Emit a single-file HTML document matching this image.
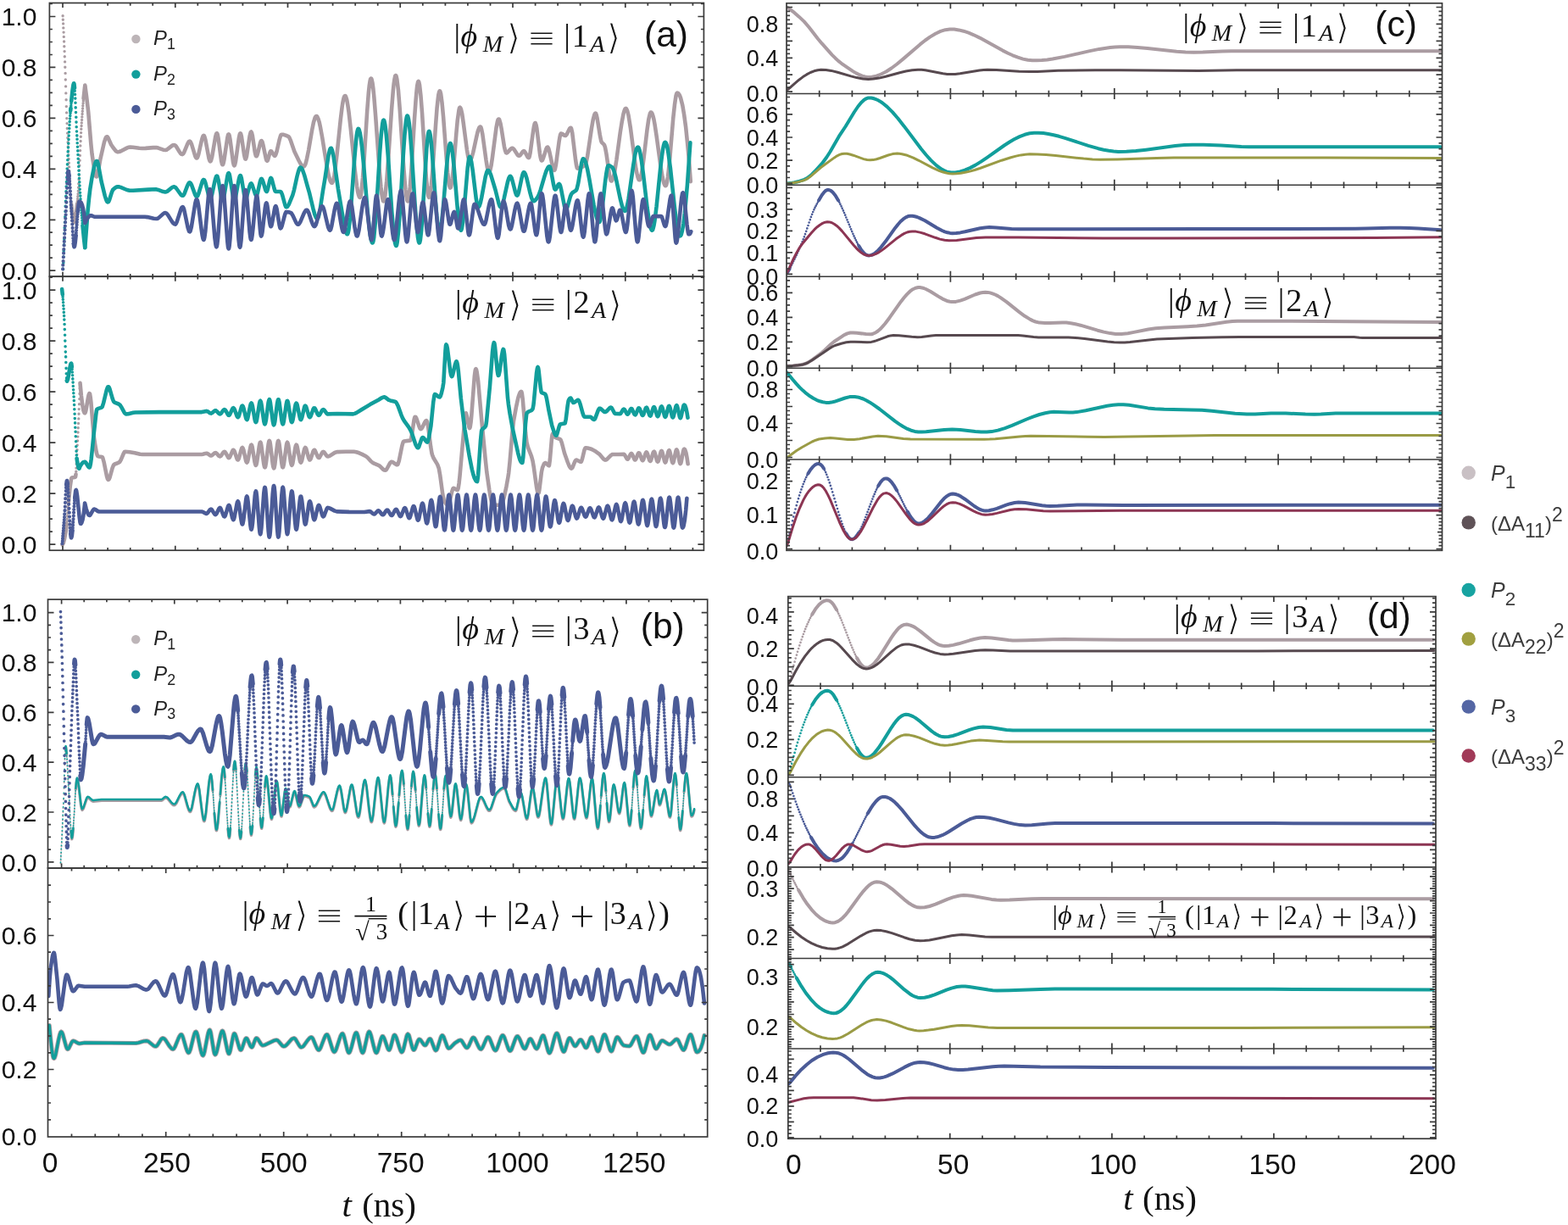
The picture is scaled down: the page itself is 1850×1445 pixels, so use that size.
<!DOCTYPE html>
<html><head><meta charset="utf-8"><title>Figure</title>
<style>html,body{margin:0;padding:0;background:#fff;}svg{display:block;}</style>
</head><body>
<svg width="1850" height="1445" viewBox="0 0 1850 1445"><defs><clipPath id="ca"><rect x="58.4" y="3.5" width="772.0" height="645.7"/></clipPath><clipPath id="cb"><rect x="56.5" y="707.1" width="778.2" height="633.9"/></clipPath><clipPath id="cc"><rect x="928" y="3.8" width="773.5" height="645.5"/></clipPath><clipPath id="cd"><rect x="929.8" y="703.6" width="764.2" height="639.6"/></clipPath></defs><rect width="1850" height="1445" fill="#fff"/><g clip-path="url(#ca)">
<path d="M84.1,241.1L85.1,249.5 86.3,257.4 87.3,261.2 87.8,262 88.1,262 88.6,260.9 89.3,257 91.1,240.3M98.6,116.1L100.1,102" fill="none" stroke="#aa9ca2" stroke-width="4.6" stroke-linejoin="round" stroke-linecap="round"/>
<path d="M74.1,18.7h0M74.3,23.2h0M74.6,27.9h0M74.8,32.9h0M75.1,38.1h0M75.3,43.4h0M75.6,49h0M75.8,54.7h0M76.1,60.6h0M76.3,66.7h0M76.6,72.9h0M76.8,79.3h0M77.1,86.4h0M77.3,94h0M77.6,101.9h0M77.8,109.9h0M78.1,117.8h0M78.3,125.6h0M78.6,132.9h0M78.8,139.6h0M79.1,145.6h0M79.3,151.5h0M79.6,157.1h0M79.8,162.6h0M80.1,167.8h0M80.3,172.9h0M80.6,177.9h0M80.8,182.7h0M81.1,187.5h0M81.3,192.2h0M81.6,196.9h0M81.8,201.7h0M82.1,206.6h0M82.3,211.6h0M82.6,216.5h0M82.8,221.3h0M83.1,225.9h0M83.3,230.3h0M83.6,234.3h0M83.8,238h0M84.1,241.1h0M91.1,240.3h0M91.3,237.5h0M91.6,234.6h0M91.8,231.7h0M92.1,228.8h0M92.3,225.3h0M92.6,221.3h0M92.8,216.8h0M93.1,211.8h0M93.3,206.5h0M93.6,200.9h0M93.8,195.1h0M94.1,189.3h0M94.3,183.4h0M94.6,177.6h0M94.8,171.9h0M95.1,166.5h0M95.3,161.3h0M95.6,156.6h0M95.8,152.3h0M96.1,148.5h0M96.3,144.9h0M96.6,141.4h0M96.8,137.9h0M97.1,134.5h0M97.3,131.2h0M97.6,128h0M97.8,124.8h0M98.1,121.8h0M98.3,118.9h0M98.6,116.1h0" fill="none" stroke="#aa9ca2" stroke-width="3.4" stroke-linecap="round"/>
<path d="M100.3,100.5L102.2,114.9 104.2,131.9 107.4,170.5 108.6,182.2 111.7,202.6 112.8,206.8 113.3,208 113.7,208.4 114.1,208.3 114.5,207.6 115.4,204.5 118.5,187.2 122.9,168 124.5,163.1 125.3,161.7 125.9,161.2 126.7,161.5 127.6,162.7 131.2,170.8 134.2,175.1 136.8,178.2 137.9,178.9 138.9,179.2 140.5,179 142.2,178.5 150.1,174.4 151.9,173.8 153.6,173.5 156.8,173.7 164.3,174.7 167.6,175 171.7,174.9 180.8,174.1 184.3,174 186.7,174.6 192.6,176.7 195.3,177 196.5,176.7 197.8,175.9 203.3,171.7 204.4,171.2 205.6,171 206.8,171.5 207.9,172.8 211.7,179 213,180.8 214,181.8 215.1,182.1 216.1,181.4 217.2,179.7 220.8,170.8 222,168.3 223,166.9 223.9,166.6 224.8,167.5 225.9,169.7 230.3,184.1 231.2,185.9 231.7,186.4 232.1,186.5 232.6,186.2 233.2,185.3 234.2,182.3 237.6,167 238.6,163 239.5,160.7 240,160 240.4,159.9 240.8,160.2 241.3,161.1 242.4,164.8 246.5,186.9 247.5,189.6 247.8,190.2 248.2,190.4 248.6,190.1 249.1,189 250.2,184.9 254.2,161.3 255.1,158.1 255.5,157.4 255.9,157.2 256.3,157.6 256.7,158.6 257.6,163.2 261.2,190.3 262,193.5 262.4,194.2 262.7,194.3 263.1,193.9 263.6,192.5 264.5,188.2 268.3,162.5 269,159.4 269.4,158.6 269.8,158.3 270.2,158.7 270.6,159.8 271.5,164.5 275,191.2 275.8,194.5 276.2,195.3 276.4,195.4 276.8,195 277.2,194 278,190.5 281.8,163.3 282.7,158.9 283.1,157.8 283.5,157.2 283.7,157.2 284.1,157.8 284.9,160.8 288,182 288.8,185.8 289.4,187.5 289.8,187.6 290.2,187 291,184.3 294.6,160.5 295.6,156.6 295.9,155.8 296.3,155.5 297,156.5 297.8,159.7 300.6,178.4 301.3,181.7 301.9,183.8 302.2,184.2 302.6,184.3 303,183.9 303.5,182.8 304.4,179.7 307.1,168.4 307.9,166.5 308.3,166.1 308.7,166.1 309.5,167.4 310.2,170 313.8,187 314.5,189.2 315.2,189.8 315.7,189.4 316.2,188.2 318.4,180.1 319.3,178.2 319.9,178.2 320.6,178.9 323.5,183.5 324.3,183.8 324.9,183.2 325.7,181.4 326.5,178.8 329.5,165.4 330.8,160.8 331.4,159.3 332,158.8 334,158.8 336.2,159.4 338.6,160.2 340.4,161.1 341.2,162 343,165.9 347.4,178.7 352.6,189.5 354.3,192.6 355.9,194.8 357.3,196 358.6,196.3 359.4,195.5 360.3,193.7 361.2,190.8 362.2,186.5 364.1,177.1 368.1,153.6 370,144.2 371.7,138.8 372.5,137.5 373.3,137 373.8,137.2 374.3,137.7 375.5,140.2 376.7,144.1 377.8,149.2 380.2,162.1 385.3,194 387.7,206.7 388.8,210.7 389.8,213.7 390.8,215.4 391.4,215.8 391.8,215.8 392.1,215.4 392.7,214.4 393.6,211.2 394.5,206.4 395.5,199.3 397.5,182.6 401.8,141.1 403.7,125.5 404.6,120 405.5,115.9 406.3,113.8 406.7,113.2 407.1,113 407.6,113.3 408.1,114.2 409.2,117.6 410.3,123.8 411.5,131.9 413.7,151.2 418.7,200.3 421,219.3 422,225.6 423,229.6 423.9,232.1 424.4,232.8 424.8,232.9 425.2,232.4 425.6,231.1 426.3,226.8 428,210 429.6,188.2 433.2,130.9 434.9,109 435.7,101.4 436.5,96 437.1,93.3 437.5,92.6 437.8,92.5 438.2,92.9 438.6,93.9 439.5,98.1 440.4,104.9 441.4,115.1 443.2,137.7 447.5,198.5 449.5,221 450.4,228.8 451.2,233.7 451.9,236.6 452.3,237.3 452.7,237.4 453.1,236.8 453.5,235.7 454.4,230.8 456.2,213.4 457.9,190.9 462,129.9 463.8,107.1 464.7,98.5 465.5,93.2 466.2,89.9 466.6,89.1 466.9,89 467.2,89.1 467.5,89.9 468.3,93.2 469.9,106 471.7,128.5 475.7,189.9 477.6,214.3 478.5,224 479.4,231.4 480.3,236 480.7,237 481.1,237.4 481.3,237.3 481.7,236.4 482.4,233.4 483.8,220.7 485.5,197.8 489,140.3 490.6,117.9 491.5,107.6 492.2,101.1 493,97.1 493.4,96.1 493.7,95.9 493.9,96 494.3,96.9 495,99.9 496.4,112.4 498,132.9 501.5,189.1 503,211.1 504.7,227.7 505.5,231.7 506.2,232.9 506.4,232.8 506.8,232 507.5,229.4 508.9,218.2 510.6,197.9 514.1,146.8 515.6,126.9 516.6,117.8 517.3,112 518.1,108.4 518.8,107.3 519,107.4 519.4,108.1 520.1,110.6 521.5,121 523.1,138.1 526.6,184.8 528.1,203.2 529.8,217.1 530.6,220.5 531.2,221.5 531.8,221 532.4,218.9 533.7,210.5 535.3,194.9 538.4,157 539.8,141.7 541.4,130.2 542,127.6 542.4,126.9 542.7,126.7 543.3,127.3 544,128.9 545.3,134.8 546.8,145.3 550.9,176.8 552.2,184.4 553.3,188.5 554,189.4 554.4,189.5 554.8,189.2 555.6,188.2 556.5,186 558.3,179.5 562.2,161.4 563.7,155.1 564.7,152.3 565.4,150.6 566.2,149.7 566.9,149.5 567.4,150.2 568,152 569.3,158.3 573.5,188.8 574.8,196.9 576,201.7 576.5,202.8 577,203.2 577.5,202.8 578.2,201.3 579.5,195.6 580.9,186.1 585.5,150.8 586.9,143.4 587.5,141.4 588.2,140.5 588.7,140.5 589.2,141.3 590.4,145.3 591.6,151.6 594.9,172.7 596,177.5 597,180.1 597.7,180.4 598.7,179.9 602.9,175.4 603.8,174.8 604.7,174.7 605.6,175.3 606.5,176.3 610.5,182.6 611.3,183.4 612.1,183.8 612.9,183.7 613.7,183.1 617,178.6 617.8,178.1 618.5,178.2 619.6,179.6 622.5,185.1 623.2,185.8 623.7,186.1 624.1,186 624.6,184.9 625.6,180.2 628.9,156 629.9,149.5 630.8,145.9 631.3,145 631.7,145.1 632.5,147.2 633.3,151.3 636.9,180.8 637.7,185.6 638.5,188.7 638.9,189.4 639.1,189.5 639.7,189.2 640.2,188.4 641.2,185.9 644.5,175.5 645.4,173.9 645.9,173.5 646.3,173.6 647.2,175.2 648.1,178.3 652.3,197.6 653.2,200.1 653.6,200.7 654,200.9 654.4,200.6 654.9,199.4 655.9,194.6 659.7,166.3 660.5,161.7 661.2,158.6 661.8,157.6 662.4,157.5 663.5,158 666.1,159.8 667,160 667.5,159.8 668.8,158.2 671.9,152 672.6,151.1 673.2,150.7 673.7,150.9 674.1,151.8 675.2,156.6 679.1,188.7 680,194.6 680.7,197.7 681.1,198.5 681.4,198.6 682.8,198.5 684.4,198.1 687.5,196.7 690.4,194.6 691,193.2 691.7,191.1 693.2,183.7 698,151.1 699.7,141.3 701.3,135.4 702.1,133.9 702.7,133.6 703.1,134 703.6,135.3 704.5,139 707.8,159.2 709.1,165.6 709.6,167.2 710.1,168.1 712.3,170.2 713,171 714,174 715.5,181.9 719.1,206.8 720.3,211.9 720.8,213.1 721.3,213.5 721.7,213.4 722.2,212.8 723.1,210.8 724.2,207.1 725.2,202.1 727.4,188.5 731.8,156 733.7,144 735.6,134 736.5,130.8 737.3,128.9 737.8,128.2 738.3,127.9 738.7,128 739.2,128.6 740.3,131.2 741.5,136 743.8,150.3 748.5,186.2 750.4,199.3 751.5,204.8 752.5,209 753.4,211.4 753.9,212.1 754.3,212.3 754.7,212.2 755.1,211.7 756,209.2 756.9,205.1 757.8,199.7 759.5,187.1 763.4,153.9 765.2,141.3 766.2,136.8 766.9,134 767.7,132.6 768.4,132.5 769.3,133.6 770.3,136.4 771.4,140.6 772.5,146.7 774.6,160.3 779.3,194.8 781.6,209 782.7,213.7 783.6,216.8 784.5,218.6 785,219.1 785.4,219.2 785.8,218.8 786.2,217.9 787,214.8 787.9,209.1 788.8,201.6 790.5,184.2 794.2,140.1 796.1,122.6 797.6,112.7 798.4,110.2 798.8,109.7 799,109.6 800.1,110 801.1,111.2 802.2,113.2 803.2,116.1 805.3,124.4 807.2,135.6 809.2,150.4 811.1,168.9 813,189.7 814.8,214.1" fill="none" stroke="#aa9ca2" stroke-width="4.6" stroke-linejoin="round" stroke-linecap="round"/>
<path d="M83.2,130.5L83.5,127.7M84.2,119.2L85.5,106.5 86.5,99.9 87,98.4 87.2,98.3 87.5,99.1 88,103.7M97.5,266.1L99,281.6 100.2,291.9" fill="none" stroke="#129e9b" stroke-width="4.6" stroke-linejoin="round" stroke-linecap="round"/>
<path d="M74.5,317.4h0M74.8,310.1h0M75,303h0M75.2,295.9h0M75.5,288.9h0M75.8,282.1h0M76,275.3h0M76.2,268.7h0M76.5,262.2h0M76.8,255.8h0M77,249.5h0M77.2,243.3h0M77.5,237.3h0M77.8,231.4h0M78,225.7h0M78.2,220.1h0M78.5,214.6h0M78.8,209.3h0M79,204.1h0M79.2,199h0M79.5,193.9h0M79.8,188.8h0M80,183.8h0M80.2,178.9h0M80.5,174h0M80.8,169.2h0M81,164.6h0M81.2,160.1h0M81.5,155.7h0M81.8,151.5h0M82,147.5h0M82.2,143.6h0M82.5,140h0M82.8,136.6h0M83,133.4h0M83.2,130.5h0M83.5,127.7h0M83.8,124.9h0M84,122h0M84.2,119.2h0M88,103.7h0M88.2,107.2h0M88.5,111.4h0M88.8,116.1h0M89,121.3h0M89.2,126.9h0M89.5,132.6h0M89.8,138.3h0M90,144.1h0M90.2,149.7h0M90.5,155h0M90.8,159.9h0M91,164.3h0M91.2,168.8h0M91.5,173.3h0M91.8,177.9h0M92,182.5h0M92.2,187.2h0M92.5,191.9h0M92.8,196.5h0M93,201.2h0M93.2,205.7h0M93.5,210.2h0M93.8,214.7h0M94,219h0M94.2,223.2h0M94.5,227.2h0M94.8,231.1h0M95,234.8h0M95.2,238.2h0M95.5,241.5h0M95.8,244.8h0M96,248h0M96.2,251.2h0M96.5,254.3h0M96.8,257.3h0M97,260.3h0M97.2,263.3h0M97.5,266.1h0" fill="none" stroke="#129e9b" stroke-width="3.6" stroke-linecap="round"/>
<path d="M100.3,292.3L103.5,249.5 105,234.3 106.3,223.2 108.6,209 110.8,197.9 112.5,192.1 113.3,190.6 113.9,190 114.5,190 114.9,190.6 115.9,193.8 119.7,214.4 123.8,231.1 124.9,234.6 125.8,236.9 126.6,238.1 127.3,238.5 128.1,237.9 128.9,236.3 131.9,226.7 133.1,224 134.5,222.6 136.2,221.3 137.5,220.6 138.8,220.3 140.5,220.4 142.3,220.9 149.7,224 152.9,224.8 157,224.8 175.2,223.6 183.9,223.3 186.6,223.9 192.5,226.1 194.9,226.5 196.1,226.3 197.5,225.6 203.1,221 204.3,220.5 205.5,220.3 206.6,220.8 207.9,222 213.3,229.5 214.4,230.5 215.5,230.8 216,230.6 216.5,230.2 217.6,228.4 220.9,219.6 222.1,217 223,215.7 223.9,215.3 224.8,216 225.9,217.9 230.3,229.9 231.3,231.5 231.9,231.9 232.2,231.9 233.2,231 234.2,228.7 238.6,214.4 239.5,212.6 240,212.1 240.4,212 240.8,212.2 241.3,212.9 242.3,215.3 246.4,231.5 247.3,233.5 247.7,233.9 248.1,234 248.5,233.7 249,232.8 250.1,229.6 253.2,214.8 254.2,210.7 255.1,208.3 255.5,207.8 255.9,207.6 256.3,207.9 256.7,208.7 257.6,212.2 261.2,233 262,235.4 262.4,235.9 262.7,236 263.1,235.6 263.6,234.4 264.5,230.6 268.3,207.9 269,205.2 269.4,204.4 269.8,204.2 270.5,205.1 271.2,208.1 274.8,231.1 275.5,234.5 275.9,235.5 276.3,236 276.7,235.8 277.1,235.2 277.9,232.8 281.8,211.6 282.7,208.3 283.5,207 283.7,207 284.1,207.6 284.9,210.2 288.1,229.7 288.9,232.8 289.3,233.7 289.7,234 290.4,233.5 291.1,231.9 294.5,219.5 295.3,217.5 295.9,216.5 296.3,216.4 296.7,216.6 297.5,217.9 300.9,228.4 301.7,230 302.1,230.5 302.4,230.6 303.1,229.9 303.9,227.7 306.7,214.9 307.4,212.6 308,211.2 308.4,210.9 308.8,211 309.6,212.2 310.5,214.7 313.1,223.7 313.9,225.4 314.3,225.9 314.7,226 315.2,225.4 315.8,223.5 318.6,211.8 319.1,210.5 319.6,210 320.3,210.6 321,212.5 323.5,222.3 324.5,225.2 325.2,226 331,226 331.7,226.5 333,229.7 336.4,242 337.3,243.9 337.7,244.2 338.1,244.3 338.7,244 339.4,243.4 340.8,241.1 345.3,230.1 347,224.1 350.5,208 352,202.4 352.8,200 353.5,198.4 354.2,197.6 354.8,197.5 355.7,198.2 356.8,200 359,206.2 362.8,219.9 365.2,228.2 369.5,246.3 371.3,252.9 372.3,255.3 373,256.9 373.8,257.8 374.5,258 375.1,257.3 375.9,255.3 377.5,248 381,225 383.2,212.1 387.6,182.9 389,176.9 389.7,175.3 390.3,174.7 390.7,174.8 391.1,175.3 391.9,177.2 393.6,185 398.9,222.6 406.1,265.5 407.1,270.3 408.1,273.9 409,275.8 409.6,276.3 410,276.2 410.6,274.9 411.4,271.2 413.1,256.5 414.6,237.4 418.3,186.5 420,166.9 420.7,160.1 421.5,155.1 422.2,152.6 422.6,151.9 422.8,151.8 423.2,152.1 423.7,153 424.8,157 425.8,163.4 427,173 429.1,194.5 433.7,249.6 436,270.9 437,278.3 437.9,283.1 438.8,285.8 439.2,286.4 439.6,286.5 440,285.9 440.4,284.6 441.2,280.1 442.8,262.9 444.4,240.7 448,181.9 449.7,159.3 451.3,145.6 451.9,142.6 452.3,141.8 452.6,141.6 453,141.9 453.4,142.8 454.3,147 455.2,153.7 456.2,164.1 458.1,187.3 462.3,250 464.3,273.2 465.2,281.2 466,286.2 466.8,289.2 467.2,289.9 467.4,290 467.7,289.8 468.1,288.9 468.7,285.7 470.1,272.8 472,247.5 475.6,185.7 477.3,160.5 479,142.8 479.8,138.2 480.2,137 480.5,136.5 480.8,136.6 481.2,137.3 482,140.5 482.8,145.9 483.7,154.5 485.5,177.6 489.5,239.7 491.2,262.6 493,280.1 493.9,284.9 494.3,286 494.7,286.5 495,286.4 495.2,285.9 495.9,283.1 497.2,271.6 498.7,250 503.3,176 504.9,159.8 505.5,156.2 505.9,155.1 506.2,154.8 506.4,154.9 506.8,155.7 507.5,158.4 508.8,168.3 510.4,188.1 513.8,236.4 515.3,254.4 516.8,268.5 517.6,272.5 518.2,273.9 518.5,274 518.9,273.5 519.5,271.6 520.3,267.7 521.1,262 522.8,245.7 526.4,202.5 528,186.1 529.7,173.5 530.5,170.2 530.9,169.4 531.2,169 531.5,169.1 531.9,169.7 532.5,171.8 534,181 535.7,197.5 539.2,239.3 540.7,255.6 542.3,267.2 543.1,270.5 543.7,271.6 544,271.7 544.2,271.4 544.9,269.4 546.1,261.8 547.4,248.8 551.7,198.1 553,188.4 553.6,185.7 554.1,184.9 554.6,185.2 555.2,186.4 556.3,191.6 557.8,201.6 561.8,234.7 563.1,241.7 563.7,243.6 564.3,244.3 564.9,244 565.6,243 566.9,239.1 568.3,232.5 572.8,208.1 574.3,203 574.9,201.6 575.4,201 576.2,201 577.1,201.9 578,203.6 579.1,206.2 584.5,224 588.6,240.5 589.7,243.4 590.3,244.1 590.8,244.3 591.3,244 592,243.1 593.3,239.6 594.7,234 599,214.5 600.4,210 601.6,208 602.1,207.8 602.6,208.1 603.7,210.1 604.8,214 608.1,227 609.1,229.7 609.6,230.4 610.2,230.6 610.5,230.3 611.1,229.5 612.1,226.3 615.4,210.6 616.5,206 617.2,204.2 617.7,203.4 618.2,203.2 618.7,203.5 619.9,205.5 621.2,209.4 625.5,227.7 627.1,233.4 628.5,236.6 629.1,237.3 629.9,237.3 631,236.7 632.3,235.4 634.3,232.6 635.5,230.4 637.8,223.9 642.4,208.1 644.3,202.2 645.4,199.7 646.4,197.8 647.3,196.7 648.2,196.3 648.6,196.5 649,197.2 649.9,200.3 653.1,217.8 654.2,222.5 654.9,223.6 655.5,223.5 656.4,222.3 658.9,217.4 659.7,216.9 660.3,217.4 661.1,219.4 662,223 665.9,242.9 666.8,245.6 667.4,246.4 667.7,246.6 668.1,246.4 668.7,245.7 669.6,243.7 672.8,232.2 674.1,228.9 675.5,227.3 679.2,224.9 680.1,223.9 680.6,222.7 682.2,216.1 686.2,192.2 687.4,188.1 687.9,187.3 688.5,187.3 689.6,188.4 690.8,191 691.9,194.9 693.1,199.8 695.3,211.2 700.5,241.4 703,253.2 704,257 705.1,259.8 706.1,261.5 707,262 707.5,261.5 708.2,259.8 709.3,254 710.8,243.5 713.9,215.6 715.2,205.5 716.6,197.7 717.3,195.8 717.8,195.2 719.6,195.6 722.1,197.1 723,198.2 723.9,200.2 725.1,203.8 726.4,208.8 731.7,234.1 733.9,242.8 735.1,246.1 736.3,248.3 736.9,248.8 737.4,248.9 737.8,248.6 738.3,247.9 739.1,246 739.9,243.1 741.6,234.4 747.2,195.2 749.1,183.4 750,179.1 750.9,175.9 751.9,174 752.6,173.5 753,173.7 753.5,174.4 754.6,177.4 755.6,182 756.8,189 758.9,204.7 763.6,244.9 765.8,260.4 766.7,265.2 767.6,268.8 768.5,271 769.3,271.7 769.7,271.5 770.1,271 770.8,268.8 771.6,265.4 772.5,260 774.6,243.5 779,200.3 781,183.6 782,176.6 782.9,172 783.8,168.9 784.4,168 784.7,167.8 785.1,167.9 785.7,168.6 786.6,170.9 787.5,174.7 788.5,180.5 790.9,198.1 795.8,243.5 798,261.3 799.2,268.7 800.3,274.3 801.4,277.4 801.9,278.2 802.4,278.5 803.1,278 803.7,276.8 805,271.9 806.5,263.3 807.9,251.5 810.9,218.4 814.4,168.4" fill="none" stroke="#129e9b" stroke-width="4.6" stroke-linejoin="round" stroke-linecap="round"/>
<path d="M80.1,204.5L80.3,202.5 80.6,201.8 80.8,202.2 81.6,207.5M86.8,287.2L87.3,290.7 87.6,291.2 88.1,290.2 88.8,285.4 89.6,277.7M91.8,249.6L92.6,242.4 93.3,238.3 93.6,237.8 94.3,237.9 95.1,238.3 95.6,238.8 96.8,241.4 98.1,246.3 99.1,252.4 100.1,260.9" fill="none" stroke="#4b5b97" stroke-width="4.6" stroke-linejoin="round" stroke-linecap="round"/>
<path d="M74.1,317.4h0M74.3,312.7h0M74.6,308h0M74.8,303.3h0M75.1,298.7h0M75.3,294h0M75.6,289.4h0M75.8,284.9h0M76.1,280.3h0M76.3,275.7h0M76.6,271.2h0M76.8,266.7h0M77.1,262.2h0M77.3,257.8h0M77.6,253.3h0M77.8,248.9h0M78.1,244h0M78.3,238.7h0M78.6,233.1h0M78.8,227.4h0M79.1,221.8h0M79.3,216.5h0M79.6,211.7h0M79.8,207.7h0M80.1,204.5h0M81.6,207.5h0M81.8,210.4h0M82.1,213.8h0M82.3,217.4h0M82.6,221.3h0M82.8,225.4h0M83.1,229.6h0M83.3,233.8h0M83.6,237.9h0M83.8,241.9h0M84.1,245.7h0M84.3,249.2h0M84.6,252.5h0M84.8,256.3h0M85.1,260.3h0M85.3,264.6h0M85.6,268.9h0M85.8,273.1h0M86.1,277.2h0M86.3,281h0M86.6,284.3h0M86.8,287.2h0M89.6,277.7h0M89.8,274.8h0M90.1,271.6h0M90.3,268.4h0M90.6,265.2h0M90.8,261.9h0M91.1,258.6h0M91.3,255.5h0M91.6,252.4h0M91.8,249.6h0" fill="none" stroke="#4b5b97" stroke-width="4.2" stroke-linecap="round"/>
<path d="M100.3,262.9L102.1,259.2 103.8,256.6 105.4,254.9 106.9,254.2 108.1,254.3 110.8,255.5 112,255.7 170.8,255.7 174,256.1 181.4,257.7 184.8,258 186,257.7 187.3,256.9 192.9,251.9 194,251.3 195.1,251.1 196.4,251.6 197.9,253.2 202.6,260.9 204.2,263.1 205.6,264.3 206.8,264.6 207.3,264.2 207.8,263.6 208.8,261.3 213.5,246.7 214.6,244.7 215.5,244.1 215.9,244.3 216.4,245 217.3,247.6 221.7,268.8 222.8,272.1 223.3,273.1 223.8,273.4 224.3,273 224.8,271.8 225.9,267.4 230.3,239.8 231.2,236.4 231.7,235.4 232.1,235.2 232.6,235.8 233.2,237.3 234.2,242.8 237.6,270.1 238.6,277.3 239.5,281.4 240,282.7 240.4,282.9 240.8,282.3 241.3,280.1 242.3,273 246,230.4 246.8,225.1 247.2,223.6 247.6,223.1 248,223.6 248.4,225 249.3,231.2 253.4,280.5 254.5,288.6 255,290.7 255.4,291.2 255.8,290.6 256.3,288.1 257.2,279.8 261.1,227.2 261.9,221.2 262.3,219.6 262.7,219.2 263.1,220.1 263.6,222.9 264.5,231.9 268.3,284.7 269,291.1 269.4,292.8 269.8,293.4 270.2,292.6 270.6,290.4 271.5,281 275,227.6 275.8,220.9 276.2,219.4 276.4,219.2 276.8,220.1 277.2,222.3 278.1,231.3 281.6,283 282.4,289.7 282.8,291.3 283.1,291.7 283.3,291.4 283.7,290 284.5,283.8 288,235.1 288.9,226.7 289.3,224.8 289.7,224.2 290,224.5 290.4,225.8 291.1,231.4 294.6,273.7 295.4,280.1 295.8,282 296.2,282.9 296.5,282.8 296.9,281.9 297.6,277.5 298.5,269.2 301.3,239.3 302.2,232.9 302.6,231.4 303,230.8 303.2,231.1 303.5,232 304.1,236.7 306.9,270.7 307.5,276.3 307.9,278.1 308.2,278.5 308.4,278.3 308.8,277.4 309.5,274.1 312.7,245.9 313.5,241.2 313.9,239.9 314.3,239.4 314.8,240.1 315.4,242.8 318.2,262.4 318.8,265.7 319.5,267.3 319.7,267.3 320.1,266.7 320.8,264.6 323.9,246.8 324.5,244.3 325.2,243.2 325.5,243.3 325.8,243.9 326.5,246.2 329.6,265.5 330.4,268.6 330.8,269.3 331,269.4 331.8,268.6 332.6,266.7 336,253.6 336.8,251.4 337.5,250.1 338.6,250 340.7,250.3 343,251 343.8,251.5 345.5,254.2 349.5,262.9 350.7,264.4 351.7,264.8 352.2,264.6 352.9,264.1 354.2,262.1 358.3,252.4 359.6,249.8 360.8,248.2 361.9,247.7 362.4,247.9 362.9,248.4 364.2,250.8 367.8,261.7 369.1,265 370.3,266.8 370.8,267.1 371.3,267 372.4,265.6 373.4,262.9 376.9,249.8 378.1,246.1 379.1,243.9 379.7,243.4 380.2,243.2 380.7,243.6 381.2,244.4 382.4,247.7 386.2,264 387.3,268.4 388.4,270.9 388.9,271.5 389.3,271.7 389.7,271.5 390.2,270.6 391.2,267 394.6,248.1 395.7,243.2 396.6,240.5 397.1,239.8 397.5,239.8 397.9,240.2 398.4,241.4 399.4,245.7 402.5,264.6 403.6,270 404.5,273 404.9,273.7 405.3,274 405.7,273.8 406.1,273 407,269.8 411.3,242.9 412.3,238.7 412.8,237.6 413.2,237.4 413.6,237.7 414.1,238.9 415.2,243.6 418.5,267.9 419.6,274.1 420.5,277.6 420.9,278.3 421.3,278.5 421.8,278 422.3,276.7 423.5,271.5 427.2,245.3 428.4,238.3 429.5,234.2 430,233.2 430.5,232.9 430.9,233.4 431.4,235.1 432.4,241.1 435.7,269.8 436.7,277.5 437.6,281.9 438,282.8 438.4,283.1 438.7,282.7 439.1,281.2 439.9,275 443,237.3 443.6,232.5 444,230.9 444.3,230.6 444.5,230.8 444.9,232.1 445.6,236.2 448.7,270.1 449.3,275.3 450,278.2 450.4,278.5 450.9,277.7 451.8,273.9 452.9,266.8 456,241.6 456.9,237 457.4,235.5 457.8,235.2 458.2,235.6 458.6,236.7 459.4,240.8 463.3,275.5 464.2,281 464.7,282.7 465.1,283.1 465.5,282.7 466,281.1 467,274.6 470.4,240.2 471.4,231.3 472.4,226.3 472.7,225.2 473.1,224.9 473.4,225.2 473.8,226.6 474.6,232 478.2,275.3 479.1,282.7 479.5,284.5 479.9,285.4 480.3,285.1 480.7,283.8 481.5,278.6 485,238.5 485.7,232 486.5,228.6 486.9,228.4 487.3,229.2 488.1,233.4 491.3,265.9 492,270.8 492.6,273.6 492.9,274 493.3,273.8 494.1,270.9 495,264.7 497.4,244 498.2,239.9 498.6,238.8 499,238.6 499.7,240.2 500.4,244.6 503.8,273.1 504.5,276.3 504.9,277.2 505.1,277.4 505.4,277.2 505.8,276 506.5,271.5 510.2,235.1 511.1,229.1 511.5,227.7 511.9,227.2 512.3,227.7 512.7,229.1 513.4,234.5 516.9,274.1 517.9,281.3 518.2,283.2 518.6,284.1 518.9,284.2 519.3,283.3 520.1,278.7 523.3,243.4 524.1,237.5 524.5,235.8 524.9,235.2 525.1,235.3 525.5,236.1 526.3,239.3 529.2,258.8 529.8,262.3 530.5,264.4 530.7,264.7 531.1,264.7 531.8,263.6 534.6,252.4 535.3,250.6 535.9,250 536.4,250.8 537.1,253.3 539.6,267.3 540.1,269 540.5,269.4 540.9,269.1 541.3,268.2 542.2,264.2 545.9,238.8 546.7,235.9 547.1,235.3 547.5,235.3 548.1,237.4 548.9,242.4 552.2,272.5 552.8,276 553.2,277.1 553.5,277.4 553.7,277.2 554.1,276.4 554.9,272.9 558.2,247.5 558.9,243.1 559.6,241.1 560,240.9 560.8,241.3 562.2,243.4 563.7,247.2 567.1,257.5 568.6,261.3 570.1,264.1 570.8,264.6 571.4,264.8 571.9,264.3 572.5,263.3 573.5,259.8 576.7,243.6 577.9,238.6 579,235.8 579.5,235.3 579.9,235.3 580.3,235.9 580.8,237.7 581.7,242.9 585.6,274.9 586.5,279.4 586.9,280.4 587.3,280.8 587.5,280.6 587.9,279.8 588.7,276 592.3,244.5 593.3,239.2 593.6,237.9 594,237.4 594.4,237.6 594.8,238.2 595.7,241 596.8,246 600.1,265.6 601.2,269.3 601.7,270.3 602.1,270.5 602.5,270.3 603,269.4 604,265.9 607.4,247.7 608.6,242.5 609.6,240 610.2,239.7 610.5,240 611.5,242.2 612.4,246.2 616.3,268.4 617.2,271.6 617.7,272.6 618.1,272.8 618.5,272.6 619,271.6 620,267.9 623.4,248.4 624.5,243.3 625.4,240.5 625.9,239.8 626.3,239.8 627.1,241.7 627.8,245.8 631.5,273.2 632.3,276.5 632.6,277.3 633,277.3 633.7,275.2 634.5,269.5 637.7,234.5 638.5,229.6 638.9,228.5 639.1,228.3 639.5,228.8 640.1,230.6 641.1,237.2 645.4,278.7 646.3,283.8 646.7,285 647.1,285.4 647.5,285.1 648,283.5 648.9,278.3 653.1,239.5 654,233.6 654.5,231.5 654.9,230.7 655.3,230.7 655.7,231.4 656.6,235.7 660.2,266.8 661.1,272.1 661.5,273.4 661.9,274 662.2,273.9 662.5,273.1 663.2,270.1 666.1,247.4 666.7,243.8 667.2,242.2 667.5,242 667.9,242.4 668.7,245 671.9,267 672.7,270.5 673.1,271.4 673.5,271.7 673.9,271.4 674.4,270.2 675.4,266.1 678.7,245.9 679.7,240.4 680.7,237 681.3,236.3 681.7,236.5 682.4,239 683.2,244 686.7,274.5 687.5,278.5 688.2,279.7 688.5,279.3 688.9,278.1 689.7,273.3 693.4,236.5 694.3,230.4 694.7,228.9 695,228.3 695.3,228.5 695.7,229.6 696.5,234.4 700.2,276.9 701.2,283.5 701.5,285 701.9,285.4 702.2,285.1 702.6,283.8 703.4,278.7 707,237.8 707.8,231.6 708.6,228.5 709,228.4 709.3,229.2 710.1,233.1 711,240.5 713.9,268.8 714.8,274.5 715.2,275.8 715.6,276.3 716.2,275.6 717,272.9 720.8,250.2 721.7,246.5 722.1,245.7 722.5,245.4 723,245.9 723.5,247.3 725.9,257.9 726.4,259.5 726.9,260.3 727.4,260 728.1,258.6 730.8,248.7 731.4,247.7 731.7,247.7 732.1,248.1 732.7,249.7 733.5,252.9 736.9,270.8 737.9,273.7 738.3,274 738.7,273.7 739.5,270.6 740.3,265 743.8,230.9 744.6,226.4 745,225.2 745.4,224.9 746,226.7 746.8,232.3 750.3,274.9 751.2,282.6 751.6,284.5 752,285.4 752.4,285.2 752.8,284.1 753.5,279.7 757.3,242.7 758.2,236.9 758.6,235.6 759,235.2 759.4,235.5 759.8,236.4 760.6,239.5 763.9,261.3 764.7,265 765.5,266.9 765.8,267.1 766.2,266.9 766.8,265.9 769.5,257.3 770.2,255.8 770.7,255.1 779.9,255 780.5,255.3 781,256.2 783.7,265 784.4,266.5 785,267 785.4,266.7 785.9,265.3 786.8,261 790.6,234.8 791.5,231.3 791.9,230.7 792.2,230.6 792.3,230.8 792.9,233.9 793.6,240.1 796.6,279.9 797.2,284.9 797.6,286.3 797.9,286.5 798.3,285.9 798.8,284 799.8,277 803.1,243.1 804.1,233.9 805,228.7 805.5,227.4 805.9,227.3 806.3,228 806.7,229.7 807.5,234.9 810.5,265.1 811.7,273.7 812.3,276 812.6,276.3 813.2,276.3 813.9,276 814.4,275.4 815.3,273.2" fill="none" stroke="#4b5b97" stroke-width="4.6" stroke-linejoin="round" stroke-linecap="round"/>
<path d="M73.5,642.3L74,642 74.8,640.5 76,635.9 78,625 78.8,618.3M80.8,592.5L82.8,573.4 84,565.1 84.2,564.3 84.8,563.6 88,563 89,562.6 89.5,559.5" fill="none" stroke="#aa9ca2" stroke-width="4.6" stroke-linejoin="round" stroke-linecap="round"/>
<path d="M78.8,618.3h0M79,615.3h0M79.2,612h0M79.5,608.6h0M79.8,605.2h0M80,601.8h0M80.2,598.4h0M80.5,595.3h0M80.8,592.5h0M89.5,559.5h0M89.8,556.3h0M90,552.1h0M90.2,547.2h0M90.5,541.8h0M90.8,536.2h0M91,530.6h0M91.2,525.1h0M91.5,520h0M91.8,515.1h0M92,510h0M92.2,504.8h0M92.5,499.4h0M92.8,493.9h0M93,488.3h0M93.2,482.6h0M93.5,476.7h0M93.8,470.6h0M94,464.5h0M94.2,458.2h0" fill="none" stroke="#aa9ca2" stroke-width="3.4" stroke-linecap="round"/>
<path d="M94.5,451.8L95.9,466.8 97.2,477.3 98.5,484.2 99.2,486.2 99.7,487.1 100.1,487.3 100.5,487 101.3,484.6 103.9,469.5 104.6,465.9 105.4,464.1 105.8,464.2 106.1,464.9 106.7,468.6 107.4,474.5 110.6,513.8 112.2,524.4 113.7,533.1 114.6,536.6 115.4,538.1 116.6,538.4 120.4,539 120.8,539.3 121.3,540.3 122.6,545 126,561.8 126.9,564.8 127.4,565.7 127.8,565.9 128.6,565.3 129.5,563.3 132.6,552.2 133.9,548.9 134.4,548.2 135.4,547.5 139.7,545.8 141.4,544.7 142.7,542.4 146,534.5 146.9,533.1 147.7,532.7 152.9,533.2 159,534.2 165.3,535.7 168.3,536 238,536 239.4,535.8 242.4,534.9 243.7,534.7 245,535.2 247.8,537.2 248.9,537.5 250.2,537 253.1,534.5 254.3,534.1 254.9,534.3 255.6,534.8 258.3,537.9 259.5,538.4 260,538.3 260.6,537.8 263.5,533.7 264.1,533.1 264.8,532.8 265.4,533.1 266.1,533.9 269,539.2 269.6,539.9 270.1,540.1 270.8,539.7 271.4,538.6 274.3,531.8 274.9,531 275.5,530.8 276.1,531.4 276.8,532.7 279.5,541 280.1,542.2 280.7,542.5 281.2,542.2 281.8,540.8 284.7,530.2 285.3,528.6 286,528 286.6,528.7 287.3,530.6 290.1,543.5 290.8,545.2 291.3,545.7 292,544.7 292.6,542.4 295.5,527.1 296.1,525.1 296.6,524.7 297.2,525.5 297.7,527.3 300.5,545 301.2,547.7 301.8,548.9 302.4,548.3 303,545.8 305.9,525.9 306.5,522.9 306.9,521.9 307.2,521.7 307.7,522.4 308.3,525.3 311.2,547 311.9,550.2 312.2,551.2 312.5,551.4 312.8,551.1 313.2,550 313.8,546.6 316.7,523.6 317.3,520.7 317.6,520.1 317.8,519.9 318.4,520.9 319,524.2 321.7,547 322.4,550.7 323,552.3 323.3,552.2 323.6,551.6 324.2,548.6 327.1,525 327.7,521.4 328.1,520.2 328.4,520 328.9,520.7 329.5,523.7 332.4,546.6 333,550 333.4,551.1 333.7,551.3 334,551.1 334.3,550.1 335,546.9 337.9,525.3 338.5,522.5 339,521.8 339.5,522.6 340.2,525.3 342.9,544.4 343.6,547.5 344.2,548.8 344.7,548.4 345.4,546.2 348.3,528.6 348.9,525.9 349.6,524.7 350.1,525.2 350.7,527.2 353.6,542.4 354.2,544.7 354.9,545.6 355.4,545.1 356.1,543.4 358.8,531.1 359.4,529 360.1,528 360.6,528.3 361.3,529.5 364.1,540.1 364.8,541.7 365.4,542.5 365.9,542.3 366.6,541.2 369.4,532.7 370.1,531.4 370.7,530.8 371.3,531 371.9,531.9 374.8,538.6 375.4,539.6 376.1,540 376.6,539.9 377.2,539.2 380,534.1 380.6,533.3 381.3,532.9 381.8,533 382.4,533.4 385.4,537.6 386.1,538.2 386.7,538.4 388,538.2 389.3,537.7 394.9,534 397.4,533.1 407.9,532.8 417.5,532.8 420.4,533.3 423.7,534.3 427.2,535.9 431.8,538.3 433.7,539.8 437.7,544.1 439.4,545.6 441.3,546.7 447.2,549.1 448.5,550.1 452.4,554 453.6,554.6 454.6,554.8 455.4,554.4 456.2,553.5 459.9,546.7 460.8,545.5 461.6,544.9 462.4,544.8 463.4,545.2 466.8,547.5 468,548.1 468.9,548.2 469.5,547.5 470.8,543.5 474.2,526.6 475,523.5 475.8,521.3 476.2,520.7 476.6,520.5 483.5,519.6 484.4,519.4 484.8,518.7 485.9,513.3 488.5,495.4 489.2,492.7 489.6,491.8 489.8,491.7 490.5,492.1 491.3,493.5 494.8,503.7 495.5,505.3 496.3,506.1 497.1,505.9 498,504.8 501,498.5 502,496.8 502.6,496.3 503.1,496.1 503.3,496.2 503.7,497 504.4,499.4 505.2,503.8 508.2,527.2 509.6,535.3 510.5,537.9 511.5,540.3 516.1,547.9 517.8,552.5 519.2,560.3 522.3,583.3 523.8,590.3 524.7,592.1 526.4,594.4 527.5,595.5 528.7,595.8 529.3,595.1 530.1,593.1 533.2,580 534.5,576.3 535.1,575.8 535.7,575.9 538.7,577.7 539.7,578 540.1,577.5 540.7,575.7 541.6,569.8 542.5,561.4 548.8,490.2 549.5,487.4 549.8,487.4 550.1,488 550.9,491 553.3,503.4 553.7,504.5 554,505 554.3,504.8 554.7,503.7 555.5,498.5 556.3,490.3 559.8,444.1 560.7,437.1 561.1,435.6 561.5,435.2 562,436 562.6,438.6 564.1,449.3 568,493 572.8,542.7 574.3,556.9 577.3,577.8 578.9,587.4 580.3,593.5 581,595.1 581.5,595.7 590.6,595.8 591.1,595.6 591.9,594.8 592.8,593 594.7,586.7 597.5,573.7 599.5,562.3 600.2,557.8 601.5,545 604.5,509.6 605.9,497.2 608.9,480.5 611.1,470.2 612.2,466.5 613.1,464.1 614,462.5 614.9,461.8 615.3,462.1 615.8,463.9 616.7,470.5 620.1,510.6 621.4,521.6 623.1,528.2 627,538.2 628.5,543.6 629.8,551.2 633.1,574.9 634.1,580 634.6,581.4 635,582 635.4,581.8 635.7,581.2 636.3,578.2 638.9,556.9 640,551.6 641.8,547.4 642.4,546.5 643.1,546 643.6,546 644.3,546.4 647.1,549.1 647.8,549.3 648,548.7 648.9,541.9 651,517.2 651.5,513.2 652.1,511.6 652.5,511.7 653,512.2 654.8,515.2 655.4,516 656.7,516.6 660.1,517.8 661,518.3 661.6,519 662.9,522.5 666,534.5 669.9,545.5 671.2,548.7 672.2,550.7 673.1,552 674,552.6 674.7,552.5 675.5,551.4 678.2,544.6 679.4,542.8 679.9,542.6 680.8,542.8 684.7,544.7 685.5,544.8 685.9,544.5 687,541.3 689.6,530.4 690.3,528.8 690.9,528.2 693.3,528.5 696.9,529.5 699.1,530.4 701.5,531.7 707.7,536.2 712.1,541.4 713.2,542.3 714.1,542.6 715,542.4 716,541.9 720.7,537.1 721.9,536.3 722.9,536 729.7,536 736.2,535.7 737.2,536.8 739.6,541.1 740.1,541.6 740.6,541.7 741.1,541.3 741.6,540.5 743.8,535.9 744.4,535.2 744.9,534.9 745.4,535.2 746.1,536.2 748.4,541.6 748.9,542.3 749.4,542.5 750,542 750.5,541.1 752.8,535.2 753.3,534.4 753.9,534.2 754.4,534.6 754.9,535.5 757.2,542 757.8,542.9 758.3,543.2 758.8,542.8 759.3,541.8 761.8,534.5 762.3,533.6 762.7,533.4 763.2,533.8 763.9,535.2 766.2,542.8 766.7,543.7 767.2,543.9 767.8,543.4 768.3,542.1 770.6,534 771.1,533 771.7,532.7 772.2,533.2 772.7,534.5 775,543.2 775.6,544.3 776.1,544.7 776.6,544.2 777.1,542.8 779.6,533.3 780.1,532.2 780.5,531.9 780.9,532.2 781.4,533.4 783.9,543.5 784.4,544.9 784.9,545.5 785.4,545 786.1,543.1 788.4,532.9 789,531.6 789.5,531.2 790,531.9 790.5,533.5 792.9,544.3 793.4,545.7 793.9,546.2 794.4,545.5 794.9,543.8 797.4,532.1 797.9,530.7 798.3,530.4 798.8,531.1 799.4,532.8 801.8,545.1 802.3,546.6 802.7,547 803.3,546.3 803.9,544.1 806.2,531.7 806.8,530.1 807.3,529.7 807.8,530 808.3,530.8 809.4,534 810.4,539.1 811.6,547.2" fill="none" stroke="#aa9ca2" stroke-width="4.6" stroke-linejoin="round" stroke-linecap="round"/>
<path d="M73.1,341.1L73.8,347.3M78.8,449L79.1,449.6 79.3,449.3 80.1,447.1 82.6,433 83.3,429.8 83.8,428.7 84.1,428.6 84.3,429.1 84.8,432.7M90.6,540.7L91.1,544.5 92.1,549.8 92.8,552.1 93.3,552.6" fill="none" stroke="#129e9b" stroke-width="4.6" stroke-linejoin="round" stroke-linecap="round"/>
<path d="M73.8,347.3h0M74.1,350.2h0M74.3,353.3h0M74.6,356.8h0M74.8,360.5h0M75.1,364.3h0M75.3,368.4h0M75.6,372.6h0M75.8,377.1h0M76.1,382.5h0M76.3,388.6h0M76.6,395.3h0M76.8,402.1h0M77.1,408.8h0M77.3,415.1h0M77.6,420.9h0M77.8,427.5h0M78.1,434.4h0M78.3,440.8h0M78.6,445.9h0M78.8,449h0M84.8,432.7h0M85.1,435.6h0M85.3,439h0M85.6,442.8h0M85.8,446.9h0M86.1,451.1h0M86.3,455.5h0M86.6,459.7h0M86.8,463.7h0M87.1,468h0M87.3,472.6h0M87.6,477.6h0M87.8,482.8h0M88.1,488.2h0M88.3,493.6h0M88.6,498.9h0M88.8,504.2h0M89.1,509.3h0M89.3,514.8h0M89.6,520.8h0M89.8,526.7h0M90.1,532.3h0M90.3,537h0M90.6,540.7h0" fill="none" stroke="#129e9b" stroke-width="3.6" stroke-linecap="round"/>
<path d="M93.4,552.6L94.8,549.5 96.4,547.1 97.9,545.5 99.6,544.8 100.4,544.9 101.2,545.5 103.9,550 104.8,551.2 105.6,551.5 106.1,550.7 106.9,547.1 107.7,541.2 110.6,512.6 113.2,489.5 113.9,484.4 114.3,483 114.8,482.5 116.1,481.9 119.4,480.9 120.2,480.4 120.7,479.7 122.1,475.4 125.8,460 126.8,457.2 127.3,456.4 127.7,456.2 128.1,456.3 128.5,456.7 129.4,458.6 132.7,470.2 134,473.5 134.5,474.1 135.6,474.9 139.8,476.5 141.5,477.6 142.9,479.7 146.7,486.7 147.7,487.9 148.8,488.4 151.4,488.2 157.2,486.8 159.8,486.5 187.9,486.1 238.1,486.1 243.5,484.9 244.8,485.2 247.8,487.3 249,487.6 250.3,487 253,484.7 254.2,484.3 254.9,484.4 255.5,484.9 258.4,487.9 259.5,488.4 260.2,488.2 260.8,487.6 263.7,483.7 264.3,483.2 264.9,483.1 265.5,483.5 266.2,484.2 268.9,489 269.5,489.7 270.1,489.9 270.6,489.7 271.2,488.9 274.1,482.5 274.7,481.6 275.4,481.2 276,481.7 276.7,482.9 279.6,490.9 280.2,492 280.7,492.2 281.4,491.6 282,490.1 284.9,480.1 285.5,478.9 286.1,478.6 286.7,479.4 287.4,481.3 290.1,492.9 290.7,494.6 291.3,495.1 291.8,494.7 292.4,492.8 295.3,478.5 295.9,476.4 296.6,475.5 296.8,475.7 297.2,476.4 297.9,478.9 300.7,495.4 301.4,497.6 301.9,498.1 302.2,497.9 302.6,497 303.2,494.2 306.1,475.7 306.7,473.3 307.2,472.8 307.9,474.1 308.5,477.2 311.4,497.4 312.1,499.9 312.3,500.4 312.6,500.4 313.2,498.9 313.9,495.5 316.6,474.9 317.3,472 317.8,471.1 318.3,471.9 318.9,474.8 321.8,496.8 322.5,500.1 322.8,501.1 323.1,501.3 323.6,500.5 324.3,497.5 327,476.3 327.7,472.7 328.3,471.2 328.6,471.2 328.8,471.7 329.5,474.3 332.3,495.6 333,499 333.6,500.4 333.9,500.3 334.2,499.8 334.8,497.3 337.7,477.2 338.3,474.1 338.7,473 339,472.8 339.5,473.4 340.1,475.8 343,494.3 343.6,497 344,497.9 344.3,498.1 344.8,497.5 345.5,495.3 348.2,479.5 348.8,476.8 349.5,475.6 350,475.9 350.7,477.6 353.7,492.4 354.3,494.4 354.7,495 355,495.1 355.6,494.3 356.3,492.4 359,480.8 359.6,479.1 360.2,478.6 360.7,478.9 361.3,480.2 364.2,490.1 364.8,491.6 365.5,492.2 366.1,491.7 366.8,490.6 369.6,482.6 370.3,481.5 370.8,481.3 371.3,481.5 372,482.4 374.7,488.5 375.4,489.5 376,489.9 376.5,489.8 377.2,489.2 380,484.2 380.7,483.5 381.3,483.1 381.9,483.3 382.5,483.7 385.2,487.4 385.9,488.1 386.5,488.4 398,488 416.7,488.4 418.5,487.9 420.7,486.9 426.1,483.5 436.7,477.1 446.5,471.7 450.4,469.3 452.2,468.5 453.6,468.4 455.1,469.1 458.7,471.9 460.4,472.4 466,473.7 467,474.3 467.9,475.4 469.7,479.1 473.4,489.3 474.9,493 477,496.6 482.1,503.6 484.4,507.5 486,511.2 490.5,524.7 492,527.4 492.6,528 493.3,528.2 493.8,527.8 494.4,526.6 497.2,518.3 497.8,516.8 498.5,516.1 499.1,516.1 499.9,516.7 502.5,520.3 503.4,521.3 504.3,521.6 504.8,520.8 506.1,515.7 508.4,502.7 511.3,473.8 512.5,466.2 513,465.1 513.7,465.2 514.7,465.8 517.3,468 518.1,468.3 518.8,468.4 519.3,468 519.8,467.1 520.8,464.1 522.4,457.2 523.3,451.5 525.5,413.4 526,407.7 526.4,406.4 527.1,407.5 527.9,411.1 531.2,437.5 532,441.9 532.7,443.8 533.1,444.1 533.4,443.8 534.2,441.9 536.8,430.5 537.9,427.1 538.4,426.4 538.8,426.4 539.4,428.2 540.1,432 540.9,438.6 543.8,469.7 547,496.3 548.4,506.6 553.6,537.2 556.8,553.5 558.4,559.7 559.8,564 561.3,566.9 561.9,567.7 562.6,568 563,568.1 563.3,567 564.1,561 567,519.5 568,509.1 568.4,507.4 568.9,506.5 569.8,505.6 571.9,504.1 573,502.7 573.5,500.7 574.1,496.4 577.9,456.4 581,415.5 581.9,407.5 582.5,404.9 582.8,404.2 583.1,404.4 583.4,405.1 584,409 586.7,437.2 587.4,441.5 587.9,443 588.3,442.8 588.7,441.8 589.5,438.1 591.9,419.9 592.9,414.6 593.4,412.7 593.8,412 594.2,412.3 594.4,413.2 595.1,417.5 595.7,424.4 599,469.1 599.9,476.8 601.6,488.2 604.6,504.6 611.1,534.1 612.4,539 613.5,542.5 614.7,544.9 615.7,545.9 616.3,545.9 616.5,545.1 617.3,539.1 620,500 621.1,489.4 621.5,487.6 622.2,486.6 623.5,485.6 626.1,484.5 627.2,483.9 628.3,482.7 628.7,481.6 629.4,477.9 630,472.4 633,440.4 633.8,435 634.2,433.5 634.6,433 635.1,434.1 635.6,437.2 637.7,456.7 638.5,461.8 638.9,462.9 639.4,463.3 642.3,464.3 643.3,465 644.1,466.6 645,470.3 647.3,483.2 651.2,501.9 654.1,510.8 655,512.8 655.9,513.8 656.3,513.7 656.6,513.5 657.2,512.1 659.7,503.1 660.6,500.9 661,500.5 661.8,500.3 666,499.6 666.6,499.4 666.8,498.9 667.7,494.4 669.7,478.4 670.5,473.5 670.9,472.1 671.4,471.2 672.3,470 673.1,469.5 673.5,469.6 673.8,470.1 675.7,474.1 676.4,475 677.7,474.6 681.3,472 682.2,471.8 682.8,472.4 683.6,474 684.4,476.2 687.8,488.3 688.5,490.3 689.3,491.5 689.8,491.7 696.7,491.8 697.6,492.3 699.8,494.5 700.8,495 701.5,494.6 702.3,493.4 705.7,484.1 706.5,482.6 707.1,481.8 707.8,481.7 708.7,482.1 712.5,485.4 713.4,485.9 714.1,486 714.9,485.7 715.7,485.1 719.3,481.2 720.1,480.7 720.8,480.6 721.3,480.8 721.9,481.5 724.7,486.8 725.3,487.6 726,488 731.6,488.1 732,488 732.9,486.9 734.9,483.4 735.5,482.8 736,482.6 736.5,482.8 737.2,483.6 739.6,488.2 740.1,488.7 740.7,488.7 741.7,487.4 743.9,482.8 744.6,482.1 745.1,482 745.6,482.5 746.1,483.3 748.3,488.4 748.9,489.1 749.4,489.4 749.9,489 750.4,488.2 752.9,482.2 753.4,481.5 753.9,481.3 754.4,481.8 755,482.8 757.3,489 757.8,489.8 758.2,490 758.7,489.7 759.4,488.5 761.7,481.8 762.2,481 762.8,480.7 763.3,481.2 763.8,482.2 766.1,489.3 766.7,490.3 767.2,490.6 767.7,490.2 768.2,489.1 770.7,481.2 771.2,480.3 771.6,480.1 772,480.3 772.5,481.3 775,489.6 775.5,490.8 776,491.2 776.5,490.8 777.2,489.3 779.5,480.8 780.1,479.8 780.6,479.4 781.1,480.1 781.6,481.4 784,490.3 784.5,491.5 785,491.9 785.5,491.3 786,489.9 788.5,480.2 789,479.1 789.4,478.8 789.9,479.4 790.5,480.8 792.9,491 793.4,492.2 793.8,492.5 794.2,492.2 794.7,491 797.2,480.3 797.7,478.8 798.3,478.2 798.8,478.7 799.4,480.6 801.9,491.7 802.4,492.9 802.8,493.1 803.3,492.4 803.8,490.7 806.2,479.6 806.7,478.1 807.2,477.6 807.7,477.8 808.3,478.5 809.3,481.2 810.3,485.7 811.5,492.8" fill="none" stroke="#129e9b" stroke-width="4.6" stroke-linejoin="round" stroke-linecap="round"/>
<path d="M78.2,571.8L78.8,567.6 79,567 79.2,567.5 79.8,570.9M83.2,629.5L83.8,633.6 84,634.4 84.2,634.4 84.8,632.4 85.5,625.7M88.2,587.4L89.2,579 89.5,578.2 89.8,578 90.2,579.1 91.2,585.7 93.8,611 94.5,616.1 95,617.7 95.5,617.8 96.2,616.9 97.5,613 98.8,605.7 100,594.7" fill="none" stroke="#4b5b97" stroke-width="4.6" stroke-linejoin="round" stroke-linecap="round"/>
<path d="M73.5,641.2h0M73.8,638.3h0M74,635.3h0M74.2,632.3h0M74.5,629.2h0M74.8,626.1h0M75,623h0M75.2,619.8h0M75.5,616.6h0M75.8,613.3h0M76,610h0M76.2,606.4h0M76.5,602.2h0M76.8,597.7h0M77,592.9h0M77.2,588.2h0M77.5,583.5h0M77.8,579.1h0M78,575.2h0M78.2,571.8h0M79.8,570.9h0M80,573.8h0M80.2,577.2h0M80.5,581.1h0M80.8,585.4h0M81,590h0M81.2,594.8h0M81.5,599.8h0M81.8,604.7h0M82,609.6h0M82.2,614.3h0M82.5,618.7h0M82.8,622.8h0M83,626.4h0M83.2,629.5h0M85.5,625.7h0M85.8,622.7h0M86,619.4h0M86.2,615.9h0M86.5,612.3h0M86.8,608.5h0M87,604.7h0M87.2,601h0M87.5,597.3h0M87.8,593.8h0M88,590.5h0M88.2,587.4h0" fill="none" stroke="#4b5b97" stroke-width="4.2" stroke-linecap="round"/>
<path d="M100.1,593.6L101.7,600.1 103,604.2 104.3,607 104.9,607.7 105.6,608 106.1,607.8 106.7,607.2 109.8,601.7 110.5,600.9 111.1,600.6 112.4,600.9 115.4,603 116.9,603.5 238,603.5 239.5,603.9 242.4,605.6 243.6,605.9 244.3,605.6 244.9,605.1 247.8,601.2 248.4,600.8 248.9,600.6 249.6,600.9 250.2,601.7 253.1,606.4 253.8,606.9 254.3,607.1 254.9,606.7 255.6,605.7 258.3,600 259,599.2 259.5,598.9 260,599.2 260.6,600.2 263.5,607.8 264.2,609 264.8,609.4 265.5,608.8 266.1,607.3 269,597.5 269.6,596.2 270.1,595.9 270.7,596.4 271.3,598.2 274,610.4 274.7,612.3 275.3,613.2 275.9,612.7 276.5,610.7 279.4,594.8 280,592.3 280.7,591.3 281.2,592 281.8,594.5 284.7,614.4 285.3,617.4 285.7,618.3 286,618.5 286.3,618.3 286.6,617.1 287.3,613.5 290.2,589.4 290.8,586.3 291.3,585.5 291.6,585.8 292,587.2 292.6,591.6 295.5,620.2 296.1,623.8 296.4,624.5 296.7,624.6 297.3,622.4 298,617.2 300.7,585.4 301.3,580.8 301.9,579.4 302.1,579.7 302.4,580.6 303,585.3 305.9,622.4 306.5,628 306.9,629.8 307.2,630.2 307.4,629.8 307.8,628 308.5,621.9 311.3,581.5 312,576.1 312.3,575.1 312.5,574.8 312.8,575.2 313.2,577.3 313.8,583.9 316.7,626.8 317.3,632.2 317.6,633.3 317.8,633.5 318.4,631.6 318.9,626.9 321.7,582.8 322.4,575.9 322.8,573.6 323,573 323.3,573.3 323.6,574.3 324.2,580 327.1,624.2 327.7,630.9 328.1,633.1 328.4,633.5 328.6,633.2 328.9,632.1 329.5,626.4 332.4,583.5 333.1,577.1 333.4,575.1 333.7,574.8 334,575.2 334.4,577.1 335,583.2 337.9,623.7 338.5,628.9 338.8,629.9 339,630.2 339.6,628.6 340.2,623.5 342.9,587.7 343.6,581.9 344,579.9 344.2,579.4 344.5,579.6 344.8,580.4 345.4,584.5 348.3,617.5 348.9,622.6 349.3,624.2 349.6,624.6 349.8,624.4 350.1,623.7 350.7,620 353.6,591.4 354.2,587.1 354.6,585.7 354.9,585.5 355.2,585.7 355.5,586.8 356.2,590.5 359.1,614.6 359.7,617.7 360.2,618.5 360.5,618.3 360.9,617.3 361.5,614.2 364.4,594.4 365,591.9 365.3,591.4 365.6,591.3 366.2,592.4 366.9,594.9 369.6,610.3 370.2,612.5 370.8,613.2 371.3,612.8 371.9,611.2 374.8,598.6 375.4,596.6 376.1,595.9 376.6,596.3 377.3,597.6 380,607 380.6,608.6 381.3,609.4 381.8,609.2 382.5,608.3 385.3,600.7 386,599.5 386.6,598.9 387.9,599.1 389.3,599.6 394.9,602.6 397.4,603.4 411.8,603.9 430,604 436.1,603.1 437.2,603.5 439.9,605.9 441.2,606.5 441.9,606.4 442.5,605.9 445.5,602.7 446.2,602.4 446.7,602.3 447.8,603.2 450.6,606.7 451.6,607.3 452.1,607.1 452.8,606.6 455.6,602.4 456.3,601.8 456.9,601.6 457.5,601.8 458,602.3 460.7,606.9 461.4,607.7 462,608 462.5,607.9 463.2,607.2 466,601.8 466.7,601.1 467.3,600.8 468,601.2 468.6,602.2 471.4,608.1 472,608.9 472.5,609.1 473.2,608.6 473.8,607.4 476.6,600.3 477.2,599.3 477.7,599.1 478.4,599.7 479,601.1 481.8,609.7 482.4,610.9 482.9,611.2 483.6,610.5 484.2,608.8 487,598.7 487.6,597.3 488.1,597 488.8,597.8 489.4,599.8 492.2,611.8 492.8,613.4 493.3,613.7 494,612.8 494.6,610.4 497.4,596 498,594.1 498.5,593.6 499.2,594.8 499.8,597.6 502.6,614.6 503.2,616.8 503.7,617.4 504.4,616 505,612.8 507.8,593.3 508.4,590.6 508.7,590.1 508.9,590 509.6,591.5 510.2,595.2 513,617.5 513.6,620.5 513.9,621.1 514.1,621.2 514.4,620.9 514.8,619.5 515.4,615.3 518.2,590.1 518.8,586.7 519.1,586 519.3,585.9 519.6,586.3 520,587.8 520.6,592.5 523.4,620.7 524,624.5 524.3,625.2 524.5,625.4 524.8,625 525.2,623.3 525.8,618.4 528.6,588.6 529.2,584.6 529.5,583.8 529.7,583.6 530,584 530.4,585.7 531,590.6 533.8,620.6 534.4,624.6 534.7,625.4 534.9,625.6 535.2,625.2 535.6,623.5 536.2,618.6 539,588.6 539.6,584.6 539.9,583.8 540.1,583.6 540.4,584 540.8,585.7 541.4,590.6 544.2,620.6 544.8,624.6 545.1,625.4 545.3,625.6 545.9,624.2 546.4,620.8 549.1,590.9 549.8,585.9 550.4,583.6 550.7,583.7 550.9,584.5 551.6,588.4 554.4,619.5 555.1,624.1 555.5,625.4 555.7,625.6 556.3,624.2 556.8,620.8 559.5,590.9 560.2,585.9 560.8,583.6 561.1,583.7 561.3,584.5 562,588.4 564.8,619.5 565.5,624.1 565.9,625.4 566.1,625.6 566.7,624.2 567.2,620.8 569.9,590.9 570.6,585.9 571.2,583.6 571.5,583.7 571.7,584.5 572.4,588.4 575.2,619.5 575.9,624.1 576.3,625.4 576.5,625.6 577.1,624.2 577.6,620.8 580.3,590.9 581,585.9 581.6,583.6 581.9,583.7 582.1,584.5 582.8,588.4 585.6,619.5 586.3,624.1 586.7,625.4 586.9,625.6 587.5,624.2 588,620.8 590.7,590.9 591.4,585.9 592,583.6 592.3,583.7 592.5,584.5 593.2,588.4 596,619.5 596.7,624.1 597.1,625.4 597.3,625.6 597.9,624.2 598.4,620.8 601.1,590.9 601.8,585.9 602.4,583.6 602.7,583.7 602.9,584.5 603.6,588.4 606.4,619.5 607.1,624.1 607.5,625.4 607.7,625.6 608.3,624.2 608.8,620.8 611.5,590.9 612.2,585.9 612.8,583.6 613.1,583.7 613.3,584.5 614,588.4 616.8,619.5 617.5,624.1 617.9,625.4 618.1,625.6 618.7,624.2 619.2,620.8 621.9,590.9 622.6,585.9 623.2,583.6 623.5,583.7 623.7,584.5 624.4,588.4 627.2,619.5 627.9,624.1 628.3,625.4 628.5,625.6 629.1,624.2 629.6,620.8 632.3,590.9 633,585.9 633.6,583.6 633.9,583.7 634.1,584.5 634.8,588.4 637.6,619.5 638.3,624.1 638.7,625.4 638.9,625.6 639.5,624.3 640,621 642.7,592.4 643.4,587.6 644,585.5 644.3,585.6 644.5,586.2 645.2,589.5 648,616.2 648.7,620.1 649.1,621.2 649.3,621.4 649.9,620.4 650.4,617.9 653.1,595.6 653.8,591.8 654.4,590.1 654.7,590.2 654.9,590.7 655.6,593.1 658.4,612.9 659.1,615.8 659.5,616.6 659.7,616.7 660.3,616 660.8,614.1 663.5,597.9 664.2,595.1 664.8,593.9 665.3,594.3 666,596.2 668.8,611 669.5,613.2 669.9,613.8 670.1,613.9 670.8,613.1 671.4,611 674.2,598.7 674.8,597.1 675.3,596.7 675.9,597.2 676.4,598.3 679.1,608.9 679.8,610.7 680.4,611.5 680.9,611.2 681.6,610.1 684.3,601 685,599.4 685.5,598.8 686.1,599 686.8,600 689.5,607.8 690.2,609.1 690.8,609.7 691.5,609.3 692.1,608.2 695.1,600.2 695.8,599.3 696.4,599.3 696.9,600 697.6,601.4 700.2,609 700.8,610.1 701.3,610.4 702,609.8 702.6,608.3 705.4,599.8 706,598.6 706.5,598.4 707.2,599 707.8,600.6 710.6,610.1 711.2,611.4 711.7,611.7 712.4,610.9 713,609.2 715.8,598.5 716.4,597 716.9,596.7 717.6,597.5 718.2,599.5 721,611.4 721.6,613 722.1,613.3 722.8,612.4 723.4,610.3 726.2,597.2 726.8,595.5 727.3,595 728,596 728.6,598.4 731.4,612.6 732,614.6 732.5,615 733.2,613.9 733.8,611.4 736.6,595.9 737.2,593.8 737.7,593.3 738.4,594.5 739,597.2 741.8,614 742.4,616.2 742.9,616.7 743.6,615.5 744.2,612.5 747,594.6 747.6,592.2 748.1,591.6 748.8,592.9 749.4,596.1 752.2,615.3 752.8,617.9 753.1,618.4 753.3,618.5 754,617.1 754.6,613.7 757.4,593.3 758,590.5 758.3,590 758.5,589.9 759.2,591.3 759.8,594.9 762.6,616.4 763.2,619.3 763.5,619.8 763.7,620 764.4,618.4 765,614.7 767.8,592.4 768.4,589.4 768.7,588.9 768.9,588.7 769.6,590.3 770.2,594.1 773,617.2 773.6,620.3 773.9,620.9 774.1,621 774.8,619.4 775.4,615.4 778.2,591.6 778.8,588.4 779.1,587.8 779.3,587.7 780,589.4 780.6,593.4 783.4,618 784,621.3 784.3,621.9 784.5,622 784.8,621.7 785.2,620.3 785.8,616.1 788.6,590.9 789.2,587.4 789.5,586.8 789.7,586.6 790,587 790.4,588.4 791,592.6 793.8,618.3 794.4,621.8 794.7,622.4 794.9,622.6 795.2,622.2 795.6,620.8 796.2,616.6 799,590.9 799.6,587.4 799.9,586.8 800.1,586.6 800.4,587 800.8,588.4 801.4,592.6 804.2,618.3 804.8,621.8 805.1,622.4 805.3,622.6 806,621.9 806.6,620.2 807.9,613.3 809.2,601.8 810.4,587.7" fill="none" stroke="#4b5b97" stroke-width="4.6" stroke-linejoin="round" stroke-linecap="round"/>
</g>
<g clip-path="url(#cb)">
<path d="M77.2,883.3L77.4,881.6 77.6,881.4 77.8,882 78.6,890M83.7,981L84.3,987.9 84.7,989.8 84.9,989.7 85.6,986.8 86.4,977.9M89.3,931.3L90,924 90.6,919.7 91,918.9 91.7,920.1 92.9,927.7 95.4,949.4 96.3,954 96.9,955.5 97.5,955.2 98.4,953.9 101.9,943.4 102.8,941.7 103.4,941.1 104,941.2 104.9,941.5 108.5,944.7 109.3,945.2 110.1,945.3 119.8,944.3 190.1,944.4 191.4,943.9 194.3,941.5 195.6,941.1 196.9,941.6 198.1,942.6 202.1,947.6 203.4,948.9 204.4,949.6 205.5,949.9 206.1,949.7 206.7,949.3 208,947.7 212,939.6 213.5,937.1 214.5,935.9 215.6,935.5 216,935.7 216.6,936.5 217.7,938.9 221.2,951.5 222.5,955.3 223.5,957.2 224,957.6 224.4,957.7 224.8,957.4 225.4,956.3 226.5,952.9 230,934.8 231.3,929.3 232.4,926.4 232.8,925.8 233.2,925.6 233.6,926 234,927 235.1,932.1 238.2,956.9 239.3,963.9 240.1,967.6 240.5,968.5 241,968.8 241.4,968.2 241.8,966.8 242.9,960.2 246.4,925.6 247.3,919.3 247.9,916.1 248.3,914.9 248.7,914.5 249.4,916.3 250.2,923 251,933M252.9,959.9L254.4,975.9 255,979.3 255.2,979.7 255.5,979.8 255.7,979.6 256.3,977.4 257.1,971.4 259.2,946.8M259.9,938.4L261.5,918 262.4,910.6 263,907 263.6,905.6 264.1,906.3 264.7,910.6 265.3,918M268.9,978.1L269.7,986.4 270.4,988.7 270.6,988.5 271,986.6 271.8,977.8M275.6,909.1L276.2,902.2 276.9,899.1 277.1,899 277.5,900.5 278.3,908.6M282.3,980.1L283,986.8 283.6,989.7 283.8,989.7 284.2,988 284.9,981.9M288.8,909.1L289.5,903 289.9,901.4 290.1,901.4 290.7,904.3 291.4,910.9M295.1,976L296,983.9 296.4,985.4 296.6,985.3 297.2,982 297.9,974.8M301.2,915.3L302.1,907.4 302.3,906.6 302.5,906.3 302.7,906.5 303.3,909.9 304.2,919.2M307.1,966.1L308,974.8 308.4,977 308.6,977.5 308.8,977.5 309.4,974.7 310.3,965.5M312.6,929.4L313.2,921.9 313.8,917.4 314,916.8 314.3,916.7 314.9,918.4 316.1,928.4 318.9,959 319.7,964.8 320.3,966.5 320.6,966.4 321,965.3 321.6,961.8 325,928.6 325.8,923.5 326.2,922.4 326.4,922.3 327.1,923.9 327.7,927.9 330.6,957.1 331.3,961.3 331.9,963.2 332.1,963.2 332.3,962.8 332.9,960.2 335.7,936.8 336.3,933 336.9,931.3 337.4,931.6 338,933.5 340.7,949.1 341.3,951.4 341.8,952.1 342,952.1 342.4,951.7 343,950.2 346.2,936.9 346.8,935.1 347.4,934.4 348.1,934.9 348.7,936.6 351.6,949.4 352.3,951.2 352.9,952.1 353.5,951.8 354.2,950.8 357.5,941.3 358.4,939.7 359,939.3 360.5,939.4 362.1,939.8 364,940.5 365.5,941.3 366.5,943.2 369.5,950.8 370.3,952 370.7,952.1 371.4,951.9 372.4,951 373.7,949.1 377.9,940.2 379.4,937.6 380.6,936 381.2,935.6 381.9,935.5 382.5,935.8 383.1,936.6 384.4,939.1 388.4,951.1 389.6,954.3 390.7,956 391.3,956.5 391.7,956.6 392.2,956.4 392.8,955.4 393.8,952.4 397.6,935.3 398.7,931.2 399.7,928.6 400.4,927.9 400.8,927.9 401.2,928.5 401.6,929.7 402.5,933.6 405.8,954.9 406.7,958 407.3,958.8 407.7,958.5 408.1,957.8 409.2,954 413.4,930.4 414.2,927.6 414.6,926.9 415.1,926.7 415.5,927.1 415.9,928.1 416.9,932.6 421.1,960 422,963.2 422.4,964 422.8,964.3 423.2,963.9 423.7,962.8 424.7,957.6 427.9,932.8 428.9,925.8 429.8,922.2 430.2,921.3 430.6,921.1 431,921.7 431.4,923.1 432.5,929 435.6,956.7 436.7,964.5 437.5,968.6 437.9,969.6 438.4,969.9 438.8,969.3 439.2,968 440.3,961.8 443.4,932.5 444.5,924.2 445.3,919.8 445.7,918.7 446.1,918.3 446.6,918.9 447,920.5 447.8,925.9 451.8,965.2 452.6,969.8 453.3,971 453.7,970.5 454.1,969 455,963.3 458.3,927.1 459.2,920.1 459.8,916.8 460.2,915.7 460.4,915.6 460.6,915.8 461.3,918.4 462.1,925.5 463.1,938.1M464.2,952.2L465.9,970.8 466.5,974.5 466.9,975.4 467.1,975.3 467.8,973.4 468.6,967.3 470.3,947.6M470.9,939.1L472.6,919.1 473.2,913.9 473.9,910.8 474.3,910.1 474.5,910.3 475.1,912.9 476.4,925.8M478.9,962.7L479.9,974.2 480.6,977.9 481,978.7 481.4,977.9 482,974.1 483.1,962.5M485.4,928.6L486.7,914.8 487.3,911.6 487.5,911.2 487.7,911.3 488.1,912.4 488.8,916.3 490.2,932.9M491.7,953.3L492.5,963.6 493.4,971.1 494,974 494.2,974.3 494.6,973.8 495.3,970.8 495.9,965.5 498.8,929.1 500.1,917.9 500.7,915.7 500.9,915.6 501.4,916.6 502,920.9 502.8,930.3M504.9,960.4L506,971.7 506.6,975 506.8,975.4 507,975.3 507.5,974.1 508.1,969.8 509.3,955.4M511,931.9L512.3,918.4 512.9,914.9 513.3,914.3 513.8,915.3 514.4,919.3 515.4,931.1M517.5,961.6L518.6,973.6 519.2,977.7 519.6,978.7 520.1,978.1 520.7,974.3 521.7,962.4M523.8,931.5L525.1,918.6 525.7,916.3 525.9,916.4 526.4,917.4 527,921.1 527.6,926.6 530.6,958.4 531.4,963.4 531.8,964.3 532,964.2 532.7,962.4 533.3,958.3 536.4,929.2 537.1,926.2 537.5,925.6 537.7,925.7 538.3,927.7 539.2,933.1 542.3,962.3 543.2,966.7 543.6,967.6 543.8,967.6 544.4,966.1 545.3,961.3 548.6,931.4 549.5,927.2 549.9,926.3 550.1,926.3 550.7,927.9 551.6,933.2 554.9,965.5 555.8,970.1 556,970.6 556.4,971 557,970.6 557.6,969.8 558.9,966.8 560.2,962.6 564.4,946.6 565.6,943.1 566.7,941.5 567.1,941.2 567.7,941.2 568.4,941.5 569.2,942.5 570.7,945.1 573.8,952.2 575.1,954.6 576.3,956.2 577,956.5 577.6,956.5 578.6,955.5 579.7,953.3 583.9,940.6 585.6,936.8 588.1,934.1 590.6,931.8 592.7,930.5 594.6,930 595.4,930.2 596.5,932 599.9,943.4 600.9,946.1 605.1,953.9 606.6,955.7 607.8,956.5 608.5,956.6 608.9,956.1 609.7,953.9 612.5,941.4 613.5,937.7 613.9,936.8 614.3,936.3 614.6,936.3 615,936.7 615.6,938.3 616.4,941.9 620,962.7 620.9,965.6 621.5,966.5 621.9,966.3 622.3,965.3 623.2,961.4 626.9,933.8 627.8,930.6 628.2,930 628.4,930 628.8,930.7 629.3,932 630.1,936.3 633.5,960.1 634.3,963.5 634.7,964.2 635.1,964.2 635.6,963.6 636.2,961.7 637.2,956.4 640.6,931.8 641.9,923.9 642.9,919.8 643.3,919 643.7,918.8 644.4,920.4 645.2,925.9 648.6,963.3 649.4,970 649.8,972 650.3,973 650.5,973.1 650.7,972.8 651.1,971.6 651.9,966.3 655.5,928.3 656.3,922.1 656.8,920.2 657.2,919.3 657.6,919.6 658,920.7 658.9,925.3 662.4,958.2 663.3,963.7 663.7,965.4 664.1,966.3 664.3,966.4 664.5,966.2 665,965.1 665.8,960.4 669.2,928 670,922.1 670.4,920.3 670.8,919.4 671,919.3 671.5,920 672.3,924.1 673.1,931 675.9,958.5 676.7,964.1 677.1,965.7 677.6,966.4 677.8,966.3 678.2,965.3 679,960.7 682.4,927.6 683.2,921.6 683.6,919.7 684.1,918.9 684.5,919 684.9,919.9 686,924.8 689.9,957.4 690.8,962.3 691.6,965 692,965.3 692.5,964.6 693.3,960.4 696.9,926.4 697.7,921.1 698.3,919.4 698.6,919.3 698.8,919.6 699.2,921 700,926.8 703.4,966.3 704.2,973.6 704.9,976.8 705.3,977.5 705.5,977.4 705.9,976.2 706.3,973.8 707.2,966.5 708.4,951.1M709.3,939.7L710.9,920.2 711.6,915.7 712.2,913.4 712.4,913.3 712.6,913.5 712.8,914.1 713.5,917.8 714.9,933.9M716,948.1L716.8,958.5 717.7,966.3 718.3,969.3 718.5,969.7 718.7,969.6 718.9,969.3 719.6,966.2 720.2,961 722.9,931.7 723.5,927.8 724,926.7 724.2,926.6 724.6,927.1 725,928.4 725.9,932.4 728.4,950.4 729.4,956.6 730.3,959.4 730.7,959.8 730.9,959.7 731.5,958 732.4,953.1 735.3,929.2 736.1,925.2 736.6,924.4 736.8,924.4 737.4,926.2 738.2,932.2 741.2,964.9 741.8,970.2 742.4,973.5 742.9,974.2 743.1,974.1 743.7,971.5 744.3,966.4 745.2,956.5M747.1,929.7L748.3,915.3 749,911.2 749.4,910.1 749.6,910 749.8,910.4 750.4,913.5 751.7,926.9M754,960.4L755.3,973.9 755.9,977.1 756.1,977.5 756.3,977.4 756.7,976.4 757.4,972.5 758.8,956.2M760.1,939L761.8,920.6 762.2,918.1 762.6,916.7 762.8,916.6 763.2,917.4 764.3,924.7 767.2,957.9 767.9,961.9 768.3,963 768.5,963.1 769.1,962.1 770,958.9 773.1,939.2 774.4,934 775,933.2 775.4,933.9 776,937.2 777.5,947.5 777.9,949.3 778.4,949.8 779,949.1 779.6,947.3 782.8,934 783.4,932.5 783.8,932.1 784,932.1 784.4,932.7 784.9,934 785.7,938 789.1,960.3 789.9,963.5 790.3,964.1 790.5,964.2 791.2,962.4 792,956.2 794.7,923.9 795.8,915.3 796.4,913.3 796.6,913.4 797,914.8 797.7,919.6 798.3,927M800.8,965.2L801.9,976.5 802.5,979.5 802.7,979.7 802.9,979.5 803.3,978.1 804,974 805.4,957.5M807.1,934.4L808,924.3 808.8,916.8 809.4,913.8 809.9,913.3 810.1,913.6 810.7,916.1 811.3,920.9 814.1,951.5 815.3,961.4 815.9,963.1 816.6,962.9 817.2,962.2 818.3,959.5 819.1,955.5" fill="none" stroke="#aa9ca2" stroke-width="3.2" stroke-linejoin="round" stroke-linecap="round"/>
<path d="M71.5,1018.6h0M71.7,1014.7h0M71.9,1010.8h0M72.1,1006.7h0M72.3,1002.6h0M72.5,998.5h0M72.8,994.2h0M73,989.9h0M73.2,985.5h0M73.4,981.1h0M73.6,976.6h0M73.8,972.1h0M74,967.5h0M74.2,962.8h0M74.4,958.1h0M74.6,953.3h0M74.9,948.5h0M75.1,943h0M75.3,936.7h0M75.5,930h0M75.7,922.9h0M75.9,915.8h0M76.1,908.8h0M76.3,902.2h0M76.5,896.1h0M76.7,890.8h0M77,886.5h0M77.2,883.3h0M78.6,890h0M78.8,893.1h0M79.1,896.5h0M79.3,900.2h0M79.5,904h0M79.7,907.9h0M79.9,911.9h0M80.1,915.9h0M80.3,919.8h0M80.5,923.6h0M80.7,927.2h0M80.9,930.6h0M81.2,933.8h0M81.4,937.3h0M81.6,941.1h0M81.8,945.2h0M82,949.4h0M82.2,953.6h0M82.4,958h0M82.6,962.2h0M82.8,966.4h0M83,970.4h0M83.3,974.3h0M83.5,977.8h0M83.7,981h0M86.4,977.9h0M86.6,975.1h0M86.8,972h0M87,968.7h0M87.2,965.3h0M87.5,961.8h0M87.7,958.3h0M87.9,954.7h0M88.1,951.1h0M88.3,947.5h0M88.5,944h0M88.7,940.6h0M88.9,937.3h0M89.1,934.2h0M89.3,931.3h0M251,933h0M251.3,935.8h0M251.5,938.8h0M251.7,941.8h0M251.9,944.8h0M252.1,947.9h0M252.3,950.9h0M252.5,954h0M252.7,957h0M252.9,959.9h0M259.2,946.8h0M259.4,944h0M259.7,941.2h0M259.9,938.4h0M265.3,918h0M265.5,921h0M265.7,924.2h0M266,927.6h0M266.2,931.2h0M266.4,934.9h0M266.6,938.6h0M266.8,942.5h0M267,946.4h0M267.2,950.3h0M267.4,954.2h0M267.6,958h0M267.8,961.8h0M268.1,965.4h0M268.3,968.8h0M268.5,972.1h0M268.7,975.2h0M268.9,978.1h0M271.8,977.8h0M272,974.7h0M272.3,971.3h0M272.5,967.8h0M272.7,964h0M272.9,960h0M273.1,955.9h0M273.3,951.8h0M273.5,947.5h0M273.7,943.2h0M273.9,939h0M274.1,934.7h0M274.4,930.6h0M274.6,926.5h0M274.8,922.6h0M275,918.9h0M275.2,915.4h0M275.4,912.1h0M275.6,909.1h0M278.3,908.6h0M278.6,911.5h0M278.8,914.7h0M279,918.1h0M279.2,921.8h0M279.4,925.6h0M279.6,929.6h0M279.8,933.7h0M280,937.9h0M280.2,942.2h0M280.4,946.4h0M280.7,950.7h0M280.9,954.9h0M281.1,959h0M281.3,963h0M281.5,966.9h0M281.7,970.5h0M281.9,974h0M282.1,977.2h0M282.3,980.1h0M284.9,981.9h0M285.1,979.1h0M285.3,975.9h0M285.5,972.4h0M285.7,968.7h0M285.9,964.8h0M286.1,960.7h0M286.3,956.4h0M286.5,952.1h0M286.7,947.7h0M287,943.2h0M287.2,938.8h0M287.4,934.5h0M287.6,930.2h0M287.8,926.1h0M288,922.2h0M288.2,918.5h0M288.4,915h0M288.6,911.9h0M288.8,909.1h0M291.4,910.9h0M291.6,913.8h0M291.8,916.9h0M292,920.3h0M292.2,923.9h0M292.4,927.6h0M292.6,931.5h0M292.8,935.4h0M293,939.5h0M293.3,943.5h0M293.5,947.6h0M293.7,951.6h0M293.9,955.6h0M294.1,959.5h0M294.3,963.2h0M294.5,966.7h0M294.7,970.1h0M294.9,973.2h0M295.1,976h0M297.9,974.8h0M298.1,971.7h0M298.3,968.3h0M298.5,964.7h0M298.7,960.9h0M298.9,957h0M299.1,952.9h0M299.3,948.8h0M299.6,944.7h0M299.8,940.5h0M300,936.4h0M300.2,932.4h0M300.4,928.6h0M300.6,924.9h0M300.8,921.4h0M301,918.2h0M301.2,915.3h0M304.2,919.2h0M304.4,922.1h0M304.6,925.3h0M304.8,928.6h0M305,932.1h0M305.2,935.6h0M305.4,939.2h0M305.6,942.8h0M305.9,946.4h0M306.1,950h0M306.3,953.5h0M306.5,956.9h0M306.7,960.1h0M306.9,963.2h0M307.1,966.1h0M310.3,965.5h0M310.5,962.6h0M310.7,959.5h0M310.9,956.2h0M311.1,952.8h0M311.3,949.3h0M311.5,945.8h0M311.7,942.4h0M311.9,938.9h0M312.2,935.6h0M312.4,932.4h0M312.6,929.4h0M463.1,938.1h0M463.4,940.9h0M463.6,943.7h0M463.8,946.6h0M464,949.4h0M464.2,952.2h0M470.3,947.6h0M470.5,944.8h0M470.7,941.9h0M470.9,939.1h0M476.4,925.8h0M476.6,928.7h0M476.8,931.6h0M477,934.7h0M477.2,937.8h0M477.4,941h0M477.6,944.2h0M477.8,947.5h0M478.1,950.7h0M478.3,953.8h0M478.5,956.9h0M478.7,959.9h0M478.9,962.7h0M483.1,962.5h0M483.3,959.7h0M483.5,956.7h0M483.7,953.6h0M483.9,950.5h0M484.1,947.2h0M484.4,944h0M484.6,940.8h0M484.8,937.6h0M485,934.5h0M485.2,931.5h0M485.4,928.6h0M490.2,932.9h0M490.4,935.7h0M490.7,938.7h0M490.9,941.6h0M491.1,944.6h0M491.3,947.5h0M491.5,950.4h0M491.7,953.3h0M502.8,930.3h0M503,933.1h0M503.3,936.1h0M503.5,939.1h0M503.7,942.2h0M503.9,945.4h0M504.1,948.5h0M504.3,951.6h0M504.5,954.6h0M504.7,957.6h0M504.9,960.4h0M509.3,955.4h0M509.6,952.5h0M509.8,949.6h0M510,946.6h0M510.2,943.6h0M510.4,940.6h0M510.6,937.6h0M510.8,934.7h0M511,931.9h0M515.4,931.1h0M515.6,934h0M515.9,937h0M516.1,940h0M516.3,943.2h0M516.5,946.3h0M516.7,949.5h0M516.9,952.7h0M517.1,955.7h0M517.3,958.7h0M517.5,961.6h0M521.7,962.4h0M521.9,959.5h0M522.2,956.4h0M522.4,953.3h0M522.6,950.1h0M522.8,946.9h0M523,943.7h0M523.2,940.5h0M523.4,937.4h0M523.6,934.4h0M523.8,931.5h0M708.4,951.1h0M708.6,948.2h0M708.8,945.4h0M709.1,942.6h0M709.3,939.7h0M714.9,933.9h0M715.1,936.7h0M715.4,939.6h0M715.6,942.5h0M715.8,945.3h0M716,948.1h0M745.2,956.5h0M745.4,953.7h0M745.6,950.8h0M745.8,947.8h0M746,944.7h0M746.2,941.7h0M746.4,938.6h0M746.6,935.6h0M746.9,932.6h0M747.1,929.7h0M751.7,926.9h0M751.9,929.8h0M752.1,932.7h0M752.3,935.8h0M752.5,938.9h0M752.7,942.1h0M752.9,945.3h0M753.2,948.4h0M753.4,951.5h0M753.6,954.6h0M753.8,957.6h0M754,960.4h0M758.8,956.2h0M759,953.4h0M759.2,950.5h0M759.5,947.6h0M759.7,944.7h0M759.9,941.8h0M760.1,939h0M798.3,927h0M798.5,929.9h0M798.7,932.9h0M798.9,936.1h0M799.1,939.3h0M799.4,942.7h0M799.6,946h0M799.8,949.4h0M800,952.7h0M800.2,956h0M800.4,959.2h0M800.6,962.3h0M800.8,965.2h0M805.4,957.5h0M805.7,954.7h0M805.9,951.8h0M806.1,948.9h0M806.3,945.9h0M806.5,943h0M806.7,940.1h0M806.9,937.2h0M807.1,934.4h0" fill="none" stroke="#aa9ca2" stroke-width="2" stroke-linecap="round"/>
<path d="M77.2,882L77.4,880.3 77.6,880.1 77.8,880.7 78.6,888.7M83.7,979.7L84.3,986.6 84.7,988.5 84.9,988.4 85.6,985.5 86.4,976.6M89.3,930L90,922.7 90.6,918.4 91,917.6 91.7,918.8 92.9,926.4 95.4,948.1 96.3,952.7 96.9,954.2 97.5,953.9 98.4,952.6 101.9,942.1 102.8,940.4 103.4,939.8 104,939.9 104.9,940.2 108.5,943.4 109.3,943.9 110.1,944 119.8,943 190.1,943.1 191.4,942.6 194.3,940.2 195.6,939.8 196.9,940.3 198.1,941.3 202.1,946.3 203.4,947.6 204.4,948.3 205.5,948.6 206.1,948.4 206.7,948 208,946.4 212,938.3 213.5,935.8 214.5,934.6 215.6,934.2 216,934.4 216.6,935.2 217.7,937.6 221.2,950.2 222.5,954 223.5,955.9 224,956.3 224.4,956.4 224.8,956.1 225.4,955 226.5,951.6 230,933.5 231.3,928 232.4,925.1 232.8,924.5 233.2,924.3 233.6,924.7 234,925.7 235.1,930.8 238.2,955.6 239.3,962.6 240.1,966.3 240.5,967.2 241,967.5 241.4,966.9 241.8,965.5 242.9,958.9 246.4,924.3 247.3,918 247.9,914.8 248.3,913.6 248.7,913.2 249.4,915 250.2,921.7 251,931.7M252.9,958.6L254.4,974.6 255,978 255.2,978.4 255.5,978.5 255.7,978.3 256.3,976.1 257.1,970.1 259.2,945.5M259.9,937.1L261.5,916.7 262.4,909.3 263,905.7 263.6,904.3 264.1,905 264.7,909.3 265.3,916.7M268.9,976.8L269.7,985.1 270.4,987.4 270.6,987.2 271,985.3 271.8,976.5M275.6,907.8L276.2,900.9 276.9,897.8 277.1,897.7 277.5,899.2 278.3,907.3M282.3,978.8L283,985.5 283.6,988.4 283.8,988.4 284.2,986.7 284.9,980.6M288.8,907.8L289.5,901.7 289.9,900.1 290.1,900.1 290.7,903 291.4,909.6M295.1,974.7L296,982.6 296.4,984.1 296.6,984 297.2,980.7 297.9,973.5M301.2,914L302.1,906.1 302.3,905.3 302.5,905 302.7,905.2 303.3,908.6 304.2,917.9M307.1,964.8L308,973.5 308.4,975.7 308.6,976.2 308.8,976.2 309.4,973.4 310.3,964.2M312.6,928.1L313.2,920.6 313.8,916.1 314,915.5 314.3,915.4 314.9,917.1 316.1,927.1 318.9,957.7 319.7,963.5 320.3,965.2 320.6,965.1 321,964 321.6,960.5 325,927.3 325.8,922.2 326.2,921.1 326.4,921 327.1,922.6 327.7,926.6 330.6,955.8 331.3,960 331.9,961.9 332.1,961.9 332.3,961.5 332.9,958.9 335.7,935.5 336.3,931.7 336.9,930 337.4,930.3 338,932.2 340.7,947.8 341.3,950.1 341.8,950.8 342,950.8 342.4,950.4 343,948.9 346.2,935.6 346.8,933.8 347.4,933.1 348.1,933.6 348.7,935.3 351.6,948.1 352.3,949.9 352.9,950.8 353.5,950.5 354.2,949.5 357.5,940 358.4,938.4 359,938 360.5,938.1 362.1,938.5 364,939.2 365.5,940 366.5,941.9 369.5,949.5 370.3,950.7 370.7,950.8 371.4,950.6 372.4,949.7 373.7,947.8 377.9,938.9 379.4,936.3 380.6,934.7 381.2,934.3 381.9,934.2 382.5,934.5 383.1,935.3 384.4,937.8 388.4,949.8 389.6,953 390.7,954.7 391.3,955.2 391.7,955.3 392.2,955.1 392.8,954.1 393.8,951.1 397.6,934 398.7,929.9 399.7,927.3 400.4,926.6 400.8,926.6 401.2,927.2 401.6,928.4 402.5,932.3 405.8,953.6 406.7,956.7 407.3,957.5 407.7,957.2 408.1,956.5 409.2,952.7 413.4,929.1 414.2,926.3 414.6,925.6 415.1,925.4 415.5,925.8 415.9,926.8 416.9,931.3 421.1,958.7 422,961.9 422.4,962.7 422.8,963 423.2,962.6 423.7,961.5 424.7,956.3 427.9,931.5 428.9,924.5 429.8,920.9 430.2,920 430.6,919.8 431,920.4 431.4,921.8 432.5,927.7 435.6,955.4 436.7,963.2 437.5,967.3 437.9,968.3 438.4,968.6 438.8,968 439.2,966.7 440.3,960.5 443.4,931.2 444.5,922.9 445.3,918.5 445.7,917.4 446.1,917 446.6,917.6 447,919.2 447.8,924.6 451.8,963.9 452.6,968.5 453.3,969.7 453.7,969.2 454.1,967.7 455,962 458.3,925.8 459.2,918.8 459.8,915.5 460.2,914.4 460.4,914.3 460.6,914.5 461.3,917.1 462.1,924.2 463.1,936.8M464.2,950.9L465.9,969.5 466.5,973.2 466.9,974.1 467.1,974 467.8,972.1 468.6,966 470.3,946.3M470.9,937.8L472.6,917.8 473.2,912.6 473.9,909.5 474.3,908.8 474.5,909 475.1,911.6 476.4,924.5M478.9,961.4L479.9,972.9 480.6,976.6 481,977.4 481.4,976.6 482,972.8 483.1,961.2M485.4,927.3L486.7,913.5 487.3,910.3 487.5,909.9 487.7,910 488.1,911.1 488.8,915 490.2,931.6M491.7,952L492.5,962.3 493.4,969.8 494,972.7 494.2,973 494.6,972.5 495.3,969.5 495.9,964.2 498.8,927.8 500.1,916.6 500.7,914.4 500.9,914.3 501.4,915.3 502,919.6 502.8,929M504.9,959.1L506,970.4 506.6,973.7 506.8,974.1 507,974 507.5,972.8 508.1,968.5 509.3,954.1M511,930.6L512.3,917.1 512.9,913.6 513.3,913 513.8,914 514.4,918 515.4,929.8M517.5,960.3L518.6,972.3 519.2,976.4 519.6,977.4 520.1,976.8 520.7,973 521.7,961.1M523.8,930.2L525.1,917.3 525.7,915 525.9,915.1 526.4,916.1 527,919.8 527.6,925.3 530.6,957.1 531.4,962.1 531.8,963 532,962.9 532.7,961.1 533.3,957 536.4,927.9 537.1,924.9 537.5,924.3 537.7,924.4 538.3,926.4 539.2,931.8 542.3,961 543.2,965.4 543.6,966.3 543.8,966.3 544.4,964.8 545.3,960 548.6,930.1 549.5,925.9 549.9,925 550.1,925 550.7,926.6 551.6,931.9 554.9,964.2 555.8,968.8 556,969.3 556.4,969.7 557,969.3 557.6,968.5 558.9,965.5 560.2,961.3 564.4,945.3 565.6,941.8 566.7,940.2 567.1,939.9 567.7,939.9 568.4,940.2 569.2,941.2 570.7,943.8 573.8,950.9 575.1,953.3 576.3,954.9 577,955.2 577.6,955.2 578.6,954.2 579.7,952 583.9,939.3 585.6,935.5 588.1,932.8 590.6,930.5 592.7,929.2 594.6,928.7 595.4,928.9 596.5,930.7 599.9,942.1 600.9,944.8 605.1,952.6 606.6,954.4 607.8,955.2 608.5,955.3 608.9,954.8 609.7,952.6 612.5,940.1 613.5,936.4 613.9,935.5 614.3,935 614.6,935 615,935.4 615.6,937 616.4,940.6 620,961.4 620.9,964.3 621.5,965.2 621.9,965 622.3,964 623.2,960.1 626.9,932.5 627.8,929.3 628.2,928.7 628.4,928.7 628.8,929.4 629.3,930.7 630.1,935 633.5,958.8 634.3,962.2 634.7,962.9 635.1,962.9 635.6,962.3 636.2,960.4 637.2,955.1 640.6,930.5 641.9,922.6 642.9,918.5 643.3,917.7 643.7,917.5 644.4,919.1 645.2,924.6 648.6,962 649.4,968.7 649.8,970.7 650.3,971.7 650.5,971.8 650.7,971.5 651.1,970.3 651.9,965 655.5,927 656.3,920.8 656.8,918.9 657.2,918 657.6,918.3 658,919.4 658.9,924 662.4,956.9 663.3,962.4 663.7,964.1 664.1,965 664.3,965.1 664.5,964.9 665,963.8 665.8,959.1 669.2,926.7 670,920.8 670.4,919 670.8,918.1 671,918 671.5,918.7 672.3,922.8 673.1,929.7 675.9,957.2 676.7,962.8 677.1,964.4 677.6,965.1 677.8,965 678.2,964 679,959.4 682.4,926.3 683.2,920.3 683.6,918.4 684.1,917.6 684.5,917.7 684.9,918.6 686,923.5 689.9,956.1 690.8,961 691.6,963.7 692,964 692.5,963.3 693.3,959.1 696.9,925.1 697.7,919.8 698.3,918.1 698.6,918 698.8,918.3 699.2,919.7 700,925.5 703.4,965 704.2,972.3 704.9,975.5 705.3,976.2 705.5,976.1 705.9,974.9 706.3,972.5 707.2,965.2 708.4,949.8M709.3,938.4L710.9,918.9 711.6,914.4 712.2,912.1 712.4,912 712.6,912.2 712.8,912.8 713.5,916.5 714.9,932.6M716,946.8L716.8,957.2 717.7,965 718.3,968 718.5,968.4 718.7,968.3 718.9,968 719.6,964.9 720.2,959.7 722.9,930.4 723.5,926.5 724,925.4 724.2,925.3 724.6,925.8 725,927.1 725.9,931.1 728.4,949.1 729.4,955.3 730.3,958.1 730.7,958.5 730.9,958.4 731.5,956.7 732.4,951.8 735.3,927.9 736.1,923.9 736.6,923.1 736.8,923.1 737.4,924.9 738.2,930.9 741.2,963.6 741.8,968.9 742.4,972.2 742.9,972.9 743.1,972.8 743.7,970.2 744.3,965.1 745.2,955.2M747.1,928.4L748.3,914 749,909.9 749.4,908.8 749.6,908.7 749.8,909.1 750.4,912.2 751.7,925.6M754,959.1L755.3,972.6 755.9,975.8 756.1,976.2 756.3,976.1 756.7,975.1 757.4,971.2 758.8,954.9M760.1,937.7L761.8,919.3 762.2,916.8 762.6,915.4 762.8,915.3 763.2,916.1 764.3,923.4 767.2,956.6 767.9,960.6 768.3,961.7 768.5,961.8 769.1,960.8 770,957.6 773.1,937.9 774.4,932.7 775,931.9 775.4,932.6 776,935.9 777.5,946.2 777.9,948 778.4,948.5 779,947.8 779.6,946 782.8,932.7 783.4,931.2 783.8,930.8 784,930.8 784.4,931.4 784.9,932.7 785.7,936.7 789.1,959 789.9,962.2 790.3,962.8 790.5,962.9 791.2,961.1 792,954.9 794.7,922.6 795.8,914 796.4,912 796.6,912.1 797,913.5 797.7,918.3 798.3,925.7M800.8,963.9L801.9,975.2 802.5,978.2 802.7,978.4 802.9,978.2 803.3,976.8 804,972.7 805.4,956.2M807.1,933.1L808,923 808.8,915.5 809.4,912.5 809.9,912 810.1,912.3 810.7,914.8 811.3,919.6 814.1,950.2 815.3,960.1 815.9,961.8 816.6,961.6 817.2,960.9 818.3,958.2 819.1,954.2" fill="none" stroke="#129e9b" stroke-width="2.5" stroke-linejoin="round" stroke-linecap="round"/>
<path d="M71.5,1017.3h0M71.7,1013.4h0M71.9,1009.5h0M72.1,1005.4h0M72.3,1001.3h0M72.5,997.2h0M72.8,992.9h0M73,988.6h0M73.2,984.2h0M73.4,979.8h0M73.6,975.3h0M73.8,970.8h0M74,966.2h0M74.2,961.5h0M74.4,956.8h0M74.6,952h0M74.9,947.2h0M75.1,941.7h0M75.3,935.4h0M75.5,928.7h0M75.7,921.6h0M75.9,914.5h0M76.1,907.5h0M76.3,900.9h0M76.5,894.8h0M76.7,889.5h0M77,885.2h0M77.2,882h0M78.6,888.7h0M78.8,891.8h0M79.1,895.2h0M79.3,898.9h0M79.5,902.7h0M79.7,906.6h0M79.9,910.6h0M80.1,914.6h0M80.3,918.5h0M80.5,922.3h0M80.7,925.9h0M80.9,929.3h0M81.2,932.5h0M81.4,936h0M81.6,939.8h0M81.8,943.9h0M82,948.1h0M82.2,952.3h0M82.4,956.7h0M82.6,960.9h0M82.8,965.1h0M83,969.1h0M83.3,973h0M83.5,976.5h0M83.7,979.7h0M86.4,976.6h0M86.6,973.8h0M86.8,970.7h0M87,967.4h0M87.2,964h0M87.5,960.5h0M87.7,957h0M87.9,953.4h0M88.1,949.8h0M88.3,946.2h0M88.5,942.7h0M88.7,939.3h0M88.9,936h0M89.1,932.9h0M89.3,930h0M251,931.7h0M251.3,934.5h0M251.5,937.5h0M251.7,940.5h0M251.9,943.5h0M252.1,946.6h0M252.3,949.6h0M252.5,952.7h0M252.7,955.7h0M252.9,958.6h0M259.2,945.5h0M259.4,942.7h0M259.7,939.9h0M259.9,937.1h0M265.3,916.7h0M265.5,919.7h0M265.7,922.9h0M266,926.3h0M266.2,929.9h0M266.4,933.6h0M266.6,937.3h0M266.8,941.2h0M267,945.1h0M267.2,949h0M267.4,952.9h0M267.6,956.7h0M267.8,960.5h0M268.1,964.1h0M268.3,967.5h0M268.5,970.8h0M268.7,973.9h0M268.9,976.8h0M271.8,976.5h0M272,973.4h0M272.3,970h0M272.5,966.5h0M272.7,962.7h0M272.9,958.7h0M273.1,954.6h0M273.3,950.5h0M273.5,946.2h0M273.7,941.9h0M273.9,937.7h0M274.1,933.4h0M274.4,929.3h0M274.6,925.2h0M274.8,921.3h0M275,917.6h0M275.2,914.1h0M275.4,910.8h0M275.6,907.8h0M278.3,907.3h0M278.6,910.2h0M278.8,913.4h0M279,916.8h0M279.2,920.5h0M279.4,924.3h0M279.6,928.3h0M279.8,932.4h0M280,936.6h0M280.2,940.9h0M280.4,945.1h0M280.7,949.4h0M280.9,953.6h0M281.1,957.7h0M281.3,961.7h0M281.5,965.6h0M281.7,969.2h0M281.9,972.7h0M282.1,975.9h0M282.3,978.8h0M284.9,980.6h0M285.1,977.8h0M285.3,974.6h0M285.5,971.1h0M285.7,967.4h0M285.9,963.5h0M286.1,959.4h0M286.3,955.1h0M286.5,950.8h0M286.7,946.4h0M287,941.9h0M287.2,937.5h0M287.4,933.2h0M287.6,928.9h0M287.8,924.8h0M288,920.9h0M288.2,917.2h0M288.4,913.7h0M288.6,910.6h0M288.8,907.8h0M291.4,909.6h0M291.6,912.5h0M291.8,915.6h0M292,919h0M292.2,922.6h0M292.4,926.3h0M292.6,930.2h0M292.8,934.1h0M293,938.2h0M293.3,942.2h0M293.5,946.3h0M293.7,950.3h0M293.9,954.3h0M294.1,958.2h0M294.3,961.9h0M294.5,965.4h0M294.7,968.8h0M294.9,971.9h0M295.1,974.7h0M297.9,973.5h0M298.1,970.4h0M298.3,967h0M298.5,963.4h0M298.7,959.6h0M298.9,955.7h0M299.1,951.6h0M299.3,947.5h0M299.6,943.4h0M299.8,939.2h0M300,935.1h0M300.2,931.1h0M300.4,927.3h0M300.6,923.6h0M300.8,920.1h0M301,916.9h0M301.2,914h0M304.2,917.9h0M304.4,920.8h0M304.6,924h0M304.8,927.3h0M305,930.8h0M305.2,934.3h0M305.4,937.9h0M305.6,941.5h0M305.9,945.1h0M306.1,948.7h0M306.3,952.2h0M306.5,955.6h0M306.7,958.8h0M306.9,961.9h0M307.1,964.8h0M310.3,964.2h0M310.5,961.3h0M310.7,958.2h0M310.9,954.9h0M311.1,951.5h0M311.3,948h0M311.5,944.5h0M311.7,941.1h0M311.9,937.6h0M312.2,934.3h0M312.4,931.1h0M312.6,928.1h0M463.1,936.8h0M463.4,939.6h0M463.6,942.4h0M463.8,945.3h0M464,948.1h0M464.2,950.9h0M470.3,946.3h0M470.5,943.5h0M470.7,940.6h0M470.9,937.8h0M476.4,924.5h0M476.6,927.4h0M476.8,930.3h0M477,933.4h0M477.2,936.5h0M477.4,939.7h0M477.6,942.9h0M477.8,946.2h0M478.1,949.4h0M478.3,952.5h0M478.5,955.6h0M478.7,958.6h0M478.9,961.4h0M483.1,961.2h0M483.3,958.4h0M483.5,955.4h0M483.7,952.3h0M483.9,949.2h0M484.1,945.9h0M484.4,942.7h0M484.6,939.5h0M484.8,936.3h0M485,933.2h0M485.2,930.2h0M485.4,927.3h0M490.2,931.6h0M490.4,934.4h0M490.7,937.4h0M490.9,940.3h0M491.1,943.3h0M491.3,946.2h0M491.5,949.1h0M491.7,952h0M502.8,929h0M503,931.8h0M503.3,934.8h0M503.5,937.8h0M503.7,940.9h0M503.9,944.1h0M504.1,947.2h0M504.3,950.3h0M504.5,953.3h0M504.7,956.3h0M504.9,959.1h0M509.3,954.1h0M509.6,951.2h0M509.8,948.3h0M510,945.3h0M510.2,942.3h0M510.4,939.3h0M510.6,936.3h0M510.8,933.4h0M511,930.6h0M515.4,929.8h0M515.6,932.7h0M515.9,935.7h0M516.1,938.7h0M516.3,941.9h0M516.5,945h0M516.7,948.2h0M516.9,951.4h0M517.1,954.4h0M517.3,957.4h0M517.5,960.3h0M521.7,961.1h0M521.9,958.2h0M522.2,955.1h0M522.4,952h0M522.6,948.8h0M522.8,945.6h0M523,942.4h0M523.2,939.2h0M523.4,936.1h0M523.6,933.1h0M523.8,930.2h0M708.4,949.8h0M708.6,946.9h0M708.8,944.1h0M709.1,941.3h0M709.3,938.4h0M714.9,932.6h0M715.1,935.4h0M715.4,938.3h0M715.6,941.2h0M715.8,944h0M716,946.8h0M745.2,955.2h0M745.4,952.4h0M745.6,949.5h0M745.8,946.5h0M746,943.4h0M746.2,940.4h0M746.4,937.3h0M746.6,934.3h0M746.9,931.3h0M747.1,928.4h0M751.7,925.6h0M751.9,928.5h0M752.1,931.4h0M752.3,934.5h0M752.5,937.6h0M752.7,940.8h0M752.9,944h0M753.2,947.1h0M753.4,950.2h0M753.6,953.3h0M753.8,956.3h0M754,959.1h0M758.8,954.9h0M759,952.1h0M759.2,949.2h0M759.5,946.3h0M759.7,943.4h0M759.9,940.5h0M760.1,937.7h0M798.3,925.7h0M798.5,928.6h0M798.7,931.6h0M798.9,934.8h0M799.1,938h0M799.4,941.4h0M799.6,944.7h0M799.8,948.1h0M800,951.4h0M800.2,954.7h0M800.4,957.9h0M800.6,961h0M800.8,963.9h0M805.4,956.2h0M805.7,953.4h0M805.9,950.5h0M806.1,947.6h0M806.3,944.6h0M806.5,941.7h0M806.7,938.8h0M806.9,935.9h0M807.1,933.1h0" fill="none" stroke="#129e9b" stroke-width="1.9" stroke-linecap="round"/>
<path d="M79.1,997.7L79.3,999.6 79.7,997.1M87.5,783.1L87.9,778.7 88.1,778.1 88.5,779.7 88.9,784.3M94.8,914.9L95.2,919.3 95.4,919.8 96.1,918.6 96.9,914.4 98.2,903.9 100.7,877.6M102.2,854.8L103,847.1 103.2,846.7 103.4,846.8 104,847.9 105.3,853.3 108.7,873.6 109.5,876.7 109.9,877.6 110.3,877.8 111.4,877.3 112.4,876.1 116,869.5 117.3,867.5 118.3,866.5 119.2,866.2 120.8,866.6 124.8,868.8 126.7,869.3 193.3,869.3 200,870 201.3,869.9 202.7,869.4 208.8,866.6 210.1,866.3 211.4,866.2 212.8,866.7 214.5,867.8 219.8,873 221.4,874.4 223.1,875.3 224.6,875.5 226.1,874.6 227.5,872.8 232.1,864.5 233.8,861.9 235.3,860.4 236.1,860 236.8,860 237.4,860.5 238,861.4 239.5,864.8 243.7,879.1 245.2,883.3 246.4,885.8 247.1,886.4 247.7,886.6 248.3,886.1 248.9,884.8 250.4,879.5 254.6,856.4 256.1,849.5 257.3,845.6 258,844.7 258.4,844.5 259,845.1 259.7,846.9 260.9,853.3 262.2,862.5 265.3,888.8 266.6,897.3 267.8,902.9 268.5,904.1 268.9,904.3 269.3,903.6 269.9,900.9 271.2,891 275.4,839.7 276.2,831.2 277.1,825 277.9,821.7 278.3,821.3 278.8,822.1 279.6,827 280.7,838.4M285.3,911.9L286.5,925.3 287.2,928.8 287.6,929.8 287.8,929.8 288,929.4 288.4,927.5 289.5,917.1M295.1,810.6L296,801.3 296.4,798.4 296.8,797 297,796.9 297.2,797.3 297.5,798.2 298.3,806.7M304.2,941L304.8,947.5 305.2,949.5 305.4,949.7 305.9,948.4 306.5,942.6M313,789.9L313.6,783.4 314,781.5 314.3,781.4 314.7,782.9 315.3,789M322,952.6L322.7,958.4 323.1,959.7 323.5,958.3 323.9,954M330,783.4L330.4,779.3 330.6,778.3 330.8,778.1 331.3,780 331.7,784.6M337.8,952L338.2,956.1 338.6,957.5 339,955.9 339.5,951.6M345.3,793.1L345.8,788.2 346.2,785.9 346.4,785.9 346.6,786.5 347.2,792.1M353.1,938.2L353.7,944.3 353.9,945.1 354.2,945.3 354.6,943.7 355.2,937.3M360.7,810.8L361.3,804.2 361.7,802.5 361.9,802.6 362.1,803.4 362.8,809.4M367.6,918.3L368.2,923.7 368.4,924.3 368.6,924.2 369.3,921.1 369.9,914.4M374.3,833.3L375.2,824.6 375.6,822.7 375.8,822.4 376.2,823.3 376.6,825.8 377.5,835M381.2,899.8L382.1,908.9 382.5,911.3 382.9,912.1 383.3,911.1 383.8,908.4 384.6,899.2M387.8,847.9L388.4,840.4 389,835.8 389.2,835 389.4,834.6 389.6,834.7 390.3,836.7 391.5,846.9 394.7,882.7 395.5,888.4 396.2,889.9 396.4,889.8 396.8,889.1 397.6,885.8 401,861.9 401.8,857.6 402.2,856.3 402.7,855.6 403.1,855.8 403.5,856.6 404.3,860 408.1,884.2 409,887.1 409.4,887.7 409.8,887.5 410.4,885.7 411.3,881.2 414.6,855.8 415.5,852.1 416.1,851.2 416.5,851.4 416.9,852 418,854.8 421.6,870.3 422.4,873.2 423.2,875 423.7,875.4 424.3,875.4 427.2,873.2 428.3,873.1 429.3,873.9 431.6,877.2 432.7,877.8 433.1,877.6 433.5,877 434.6,874 437.9,858.7 439,854.8 440,852.5 440.5,852.3 441.1,852.6 442.1,854.5 443.4,858.6 447.4,877 448.9,882.7 450.1,885.8 450.8,886.5 451.4,886.5 452,885.8 452.6,884.4 453.9,879.9 458.3,856.8 459.8,850.3 461,846.6 461.7,845.8 462.3,845.7 462.7,846.2 463.4,847.8 464.6,853.5 468.6,881.5 469.9,889.2 471.1,894.2 471.8,895.3 472.2,895.5 472.8,894.7 473.4,892.7 474.7,886 478.7,854.2 479.9,845.7 481.2,840.3 481.8,839.1 482.3,839.1 482.7,839.6 483.3,841.7 484.6,849.2 488.6,886.1 489.8,896.2 490.9,901.9 491.5,903.8 491.9,904.3 492.3,904 493,902.3 494.2,894.7 495.5,883.2 499.1,844.7 500.1,836.1 501.2,830.5 501.8,829.1 502.2,829.1 502.6,830.2 503.3,833.4 504.3,842.5 505.6,857.8M507.7,886.9L509.6,908.5 510.4,914.2 511,916.3 511.2,916.5 511.4,916.4 511.7,916.1 512.5,912.2 513.3,904.8 514.2,894.8M517.7,841.9L519.2,825.3 519.8,820.8 520.5,818.3 520.9,818 521.1,818.4 521.7,821.3 523,834.1M527.4,905.9L528.7,919.3 529.3,922.6 529.7,923.2 530.1,922.4 530.8,918.9 531.8,907.6M536.4,830.7L537.5,819.2 538.1,815.5 538.5,814.6 539,815.2 539.6,818.6 540.6,830M545.5,913.7L546.5,924.4 546.9,926.7 547.4,927.6 547.6,927.4 548,925.8 548.8,917.8M554.1,816.8L554.9,808.2 555.5,805.8 555.8,806 556.2,807.8 556.8,813.9M562.3,926.8L563.1,935 563.5,936.4 563.7,936.3 564.4,933.4 565.2,924.3M570.9,810L571.7,801.4 572.3,799.1 572.8,799.8 573.2,802.2 574,811.2M579.7,924.7L580.5,933.6 581.2,936.3 581.4,936.4 581.8,934.8 582.4,928.6M587.7,816.8L588.3,810.7 588.7,809.1 588.9,809.2 589.4,811.1 590,817.6M594.8,919L595.4,926 595.9,928.4 596.1,928.7 596.3,928.5 596.7,926.7 597.5,918.4M602.8,815.6L603.6,807 604.1,805 604.3,804.7 604.5,804.9 604.9,806.9 605.5,813.3M611,930.1L611.6,937 612.2,939.8 612.5,939.6 612.9,937.8 613.5,931.4M619.2,807.8L619.8,800.8 620.4,798 620.6,798.1 621.1,800 621.7,806.3M627.2,921.1L627.8,927.1 628.2,928.6 628.4,928.6 629,925.6 629.7,918.9M634.1,837L634.9,828.6 635.3,826.9 635.6,826.8 636,828 636.4,830.7 637.2,840.1M640.6,895L641.4,903.7 641.9,905.9 642.1,906.4 642.3,906.5 642.7,905.4 643.1,902.8 644.2,891.2M647.5,836.5L648.6,824.9 649,822.3 649.4,821.2 649.6,821.3 650,822.8 650.9,830.7M655.5,915.6L656.3,924.2 656.8,926.1 657,926.4 657.2,926.2 657.6,924.1 658.2,917.6M663.1,820L663.7,813.5 664.1,811.5 664.3,811.3 664.5,811.6 665,813.6 665.8,822.4M670.2,903.4L670.8,910 671.3,912.5 671.5,913 671.7,913.1 672.1,912.2 673.1,905.3 674.6,888.1M675.7,874L677.3,855 678,850.7 678.6,848.9 678.8,848.9 679.2,849.6 679.9,851.9 682.8,870.3 683.4,873.1 684.1,874.4 684.3,874.4 684.7,873.8 685.5,870.6 688.5,850.5 689.3,846.2 689.9,844.7 690.2,844.5 690.4,844.6 690.6,845.1 691.2,848.2 692.7,863.8M695,896.7L696.2,910.8 696.9,914.9 697.3,916.2 697.5,916.4 697.7,916.2 698.3,913.4 699.4,902.8M703.8,830.2L704.9,819.7 705.5,817 705.7,816.8 705.9,817 706.3,818.4 707,822.7 708,834.7M711.6,890L712.4,899.3 713.3,904.6 713.7,905.4 714.1,905.2 715.1,903.2 716.2,899.4 717.5,892.8 721.7,864.7 723.3,854.9 724.8,849 725.6,847.2 726.3,846.7 726.7,847 727.3,848.5 728.6,854.7 729.8,864 733.4,894.5 734.5,901.2 735.3,904.9 735.9,906.3 736.4,906.5 737,904.6 737.8,898.1 738.7,888M741.6,843.3L742.9,829.3 743.5,825.5 743.9,824.5 744.1,824.6 744.8,826.5 745.4,830.8 746.6,844.7M749.8,891.1L750.6,901.3 751.5,908.5 752.1,911.5 752.3,911.9 752.5,912 752.7,911.8 753.2,910.8 753.6,908.8 754.4,902.5 756.3,880.7M757.8,860.7L759.9,836.5 760.7,830.6 761.1,828.8 761.6,828 761.8,827.9 762.2,828.6 763,832.9 763.9,840.2 764.9,852.7M767.9,894.5L769.5,913.4 770.4,918.9 771,920.8 771.2,920.9 771.4,920.7 771.6,920.2 772.3,916.8 773.5,903.4M778.1,826.9L779.4,813.3 780,809.9 780.5,809.1 780.9,809.7 781.5,813.1 782.6,824.4M787.4,907.3L788.4,918.3 789.1,921.5 789.3,921.9 789.5,922 789.9,921 790.5,917 791.6,905.4M795.6,840.4L796.8,827 797.5,823.8 797.7,823.5 797.9,823.4 798.3,824.4 798.9,828 800.2,841.5M803.6,892.3L804.8,906 805.4,909.8 805.9,910.8 806.1,910.9 806.7,909.2 807.3,905 808.6,891.2M811.7,844.9L813.2,829.1 813.8,825.6 814.3,824.6 814.5,824.5 815.1,826 815.7,829.5 817.2,845" fill="none" stroke="#4b5b97" stroke-width="5.0" stroke-linejoin="round" stroke-linecap="round"/>
<path d="M71.5,721.6h0M71.7,727.8h0M71.9,734.1h0M72.1,740.6h0M72.3,747.2h0M72.5,754h0M72.8,760.9h0M73,768h0M73.2,775.2h0M73.4,782.5h0M73.6,790h0M73.8,797.6h0M74,805.5h0M74.2,813.7h0M74.4,822h0M74.6,830.6h0M74.9,839.2h0M75.1,848h0M75.3,856.7h0M75.5,865.4h0M75.7,874.1h0M75.9,882.6h0M76.1,891.3h0M76.3,900.3h0M76.5,909.4h0M76.7,918.6h0M77,927.8h0M77.2,936.7h0M77.4,945.4h0M77.6,953.5h0M77.8,961.2h0M78,968.1h0M78.2,974.5h0M78.4,981.2h0M78.6,987.8h0M78.8,993.6h0M79.1,997.7h0M79.7,997.1h0M79.9,993.8h0M80.1,989.4h0M80.3,984h0M80.5,977.8h0M80.7,970.9h0M80.9,963.4h0M81.2,955.6h0M81.4,947.6h0M81.6,939.5h0M81.8,931.5h0M82,923.8h0M82.2,916.4h0M82.4,909.6h0M82.6,903.5h0M82.8,897.6h0M83,891.6h0M83.3,885.5h0M83.5,879.4h0M83.7,873.3h0M83.9,867.3h0M84.1,861.3h0M84.3,855.3h0M84.5,849.5h0M84.7,843.8h0M84.9,838.3h0M85.1,832.9h0M85.4,827.8h0M85.6,822.9h0M85.8,818.2h0M86,813.8h0M86.2,809.2h0M86.4,804.4h0M86.6,799.5h0M86.8,794.8h0M87,790.4h0M87.2,786.5h0M87.5,783.1h0M88.9,784.3h0M89.1,787.5h0M89.3,791.2h0M89.6,795.3h0M89.8,799.8h0M90,804.6h0M90.2,809.6h0M90.4,814.6h0M90.6,819.7h0M90.8,824.8h0M91,829.7h0M91.2,834.5h0M91.4,839h0M91.7,843.6h0M91.9,848.7h0M92.1,853.9h0M92.3,859.4h0M92.5,864.9h0M92.7,870.4h0M92.9,875.8h0M93.1,881h0M93.3,885.8h0M93.5,890.4h0M93.8,894.4h0M94,898.7h0M94.2,903.1h0M94.4,907.4h0M94.6,911.5h0M94.8,914.9h0M100.7,877.6h0M100.9,874.6h0M101.1,871.4h0M101.3,868h0M101.5,864.5h0M101.7,861.1h0M101.9,857.9h0M102.2,854.8h0M280.7,838.4h0M280.9,841.2h0M281.1,844.2h0M281.3,847.2h0M281.5,850.5h0M281.7,853.8h0M281.9,857.2h0M282.1,860.7h0M282.3,864.2h0M282.5,867.8h0M282.8,871.4h0M283,875h0M283.2,878.7h0M283.4,882.3h0M283.6,885.9h0M283.8,889.4h0M284,892.9h0M284.2,896.4h0M284.4,899.7h0M284.6,902.9h0M284.9,906.1h0M285.1,909.1h0M285.3,911.9h0M289.5,917.1h0M289.7,914.1h0M289.9,911h0M290.1,907.7h0M290.3,904.1h0M290.5,900.4h0M290.7,896.5h0M290.9,892.5h0M291.2,888.3h0M291.4,884h0M291.6,879.7h0M291.8,875.3h0M292,870.8h0M292.2,866.4h0M292.4,861.8h0M292.6,857.4h0M292.8,852.9h0M293,848.5h0M293.3,844.1h0M293.5,839.8h0M293.7,835.6h0M293.9,831.5h0M294.1,827.6h0M294.3,823.8h0M294.5,820.2h0M294.7,816.8h0M294.9,813.6h0M295.1,810.6h0M298.3,806.7h0M298.5,809.9h0M298.7,813.5h0M298.9,817.4h0M299.1,821.6h0M299.3,826.1h0M299.6,830.8h0M299.8,835.8h0M300,840.9h0M300.2,846.3h0M300.4,851.7h0M300.6,857.3h0M300.8,863h0M301,868.7h0M301.2,874.4h0M301.4,880.1h0M301.7,885.8h0M301.9,891.4h0M302.1,897h0M302.3,902.4h0M302.5,907.6h0M302.7,912.7h0M302.9,917.6h0M303.1,922.3h0M303.3,926.6h0M303.5,930.7h0M303.8,934.5h0M304,937.9h0M304.2,941h0M306.5,942.6h0M306.7,939.8h0M306.9,936.5h0M307.1,932.9h0M307.3,929h0M307.5,924.7h0M307.7,920.1h0M308,915.3h0M308.2,910.2h0M308.4,904.9h0M308.6,899.4h0M308.8,893.7h0M309,888h0M309.2,882.1h0M309.4,876.1h0M309.6,870.1h0M309.8,864.1h0M310.1,858.1h0M310.3,852.1h0M310.5,846.2h0M310.7,840.4h0M310.9,834.7h0M311.1,829.1h0M311.3,823.7h0M311.5,818.5h0M311.7,813.5h0M311.9,808.8h0M312.2,804.3h0M312.4,800.2h0M312.6,796.4h0M312.8,793h0M313,789.9h0M315.3,789h0M315.5,792h0M315.7,795.4h0M315.9,799.2h0M316.1,803.3h0M316.4,807.8h0M316.6,812.6h0M316.8,817.7h0M317,823h0M317.2,828.5h0M317.4,834.3h0M317.6,840.2h0M317.8,846.2h0M318,852.3h0M318.2,858.6h0M318.5,864.8h0M318.7,871.2h0M318.9,877.5h0M319.1,883.7h0M319.3,889.9h0M319.5,896.1h0M319.7,902.1h0M319.9,908h0M320.1,913.7h0M320.3,919.2h0M320.6,924.4h0M320.8,929.4h0M321,934.2h0M321.2,938.6h0M321.4,942.7h0M321.6,946.4h0M321.8,949.7h0M322,952.6h0M323.9,954h0M324.1,950.8h0M324.3,947.1h0M324.5,942.8h0M324.8,938h0M325,932.8h0M325.2,927.1h0M325.4,921.1h0M325.6,914.7h0M325.8,908.1h0M326,901.2h0M326.2,894.1h0M326.4,886.8h0M326.6,879.5h0M326.9,872.1h0M327.1,864.7h0M327.3,857.3h0M327.5,849.9h0M327.7,842.7h0M327.9,835.6h0M328.1,828.8h0M328.3,822.2h0M328.5,815.8h0M328.7,809.9h0M329,804.3h0M329.2,799.1h0M329.4,794.4h0M329.6,790.1h0M329.8,786.5h0M330,783.4h0M331.7,784.6h0M331.9,787.8h0M332.1,791.6h0M332.3,795.9h0M332.5,800.7h0M332.7,805.9h0M332.9,811.5h0M333.2,817.4h0M333.4,823.7h0M333.6,830.2h0M333.8,837h0M334,843.9h0M334.2,851h0M334.4,858.2h0M334.6,865.4h0M334.8,872.6h0M335,879.8h0M335.3,887h0M335.5,894h0M335.7,900.9h0M335.9,907.6h0M336.1,914h0M336.3,920.2h0M336.5,926h0M336.7,931.5h0M336.9,936.6h0M337.1,941.2h0M337.4,945.3h0M337.6,948.9h0M337.8,952h0M339.5,951.6h0M339.7,948.5h0M339.9,944.8h0M340.1,940.7h0M340.3,936.1h0M340.5,931h0M340.7,925.6h0M340.9,919.8h0M341.1,913.8h0M341.3,907.4h0M341.6,900.9h0M341.8,894.2h0M342,887.3h0M342.2,880.3h0M342.4,873.3h0M342.6,866.3h0M342.8,859.3h0M343,852.4h0M343.2,845.6h0M343.4,839h0M343.7,832.5h0M343.9,826.3h0M344.1,820.4h0M344.3,814.8h0M344.5,809.6h0M344.7,804.7h0M344.9,800.4h0M345.1,796.5h0M345.3,793.1h0M347.2,792.1h0M347.4,795h0M347.6,798.5h0M347.9,802.4h0M348.1,806.7h0M348.3,811.4h0M348.5,816.5h0M348.7,821.8h0M348.9,827.4h0M349.1,833.3h0M349.3,839.3h0M349.5,845.5h0M349.7,851.8h0M350,858.2h0M350.2,864.6h0M350.4,871.1h0M350.6,877.5h0M350.8,883.8h0M351,890h0M351.2,896.1h0M351.4,902h0M351.6,907.7h0M351.8,913.1h0M352.1,918.3h0M352.3,923.1h0M352.5,927.5h0M352.7,931.5h0M352.9,935.1h0M353.1,938.2h0M355.2,937.3h0M355.4,934.1h0M355.6,930.6h0M355.8,926.7h0M356,922.5h0M356.3,917.9h0M356.5,913h0M356.7,907.9h0M356.9,902.6h0M357.1,897.2h0M357.3,891.5h0M357.5,885.8h0M357.7,880h0M357.9,874.2h0M358.1,868.3h0M358.4,862.5h0M358.6,856.8h0M358.8,851.2h0M359,845.7h0M359.2,840.3h0M359.4,835.2h0M359.6,830.4h0M359.8,825.8h0M360,821.5h0M360.2,817.5h0M360.5,814h0M360.7,810.8h0M362.8,809.4h0M363,812.5h0M363.2,816.1h0M363.4,820h0M363.6,824.4h0M363.8,829h0M364,834h0M364.2,839.2h0M364.4,844.6h0M364.7,850.1h0M364.9,855.8h0M365.1,861.5h0M365.3,867.2h0M365.5,872.9h0M365.7,878.5h0M365.9,884h0M366.1,889.4h0M366.3,894.5h0M366.5,899.4h0M366.8,903.9h0M367,908.1h0M367.2,912h0M367.4,915.4h0M367.6,918.3h0M369.9,914.4h0M370.1,911.5h0M370.3,908.3h0M370.5,904.9h0M370.7,901.2h0M371,897.4h0M371.2,893.4h0M371.4,889.2h0M371.6,885h0M371.8,880.7h0M372,876.3h0M372.2,871.9h0M372.4,867.5h0M372.6,863.2h0M372.8,858.9h0M373.1,854.7h0M373.3,850.6h0M373.5,846.7h0M373.7,843h0M373.9,839.5h0M374.1,836.3h0M374.3,833.3h0M377.5,835h0M377.7,837.9h0M377.9,841.1h0M378.1,844.5h0M378.3,848.1h0M378.5,851.8h0M378.7,855.6h0M378.9,859.5h0M379.1,863.5h0M379.4,867.4h0M379.6,871.4h0M379.8,875.4h0M380,879.2h0M380.2,883.1h0M380.4,886.7h0M380.6,890.3h0M380.8,893.7h0M381,896.9h0M381.2,899.8h0M384.6,899.2h0M384.8,896.2h0M385,893.1h0M385.2,889.8h0M385.4,886.3h0M385.7,882.8h0M385.9,879.1h0M386.1,875.5h0M386.3,871.8h0M386.5,868.1h0M386.7,864.4h0M386.9,860.9h0M387.1,857.4h0M387.3,854.1h0M387.5,850.9h0M387.8,847.9h0M505.6,857.8h0M505.8,860.6h0M506,863.5h0M506.2,866.4h0M506.4,869.4h0M506.6,872.3h0M506.8,875.3h0M507,878.2h0M507.2,881.2h0M507.5,884.1h0M507.7,886.9h0M514.2,894.8h0M514.4,892h0M514.6,889.1h0M514.8,886.1h0M515,883h0M515.2,879.9h0M515.4,876.7h0M515.6,873.5h0M515.9,870.2h0M516.1,866.9h0M516.3,863.7h0M516.5,860.4h0M516.7,857.2h0M516.9,854h0M517.1,850.9h0M517.3,847.8h0M517.5,844.8h0M517.7,841.9h0M523,834.1h0M523.2,837h0M523.4,840h0M523.6,843.1h0M523.8,846.4h0M524,849.8h0M524.3,853.3h0M524.5,856.9h0M524.7,860.5h0M524.9,864.2h0M525.1,867.9h0M525.3,871.7h0M525.5,875.4h0M525.7,879.1h0M525.9,882.7h0M526.1,886.3h0M526.4,889.9h0M526.6,893.3h0M526.8,896.7h0M527,899.9h0M527.2,903h0M527.4,905.9h0M531.8,907.6h0M532,904.8h0M532.2,901.7h0M532.4,898.5h0M532.7,895.2h0M532.9,891.7h0M533.1,888.1h0M533.3,884.4h0M533.5,880.7h0M533.7,876.9h0M533.9,873.1h0M534.1,869.3h0M534.3,865.4h0M534.5,861.6h0M534.8,857.8h0M535,854.1h0M535.2,850.4h0M535.4,846.8h0M535.6,843.3h0M535.8,839.9h0M536,836.7h0M536.2,833.6h0M536.4,830.7h0M540.6,830h0M540.8,833h0M541.1,836.2h0M541.3,839.5h0M541.5,843h0M541.7,846.6h0M541.9,850.4h0M542.1,854.2h0M542.3,858.1h0M542.5,862.1h0M542.7,866.1h0M542.9,870.1h0M543.2,874.2h0M543.4,878.2h0M543.6,882.2h0M543.8,886.2h0M544,890h0M544.2,893.8h0M544.4,897.5h0M544.6,901.1h0M544.8,904.5h0M545,907.7h0M545.3,910.8h0M545.5,913.7h0M548.8,917.8h0M549,914.9h0M549.2,911.8h0M549.5,908.4h0M549.7,904.8h0M549.9,900.9h0M550.1,896.9h0M550.3,892.7h0M550.5,888.3h0M550.7,883.9h0M550.9,879.3h0M551.1,874.7h0M551.3,870h0M551.6,865.4h0M551.8,860.7h0M552,856.1h0M552.2,851.5h0M552.4,847h0M552.6,842.6h0M552.8,838.3h0M553,834.2h0M553.2,830.3h0M553.4,826.5h0M553.7,823h0M553.9,819.8h0M554.1,816.8h0M556.8,813.9h0M557,816.7h0M557.2,819.9h0M557.4,823.3h0M557.6,827.1h0M557.9,831.2h0M558.1,835.5h0M558.3,839.9h0M558.5,844.6h0M558.7,849.4h0M558.9,854.4h0M559.1,859.4h0M559.3,864.5h0M559.5,869.6h0M559.7,874.8h0M560,879.9h0M560.2,885h0M560.4,890h0M560.6,894.8h0M560.8,899.6h0M561,904.2h0M561.2,908.6h0M561.4,912.8h0M561.6,916.7h0M561.8,920.4h0M562.1,923.7h0M562.3,926.8h0M565.2,924.3h0M565.4,921.2h0M565.6,917.9h0M565.8,914.2h0M566,910.4h0M566.3,906.3h0M566.5,902.1h0M566.7,897.7h0M566.9,893.2h0M567.1,888.5h0M567.3,883.8h0M567.5,878.9h0M567.7,874.1h0M567.9,869.2h0M568.1,864.2h0M568.4,859.3h0M568.6,854.5h0M568.8,849.7h0M569,845h0M569.2,840.4h0M569.4,835.9h0M569.6,831.5h0M569.8,827.4h0M570,823.4h0M570.2,819.7h0M570.5,816.2h0M570.7,812.9h0M570.9,810h0M574,811.2h0M574.2,814.3h0M574.4,817.6h0M574.7,821.2h0M574.9,825h0M575.1,829h0M575.3,833.1h0M575.5,837.5h0M575.7,841.9h0M575.9,846.5h0M576.1,851.2h0M576.3,856h0M576.5,860.8h0M576.8,865.7h0M577,870.5h0M577.2,875.4h0M577.4,880.2h0M577.6,884.9h0M577.8,889.6h0M578,894.2h0M578.2,898.7h0M578.4,903h0M578.6,907.1h0M578.9,911.1h0M579.1,914.9h0M579.3,918.4h0M579.5,921.7h0M579.7,924.7h0M582.4,928.6h0M582.6,925.7h0M582.8,922.3h0M583.1,918.7h0M583.3,914.7h0M583.5,910.4h0M583.7,905.9h0M583.9,901.1h0M584.1,896.2h0M584.3,891.1h0M584.5,885.9h0M584.7,880.6h0M584.9,875.3h0M585.2,870h0M585.4,864.6h0M585.6,859.3h0M585.8,854.2h0M586,849.1h0M586.2,844.2h0M586.4,839.4h0M586.6,834.9h0M586.8,830.6h0M587,826.7h0M587.3,823h0M587.5,819.7h0M587.7,816.8h0M590,817.6h0M590.2,820.6h0M590.4,824h0M590.6,827.7h0M590.8,831.7h0M591,836h0M591.2,840.5h0M591.5,845.2h0M591.7,850h0M591.9,855h0M592.1,860.1h0M592.3,865.2h0M592.5,870.4h0M592.7,875.5h0M592.9,880.6h0M593.1,885.7h0M593.3,890.6h0M593.6,895.3h0M593.8,899.9h0M594,904.3h0M594.2,908.4h0M594.4,912.3h0M594.6,915.8h0M594.8,919h0M597.5,918.4h0M597.8,915.5h0M598,912.3h0M598.2,908.8h0M598.4,905.1h0M598.6,901.2h0M598.8,897h0M599,892.7h0M599.2,888.3h0M599.4,883.7h0M599.6,879.1h0M599.9,874.4h0M600.1,869.6h0M600.3,864.9h0M600.5,860.1h0M600.7,855.4h0M600.9,850.8h0M601.1,846.2h0M601.3,841.7h0M601.5,837.4h0M601.7,833.2h0M602,829.2h0M602.2,825.5h0M602.4,821.9h0M602.6,818.6h0M602.8,815.6h0M605.5,813.3h0M605.7,816.3h0M605.9,819.6h0M606.2,823.2h0M606.4,827.2h0M606.6,831.4h0M606.8,835.8h0M607,840.5h0M607.2,845.3h0M607.4,850.3h0M607.6,855.4h0M607.8,860.6h0M608,865.9h0M608.3,871.2h0M608.5,876.6h0M608.7,881.8h0M608.9,887.1h0M609.1,892.2h0M609.3,897.3h0M609.5,902.2h0M609.7,906.9h0M609.9,911.5h0M610.1,915.8h0M610.4,919.8h0M610.6,923.6h0M610.8,927h0M611,930.1h0M613.5,931.4h0M613.7,928.5h0M613.9,925.2h0M614.1,921.6h0M614.3,917.6h0M614.6,913.4h0M614.8,909h0M615,904.3h0M615.2,899.4h0M615.4,894.3h0M615.6,889.1h0M615.8,883.8h0M616,878.5h0M616.2,873h0M616.4,867.6h0M616.7,862.2h0M616.9,856.8h0M617.1,851.4h0M617.3,846.2h0M617.5,841.1h0M617.7,836.1h0M617.9,831.3h0M618.1,826.7h0M618.3,822.3h0M618.5,818.2h0M618.8,814.4h0M619,811h0M619.2,807.8h0M621.7,806.3h0M621.9,809.3h0M622.1,812.6h0M622.3,816.2h0M622.5,820.1h0M622.7,824.4h0M623,828.8h0M623.2,833.5h0M623.4,838.3h0M623.6,843.3h0M623.8,848.4h0M624,853.6h0M624.2,858.8h0M624.4,864.1h0M624.6,869.4h0M624.8,874.6h0M625.1,879.8h0M625.3,884.9h0M625.5,889.8h0M625.7,894.6h0M625.9,899.2h0M626.1,903.6h0M626.3,907.7h0M626.5,911.6h0M626.7,915.1h0M626.9,918.3h0M627.2,921.1h0M629.7,918.9h0M629.9,916h0M630.1,912.8h0M630.3,909.3h0M630.5,905.6h0M630.7,901.7h0M630.9,897.6h0M631.1,893.4h0M631.4,889.1h0M631.6,884.7h0M631.8,880.3h0M632,875.8h0M632.2,871.4h0M632.4,867h0M632.6,862.7h0M632.8,858.4h0M633,854.4h0M633.2,850.4h0M633.5,846.7h0M633.7,843.2h0M633.9,840h0M634.1,837h0M637.2,840.1h0M637.4,843.1h0M637.7,846.3h0M637.9,849.7h0M638.1,853.2h0M638.3,856.8h0M638.5,860.4h0M638.7,864.2h0M638.9,867.9h0M639.1,871.6h0M639.3,875.3h0M639.5,879h0M639.8,882.5h0M640,885.9h0M640.2,889.1h0M640.4,892.2h0M640.6,895h0M644.2,891.2h0M644.4,888.2h0M644.6,885.1h0M644.8,881.7h0M645,878.3h0M645.2,874.8h0M645.4,871.2h0M645.6,867.5h0M645.8,863.9h0M646.1,860.2h0M646.3,856.5h0M646.5,852.9h0M646.7,849.4h0M646.9,846h0M647.1,842.6h0M647.3,839.5h0M647.5,836.5h0M650.9,830.7h0M651.1,833.5h0M651.3,836.6h0M651.5,840h0M651.7,843.6h0M651.9,847.4h0M652.1,851.3h0M652.4,855.4h0M652.6,859.6h0M652.8,864h0M653,868.3h0M653.2,872.7h0M653.4,877.2h0M653.6,881.6h0M653.8,885.9h0M654,890.2h0M654.2,894.3h0M654.5,898.4h0M654.7,902.2h0M654.9,905.9h0M655.1,909.4h0M655.3,912.6h0M655.5,915.6h0M658.2,917.6h0M658.4,914.6h0M658.7,911.3h0M658.9,907.6h0M659.1,903.7h0M659.3,899.5h0M659.5,895.1h0M659.7,890.6h0M659.9,885.9h0M660.1,881.1h0M660.3,876.2h0M660.5,871.2h0M660.8,866.2h0M661,861.3h0M661.2,856.4h0M661.4,851.6h0M661.6,846.9h0M661.8,842.3h0M662,838h0M662.2,833.8h0M662.4,829.9h0M662.6,826.3h0M662.9,823h0M663.1,820h0M665.8,822.4h0M666,825.4h0M666.2,828.7h0M666.4,832.2h0M666.6,836h0M666.8,839.9h0M667.1,844h0M667.3,848.1h0M667.5,852.4h0M667.7,856.8h0M667.9,861.2h0M668.1,865.5h0M668.3,869.9h0M668.5,874.2h0M668.7,878.5h0M668.9,882.6h0M669.2,886.6h0M669.4,890.4h0M669.6,894h0M669.8,897.4h0M670,900.6h0M670.2,903.4h0M674.6,888.1h0M674.8,885.3h0M675,882.5h0M675.2,879.6h0M675.5,876.8h0M675.7,874h0M692.7,863.8h0M692.9,866.6h0M693.1,869.5h0M693.3,872.5h0M693.5,875.6h0M693.7,878.7h0M693.9,881.8h0M694.1,884.9h0M694.4,887.9h0M694.6,890.9h0M694.8,893.9h0M695,896.7h0M699.4,902.8h0M699.6,900h0M699.8,897h0M700,893.8h0M700.2,890.5h0M700.4,887h0M700.7,883.4h0M700.9,879.8h0M701.1,876h0M701.3,872.2h0M701.5,868.4h0M701.7,864.6h0M701.9,860.8h0M702.1,857h0M702.3,853.3h0M702.5,849.6h0M702.8,846h0M703,842.6h0M703.2,839.2h0M703.4,836.1h0M703.6,833.1h0M703.8,830.2h0M708,834.7h0M708.2,837.6h0M708.4,840.7h0M708.6,843.9h0M708.8,847.2h0M709.1,850.6h0M709.3,854h0M709.5,857.4h0M709.7,860.9h0M709.9,864.4h0M710.1,867.9h0M710.3,871.3h0M710.5,874.7h0M710.7,878h0M710.9,881.2h0M711.2,884.3h0M711.4,887.2h0M711.6,890h0M738.7,888h0M738.9,885.1h0M739.1,882h0M739.3,878.9h0M739.5,875.6h0M739.7,872.3h0M739.9,869h0M740.1,865.7h0M740.3,862.3h0M740.6,859h0M740.8,855.7h0M741,852.4h0M741.2,849.3h0M741.4,846.2h0M741.6,843.3h0M746.6,844.7h0M746.9,847.6h0M747.1,850.5h0M747.3,853.5h0M747.5,856.6h0M747.7,859.8h0M747.9,863h0M748.1,866.2h0M748.3,869.5h0M748.5,872.7h0M748.7,875.9h0M749,879.1h0M749.2,882.2h0M749.4,885.3h0M749.6,888.3h0M749.8,891.1h0M756.3,880.7h0M756.5,877.9h0M756.7,875h0M756.9,872.1h0M757.1,869.3h0M757.4,866.4h0M757.6,863.5h0M757.8,860.7h0M764.9,852.7h0M765.1,855.5h0M765.3,858.4h0M765.5,861.3h0M765.8,864.3h0M766,867.4h0M766.2,870.4h0M766.4,873.5h0M766.6,876.6h0M766.8,879.7h0M767,882.7h0M767.2,885.8h0M767.4,888.7h0M767.6,891.6h0M767.9,894.5h0M773.5,903.4h0M773.7,900.4h0M773.9,897.4h0M774.2,894.1h0M774.4,890.8h0M774.6,887.3h0M774.8,883.8h0M775,880.2h0M775.2,876.5h0M775.4,872.7h0M775.6,869h0M775.8,865.2h0M776,861.4h0M776.3,857.6h0M776.5,853.9h0M776.7,850.2h0M776.9,846.6h0M777.1,843h0M777.3,839.5h0M777.5,836.2h0M777.7,832.9h0M777.9,829.9h0M778.1,826.9h0M782.6,824.4h0M782.8,827.4h0M783,830.5h0M783.2,833.8h0M783.4,837.2h0M783.6,840.8h0M783.8,844.5h0M784,848.3h0M784.2,852.2h0M784.4,856.1h0M784.7,860h0M784.9,864h0M785.1,868h0M785.3,872h0M785.5,876h0M785.7,879.9h0M785.9,883.7h0M786.1,887.5h0M786.3,891.1h0M786.5,894.7h0M786.8,898.1h0M787,901.3h0M787.2,904.4h0M787.4,907.3h0M791.6,905.4h0M791.8,902.5h0M792,899.4h0M792.2,896.1h0M792.4,892.8h0M792.6,889.3h0M792.8,885.8h0M793.1,882.2h0M793.3,878.5h0M793.5,874.8h0M793.7,871.1h0M793.9,867.4h0M794.1,863.8h0M794.3,860.1h0M794.5,856.6h0M794.7,853.1h0M794.9,849.7h0M795.2,846.5h0M795.4,843.4h0M795.6,840.4h0M800.2,841.5h0M800.4,844.4h0M800.6,847.3h0M800.8,850.4h0M801,853.6h0M801.2,856.8h0M801.5,860.1h0M801.7,863.5h0M801.9,866.8h0M802.1,870.2h0M802.3,873.5h0M802.5,876.8h0M802.7,880.1h0M802.9,883.3h0M803.1,886.4h0M803.3,889.4h0M803.6,892.3h0M808.6,891.2h0M808.8,888.4h0M809,885.4h0M809.2,882.4h0M809.4,879.3h0M809.6,876.1h0M809.9,872.9h0M810.1,869.7h0M810.3,866.5h0M810.5,863.2h0M810.7,860h0M810.9,856.9h0M811.1,853.7h0M811.3,850.7h0M811.5,847.7h0M811.7,844.9h0M817.2,845h0M817.4,847.9h0M817.6,851h0M817.8,854.2h0M818,857.6h0M818.3,861h0M818.5,864.6h0M818.7,868.4h0M818.9,872.2h0M819.1,876.1h0" fill="none" stroke="#4b5b97" stroke-width="3.7" stroke-linecap="round"/>
<path d="M57.3,1175L58.8,1152.2 59.8,1141.5 62,1127.6 62.8,1124.9 63.5,1123.8 63.8,1124 64.3,1125.7 65,1131 67.5,1155.6 69.8,1183.5 70.5,1189.3 71,1190.8 71.3,1190.7 71.8,1189.8 72.8,1185.6 76.8,1156.1 77.8,1151.3 78.5,1149.7 78.8,1149.7 79.3,1150 80.3,1151.9 84.3,1165.9 85.3,1168.3 85.8,1169 86.3,1169.2 87,1169 87.8,1168.3 91.3,1163.6 92,1162.9 92.8,1162.7 99.8,1163.8 150.1,1163.8 152.6,1163.5 157.8,1162.5 160.1,1162.3 161.6,1162.6 163.1,1163.1 170.1,1166.9 171.6,1167.4 173.1,1167.5 174.3,1167 175.6,1165.9 179.8,1160.2 181.3,1158.5 182.6,1157.6 183.6,1157.3 184.6,1157.7 185.8,1159.2 187.3,1162 191.6,1171.6 193.1,1173.9 193.8,1174.4 194.3,1174.6 194.8,1174.5 195.6,1173.6 196.8,1170.7 200.8,1156.1 202.1,1152.2 203.3,1149.8 203.8,1149.4 204.3,1149.4 204.8,1149.9 205.3,1151 206.3,1154.5 210.8,1177.8 211.8,1181 212.3,1181.9 212.8,1182.2 213.3,1181.9 213.8,1180.9 214.8,1177.3 216.1,1170.7 219.8,1147.4 221.1,1142.6 221.6,1141.5 222.1,1141.1 222.6,1141.5 223.1,1142.7 224.3,1149 228.8,1183.6 229.8,1188.2 230.3,1189.4 230.8,1189.7 231.6,1188.3 232.6,1183.4 233.8,1174 237.3,1143.6 238.3,1138.1 238.8,1136.4 239.3,1135.7 239.6,1135.8 240.1,1137 241.1,1143.2 244.3,1178.5 245.3,1187.5 246.1,1191.7 246.6,1192.9 246.8,1193 247.6,1190.7 248.6,1183.4 252.3,1142.3 253.1,1137.5 253.6,1135.9 253.8,1135.7 254.1,1135.9 254.6,1137.2 255.6,1143 259.6,1181.7 260.6,1187.8 261.3,1189.7 261.6,1189.6 262.1,1188.7 263.1,1183.7 267.1,1148.1 268.1,1142.1 268.6,1140.5 269.1,1140 269.3,1140.2 269.8,1141.6 270.6,1145.4 274.3,1177.2 275.3,1182.7 275.8,1184.1 276.1,1184.3 276.3,1184.2 276.8,1183.3 277.6,1180.2 281.3,1154 282.3,1149.6 282.8,1148.7 283.1,1148.6 283.8,1149.5 284.8,1152.8 287.8,1168.7 288.8,1173 289.6,1175.1 290.1,1175.7 290.3,1175.7 291.1,1174.8 292.1,1171.7 295.6,1155.9 296.3,1153.8 297.1,1153 297.3,1153.1 297.8,1153.7 298.6,1155.6 302.1,1170.6 302.8,1172.6 303.6,1173.5 304.3,1173.1 305.1,1171.8 308.3,1162.9 309.1,1161.4 309.8,1160.6 310.3,1160.5 311.1,1160.7 313.8,1162.6 315.1,1163 316.3,1162.5 319.1,1160.3 319.8,1160.1 320.3,1160.2 321.1,1160.9 321.8,1162 325.8,1170.1 326.8,1171.2 327.6,1171.4 328.6,1170.9 329.8,1169.2 333.8,1161.1 335.1,1158.9 336.1,1157.8 337.1,1157.3 337.6,1157.4 338.3,1157.8 339.8,1159.7 344.3,1168.5 345.8,1170.9 347.1,1172.1 347.8,1172.4 348.3,1172.3 349.3,1171.3 350.6,1168.8 354.3,1158.2 355.6,1155.2 356.8,1153.4 357.3,1153.1 357.8,1153 358.8,1153.9 360.1,1156.5 364.1,1169.6 365.3,1173 366.6,1175.2 367.1,1175.6 367.6,1175.7 368.1,1175.4 368.6,1174.6 369.8,1171.5 373.8,1155.9 375.1,1151.7 376.3,1149.1 376.8,1148.7 377.3,1148.7 377.8,1149.2 378.3,1150.3 379.3,1153.7 383.8,1176.1 384.8,1179 385.3,1179.8 385.8,1180 386.3,1179.6 386.8,1178.7 388.1,1174.7 391.8,1155.7 393.1,1150.3 394.1,1147.5 394.6,1146.7 395.1,1146.5 395.6,1147 396.1,1148.2 397.1,1152.2 400.3,1172.4 401.3,1177.6 402.3,1180.9 402.8,1181.6 403.1,1181.7 403.6,1181.3 404.1,1180.2 405.3,1175.2 408.6,1155.5 409.8,1148.9 410.8,1145.4 411.3,1144.5 411.8,1144.3 412.3,1144.9 412.8,1146.1 413.8,1150.3 417.3,1173.1 418.6,1180 419.6,1183.4 420.1,1184.2 420.3,1184.3 420.6,1184.2 421.1,1183.2 422.1,1179 426.3,1147.8 427.3,1143 427.8,1141.6 428.3,1141.1 428.8,1141.6 429.3,1143 430.3,1148 433.8,1175.8 434.8,1182.4 435.8,1186.6 436.3,1187.5 436.6,1187.6 436.8,1187.4 437.3,1186.2 438.3,1181.2 442.1,1150.3 443.1,1144.6 443.8,1142.4 444.1,1142.2 444.6,1142.6 445.6,1146.1 446.6,1152.2 449.8,1176.1 450.8,1180.4 451.3,1181.3 451.6,1181.4 452.3,1180.3 453.3,1176.5 456.6,1155.9 457.6,1150.5 458.6,1147.3 459.1,1146.8 459.6,1147.3 460.1,1149.1 460.8,1153.4 464.1,1179.7 464.8,1183.3 465.3,1184.5 465.6,1184.6 466.1,1184.1 466.6,1182.9 467.8,1177.1 471.1,1154.3 472.3,1146.7 473.3,1142.7 473.8,1141.7 474.3,1141.4 475.1,1143.2 476.1,1149 479.8,1181.6 480.6,1185.4 481.1,1186.6 481.3,1186.8 481.6,1186.6 482.1,1185.5 482.8,1182 486.3,1154.2 487.3,1148.7 488.1,1146.9 488.3,1146.8 488.8,1147.4 489.6,1149.8 492.8,1168.2 493.6,1171.6 494.3,1173.5 494.6,1173.8 495.1,1173.7 496.1,1172.3 497.1,1169.7 499.8,1161.2 500.8,1159.2 501.6,1158.6 502.1,1158.9 502.8,1160.5 505.8,1172.1 506.6,1174.1 507.3,1174.9 507.6,1174.8 508.1,1173.9 509.1,1170.2 512.8,1148.8 513.5,1146.4 514,1145.7 514.3,1145.7 515,1147 516,1151.3 520,1178.4 521,1182.5 521.5,1183.4 521.8,1183.5 522,1183.4 522.5,1182.6 523.3,1180.1 524.3,1175.1 527.5,1155.6 528.5,1152 529,1151.2 529.3,1151.1 529.8,1151.2 530.5,1151.8 531.8,1153.5 536,1162.8 537.5,1165.6 541.3,1170.4 542.3,1171.2 543.3,1171.6 543.8,1171.4 544.3,1170.8 545.3,1168.5 548.3,1157.6 549.5,1153.9 550.5,1152.3 551,1152.2 551.3,1152.4 552,1153.8 553,1157.2 556.8,1174.8 557.8,1177.5 558.3,1178 558.5,1178.1 559,1177.8 559.5,1176.9 560.8,1173.1 564.3,1156.5 565.5,1151.7 566.5,1149.4 567,1148.9 567.5,1149 568.5,1150.9 569.5,1154.5 572.8,1170.7 574,1175.9 575,1178.5 575.5,1179.1 576,1179.1 576.5,1178.5 577,1177.3 578,1173.6 582.5,1150 583.5,1146.8 584,1146 584.5,1145.7 585,1146.1 585.5,1147.3 586.5,1151.1 590.3,1174.1 591.3,1179.2 592.3,1182.6 592.8,1183.4 593.3,1183.4 593.8,1182.8 594.3,1181.5 595.3,1177.3 599.8,1149.8 600.8,1146 601.3,1145 601.8,1144.6 602.3,1145 602.8,1146 603.8,1149.6 608,1174.7 609,1179 609.5,1180.4 610,1181.2 610.5,1181.4 611,1180.9 612.3,1177.6 613.5,1172 616.5,1156.5 617.5,1152.6 618.5,1150.4 619,1150 619.3,1150.1 619.8,1150.8 620.3,1152.3 621.3,1156.8 624,1171.6 624.8,1174.1 625.3,1174.8 625.5,1174.9 626.3,1174.1 627,1172.2 628,1168.4 631.3,1153.5 632.3,1150.8 633,1150 633.5,1150.3 634,1151.4 635,1155.5 639,1179.4 640,1182.8 640.5,1183.5 640.8,1183.5 641.5,1181.9 642.5,1176.7 646.5,1144.7 647.5,1140.1 648,1139.3 648.3,1139.2 649,1140.5 650,1145 651,1151.7 654.8,1181.6 655.8,1186.7 656.3,1188.2 656.8,1188.9 657,1188.9 657.5,1188.1 658.5,1184 659.8,1175.6 663,1149.7 664,1144.5 664.5,1143 665,1142.4 665.3,1142.5 665.8,1143.4 666.5,1146.3 670.3,1171.7 671,1175.2 671.8,1176.9 672,1177 672.5,1176.6 673.3,1174.9 676.8,1160 677.5,1157.7 678.3,1156.6 678.5,1156.5 679,1156.8 680,1158.8 682.8,1168.4 683.8,1171.2 684.3,1172.2 684.8,1172.7 685.3,1172.6 685.5,1172.3 686,1171.3 686.8,1168.9 690,1154.8 690.8,1152.9 691.3,1152.3 691.5,1152.2 692.3,1153.3 693,1156.1 696.5,1175.8 697.3,1178.3 697.8,1179.1 698,1179.2 698.8,1178.1 699.8,1174 703,1152.4 704,1147 705,1143.9 705.5,1143.5 705.8,1143.7 706.5,1145.7 707.5,1151.1 711.3,1179.7 712.3,1184.4 712.8,1185.5 713,1185.7 713.3,1185.6 713.8,1184.8 714.8,1181 715.8,1175 719.3,1149.8 720.3,1145.2 720.8,1144 721.3,1143.5 721.5,1143.6 722,1144.7 722.8,1147.8 726.3,1172.6 727,1176.6 727.8,1178.9 728.3,1179.2 728.8,1178.9 729.8,1177 731,1173.1 733.8,1162.7 734.5,1160.6 735.3,1159.1 736,1158.5 738.8,1157.2 740.5,1156.7 742.3,1156.5 742.8,1156.7 743.3,1157.4 744.5,1160.6 748,1174.8 749.3,1178.9 750.3,1180.9 751,1181.4 751.5,1180.8 752,1179.5 753,1174.7 756.3,1151.2 757.3,1145.1 758.3,1141.2 758.8,1140.4 759,1140.3 759.3,1140.5 760,1142.5 761,1148 765,1179.4 766,1183.7 766.5,1184.6 766.8,1184.6 767.5,1183.3 768.3,1180.4 772,1156.5 773,1151.9 773.8,1150.2 774,1150 774.5,1150.2 775.5,1152.2 776.5,1155.6 779.3,1166.9 780,1169.1 780.8,1170.3 781.5,1170.5 782.8,1169.6 784,1168.1 787.8,1162.2 789,1161.1 790,1160.8 791,1161.4 792,1162.8 796.5,1172.1 797.5,1173.4 798.5,1173.8 799,1173.4 799.5,1172.5 800.5,1169.4 803.8,1154 804.8,1149.9 805.8,1147.4 806.5,1146.8 807,1147.3 807.5,1148.6 808.5,1152.9 811.8,1174.5 813,1181.6 814,1185 814.5,1185.7 814.8,1185.7 815.5,1184.2 816.5,1179.1 819.8,1152.6 820.8,1145.9 821.8,1141.9 822,1141.5 822.5,1141.4 823.3,1141.9 823.8,1142.5 824.8,1144.4 826,1148.4 827,1152.9 829,1165.7 831,1183.5" fill="none" stroke="#4b5b97" stroke-width="4.6" stroke-linejoin="round" stroke-linecap="round"/>
<path d="M58.2,1209.5L60,1228.2 61.2,1238.9 62.5,1246.1 63.2,1248.1 63.7,1248.4 64.2,1248 64.7,1247 65.7,1243.7 69.2,1225.8 70.5,1220.4 71.5,1217.7 72.2,1217 73,1217.6 74,1219.8 78,1234.5 79,1236.9 79.7,1237.6 80.5,1237.3 81.2,1236.4 84.7,1229.3 85.5,1228.3 86.2,1227.8 88,1228.2 92,1230.5 93.7,1231 100,1230 160.4,1230.5 163.4,1230 169.9,1228.1 172.9,1227.8 174.2,1228.1 175.4,1228.8 181.2,1233.5 182.4,1234.1 183.7,1234.3 184.7,1233.9 185.7,1232.8 189.2,1227.3 190.4,1225.6 191.4,1224.8 192.2,1224.6 192.9,1224.7 193.7,1225.2 195.2,1226.7 199.9,1234 201.7,1236.2 202.9,1237.3 204.2,1237.6 205.2,1237 206.4,1235 210.4,1225.1 211.7,1222.4 212.9,1220.7 213.4,1220.4 213.9,1220.3 214.4,1220.6 214.9,1221.3 215.9,1223.6 219.4,1235.8 220.7,1239.5 221.7,1241.4 222.4,1241.9 222.9,1241.7 223.4,1241.1 224.7,1237.8 228.2,1223.6 229.4,1219.4 230.4,1217.4 231.2,1217 231.7,1217.4 232.2,1218.3 233.2,1221.5 236.4,1237 237.7,1242 238.7,1244.5 239.4,1245.1 239.9,1244.7 240.4,1243.7 241.4,1240.2 244.7,1222.9 245.7,1218.4 246.7,1215.6 247.2,1215 247.4,1214.9 247.9,1215.5 248.7,1218 252.2,1239.5 252.9,1242.6 253.7,1244 254.2,1243.8 254.7,1243.2 255.7,1240.6 256.9,1235.6 260.2,1220.8 261.4,1217.1 261.9,1216.3 262.4,1216 262.9,1216.3 263.4,1217.2 264.4,1220.4 268.4,1239.7 269.4,1242.4 269.9,1243 270.2,1243 270.9,1241.9 271.7,1239.3 275.2,1221.7 275.9,1219.7 276.4,1219.2 276.9,1219.4 277.4,1220 278.4,1222.4 282.4,1236.3 283.4,1238.2 284.2,1238.6 284.7,1238.3 285.4,1237 288.9,1226.8 289.7,1225.3 290.4,1224.6 291.2,1224.9 291.9,1225.8 295.4,1233.7 296.2,1234.8 296.9,1235.4 297.4,1235.3 298.2,1234.2 301.2,1226.2 301.9,1224.9 302.4,1224.6 303.2,1224.8 304.2,1225.7 307.9,1231.5 308.9,1232.7 309.7,1233.1 310.9,1233.1 312.4,1232.7 322.9,1227.6 324.9,1227 326.4,1226.8 327.4,1227.2 328.4,1228 332.9,1233.3 333.9,1234 334.9,1234.3 336.2,1234 337.4,1233.2 338.9,1231.7 343.7,1226.2 345.2,1225.1 346.7,1224.6 347.7,1224.9 348.7,1225.9 353.2,1233.5 354.4,1235 355.4,1235.4 356.9,1234.9 358.4,1233.6 363.4,1226.6 364.9,1224.8 366.2,1223.8 367.4,1223.5 368.4,1224.1 369.4,1225.7 372.9,1234.2 374.2,1236.9 375.2,1238.2 375.7,1238.5 376.2,1238.6 377.2,1237.8 378.4,1235.7 382.4,1225.1 383.7,1222.3 384.7,1220.8 385.7,1220.3 386.2,1220.5 386.7,1221.1 387.9,1223.7 392.4,1238.2 393.4,1240.1 393.9,1240.6 394.4,1240.8 394.9,1240.6 395.7,1239.7 396.9,1237.1 400.7,1225.3 401.9,1221.9 403.2,1219.7 403.7,1219.3 404.2,1219.2 404.9,1220 405.9,1222.6 409.9,1238.8 410.9,1241.3 411.7,1241.9 412.4,1241.4 413.4,1239.3 414.7,1235.2 418.2,1221.7 419.2,1219.2 419.7,1218.4 420.2,1218.1 420.7,1218.3 421.2,1219 422.2,1221.8 425.4,1236.1 426.4,1239.6 427.4,1241.7 427.9,1241.9 428.4,1241.5 429.2,1240 429.9,1237.4 433.7,1220.5 434.7,1217.8 435.4,1217 435.9,1217.2 436.4,1217.8 437.7,1221.1 441.2,1235.3 442.4,1239.5 443.4,1241.5 444.2,1241.9 444.9,1241.2 445.9,1238.8 449.4,1226 450.2,1223.9 450.9,1222.6 451.4,1222.3 451.9,1222.5 452.9,1223.9 453.9,1226.3 457.2,1236 458.2,1238 458.7,1238.5 459.2,1238.6 459.9,1237.7 460.7,1235.8 464.2,1222.7 464.9,1221.2 465.4,1220.8 465.9,1221 466.4,1221.5 467.7,1224.1 471.2,1235.5 472.4,1239 473.4,1240.7 473.9,1241.1 474.4,1241 475.2,1240 476.2,1237 479.7,1222.5 480.4,1220.6 481.2,1219.8 481.9,1220.3 482.7,1221.8 486.4,1235.6 487.2,1237.5 487.9,1238.5 488.7,1238.4 489.7,1236.9 492.9,1228.2 494.2,1226.1 494.9,1225.9 495.9,1226.5 496.9,1227.7 499.9,1232 500.9,1232.9 501.7,1233 502.2,1232.8 502.9,1232 505.7,1226.8 506.4,1225.8 507.2,1225.4 507.9,1225.7 508.7,1226.8 512.5,1236.9 513.5,1238.6 514.2,1239.1 515,1238.6 516,1236.7 520,1224 521,1222 521.7,1221.3 522.5,1221.7 523.5,1223.2 527.5,1234.2 528.5,1236 529.2,1236.6 530.5,1236.3 531.7,1235.5 536.2,1230.9 537.7,1229.7 541.2,1227.5 543.2,1226.9 544.2,1227.2 545.2,1228.3 548.5,1233.8 549.5,1235.2 550.5,1236 551.2,1236 552,1235.4 553,1233.9 556.7,1225.6 557.7,1224.2 558.5,1223.9 559.5,1224.3 560.7,1226.1 564.2,1233.8 565.5,1236.2 566.5,1237.3 567,1237.6 567.5,1237.6 568.5,1236.8 569.5,1235.2 574,1225 575,1223.7 575.5,1223.4 576,1223.4 577,1224.1 578,1225.8 581.5,1234.7 582.7,1237.4 583.7,1238.7 584.5,1239.1 585,1239 585.5,1238.5 586.7,1236.2 591.2,1223.6 592.2,1221.9 592.7,1221.4 593.2,1221.3 593.7,1221.6 594.2,1222.1 595.2,1224 599,1235 600,1237.5 601,1239.1 601.7,1239.6 602.2,1239.5 602.7,1239.1 603.7,1237.5 608,1225.7 609,1223.6 610,1222.5 610.5,1222.3 611,1222.5 612.2,1224 613.5,1226.5 616.7,1234.3 617.7,1236.1 618.5,1236.8 619,1237.1 619.5,1237 620.2,1236.2 621.2,1234.1 624,1227.1 624.7,1225.9 625.5,1225.4 626,1225.5 626.5,1225.9 627.5,1227.3 631.5,1235.7 632.5,1236.8 633.2,1237.1 634,1236.5 635,1234.7 639,1223.5 640,1221.8 640.7,1221.3 641.5,1221.9 642.2,1223.5 643.2,1226.7 646.5,1239.3 647.5,1241.6 648.2,1242.2 648.7,1241.9 649.2,1241.3 650.5,1238.3 654,1225 655.2,1221.1 656.2,1219.2 657,1218.8 657.5,1219.1 658,1219.8 659,1222.2 662.2,1234.4 663.5,1238.4 664.5,1240.3 665.2,1240.6 666,1240 666.7,1238.4 670.2,1227.1 671,1225.4 671.7,1224.5 672.5,1224.5 673.2,1225.3 674.2,1227 677,1232.6 677.7,1233.6 678.5,1234 679.2,1233.8 680.2,1232.7 683.7,1227.2 684.7,1226.5 685.5,1226.5 686.2,1227.3 687,1228.5 690,1234.7 690.7,1235.6 691.5,1236 692.2,1235.6 693,1234.4 696.5,1225.2 697.2,1223.9 698,1223.4 698.5,1223.5 699,1224.1 700,1226.2 704,1238.3 705,1239.9 705.7,1240.1 706.5,1239.3 707.5,1236.9 711.5,1222.7 712.5,1220.7 713.2,1220.3 713.7,1220.6 714.2,1221.3 715.2,1223.5 719.5,1237.6 720.5,1239.5 721.2,1240.1 722,1239.7 722.7,1238.3 726.5,1226 727.2,1224.3 728,1223.4 728.5,1223.4 729,1223.6 730,1224.6 733.7,1230.9 735.2,1232.7 736,1233.1 738.7,1233.7 742.5,1234 743.5,1233.5 744.5,1232.2 748,1225.6 749.2,1223.6 750.2,1222.6 751,1222.3 751.5,1222.5 752,1223.1 753,1225.2 756.2,1236.2 757.5,1239.7 758.5,1241.4 759.2,1241.6 760,1240.8 761,1238.3 765,1223.6 766,1221.4 766.7,1220.8 767.5,1221.3 768.2,1222.6 769.2,1225.1 772.2,1234.4 773.2,1236.4 774,1237.1 774.7,1236.9 775.7,1235.8 779.2,1229.3 780,1228.2 780.7,1227.6 781.5,1227.5 782.7,1227.8 788,1231.4 789.2,1231.9 790.2,1232 791.2,1231.6 792.2,1230.9 796.7,1226.6 797.7,1226 798.5,1225.9 799.5,1226.4 800.5,1227.8 803.7,1235 805,1237.3 806,1238.4 806.7,1238.6 807.7,1237.5 808.7,1235.3 812,1225.1 813,1222.4 814,1220.7 814.7,1220.3 815.2,1220.6 815.7,1221.3 816.7,1223.9 820.7,1238.7 821.7,1240.8 822.5,1241.1 823.7,1240.7 824.7,1239.8 826,1238 827,1235.9 829,1230 831,1221.3" fill="none" stroke="#aa9ca2" stroke-width="5.2" stroke-linejoin="round" stroke-linecap="round"/>
<path d="M58.2,1209.5L60,1228.2 61.2,1238.9 62.5,1246.1 63.2,1248.1 63.7,1248.4 64.2,1248 64.7,1247 65.7,1243.7 69.2,1225.8 70.5,1220.4 71.5,1217.7 72.2,1217 73,1217.6 74,1219.8 78,1234.5 79,1236.9 79.7,1237.6 80.5,1237.3 81.2,1236.4 84.7,1229.3 85.5,1228.3 86.2,1227.8 88,1228.2 92,1230.5 93.7,1231 100,1230 160.4,1230.5 163.4,1230 169.9,1228.1 172.9,1227.8 174.2,1228.1 175.4,1228.8 181.2,1233.5 182.4,1234.1 183.7,1234.3 184.7,1233.9 185.7,1232.8 189.2,1227.3 190.4,1225.6 191.4,1224.8 192.2,1224.6 192.9,1224.7 193.7,1225.2 195.2,1226.7 199.9,1234 201.7,1236.2 202.9,1237.3 204.2,1237.6 205.2,1237 206.4,1235 210.4,1225.1 211.7,1222.4 212.9,1220.7 213.4,1220.4 213.9,1220.3 214.4,1220.6 214.9,1221.3 215.9,1223.6 219.4,1235.8 220.7,1239.5 221.7,1241.4 222.4,1241.9 222.9,1241.7 223.4,1241.1 224.7,1237.8 228.2,1223.6 229.4,1219.4 230.4,1217.4 231.2,1217 231.7,1217.4 232.2,1218.3 233.2,1221.5 236.4,1237 237.7,1242 238.7,1244.5 239.4,1245.1 239.9,1244.7 240.4,1243.7 241.4,1240.2 244.7,1222.9 245.7,1218.4 246.7,1215.6 247.2,1215 247.4,1214.9 247.9,1215.5 248.7,1218 252.2,1239.5 252.9,1242.6 253.7,1244 254.2,1243.8 254.7,1243.2 255.7,1240.6 256.9,1235.6 260.2,1220.8 261.4,1217.1 261.9,1216.3 262.4,1216 262.9,1216.3 263.4,1217.2 264.4,1220.4 268.4,1239.7 269.4,1242.4 269.9,1243 270.2,1243 270.9,1241.9 271.7,1239.3 275.2,1221.7 275.9,1219.7 276.4,1219.2 276.9,1219.4 277.4,1220 278.4,1222.4 282.4,1236.3 283.4,1238.2 284.2,1238.6 284.7,1238.3 285.4,1237 288.9,1226.8 289.7,1225.3 290.4,1224.6 291.2,1224.9 291.9,1225.8 295.4,1233.7 296.2,1234.8 296.9,1235.4 297.4,1235.3 298.2,1234.2 301.2,1226.2 301.9,1224.9 302.4,1224.6 303.2,1224.8 304.2,1225.7 307.9,1231.5 308.9,1232.7 309.7,1233.1 310.9,1233.1 312.4,1232.7 322.9,1227.6 324.9,1227 326.4,1226.8 327.4,1227.2 328.4,1228 332.9,1233.3 333.9,1234 334.9,1234.3 336.2,1234 337.4,1233.2 338.9,1231.7 343.7,1226.2 345.2,1225.1 346.7,1224.6 347.7,1224.9 348.7,1225.9 353.2,1233.5 354.4,1235 355.4,1235.4 356.9,1234.9 358.4,1233.6 363.4,1226.6 364.9,1224.8 366.2,1223.8 367.4,1223.5 368.4,1224.1 369.4,1225.7 372.9,1234.2 374.2,1236.9 375.2,1238.2 375.7,1238.5 376.2,1238.6 377.2,1237.8 378.4,1235.7 382.4,1225.1 383.7,1222.3 384.7,1220.8 385.7,1220.3 386.2,1220.5 386.7,1221.1 387.9,1223.7 392.4,1238.2 393.4,1240.1 393.9,1240.6 394.4,1240.8 394.9,1240.6 395.7,1239.7 396.9,1237.1 400.7,1225.3 401.9,1221.9 403.2,1219.7 403.7,1219.3 404.2,1219.2 404.9,1220 405.9,1222.6 409.9,1238.8 410.9,1241.3 411.7,1241.9 412.4,1241.4 413.4,1239.3 414.7,1235.2 418.2,1221.7 419.2,1219.2 419.7,1218.4 420.2,1218.1 420.7,1218.3 421.2,1219 422.2,1221.8 425.4,1236.1 426.4,1239.6 427.4,1241.7 427.9,1241.9 428.4,1241.5 429.2,1240 429.9,1237.4 433.7,1220.5 434.7,1217.8 435.4,1217 435.9,1217.2 436.4,1217.8 437.7,1221.1 441.2,1235.3 442.4,1239.5 443.4,1241.5 444.2,1241.9 444.9,1241.2 445.9,1238.8 449.4,1226 450.2,1223.9 450.9,1222.6 451.4,1222.3 451.9,1222.5 452.9,1223.9 453.9,1226.3 457.2,1236 458.2,1238 458.7,1238.5 459.2,1238.6 459.9,1237.7 460.7,1235.8 464.2,1222.7 464.9,1221.2 465.4,1220.8 465.9,1221 466.4,1221.5 467.7,1224.1 471.2,1235.5 472.4,1239 473.4,1240.7 473.9,1241.1 474.4,1241 475.2,1240 476.2,1237 479.7,1222.5 480.4,1220.6 481.2,1219.8 481.9,1220.3 482.7,1221.8 486.4,1235.6 487.2,1237.5 487.9,1238.5 488.7,1238.4 489.7,1236.9 492.9,1228.2 494.2,1226.1 494.9,1225.9 495.9,1226.5 496.9,1227.7 499.9,1232 500.9,1232.9 501.7,1233 502.2,1232.8 502.9,1232 505.7,1226.8 506.4,1225.8 507.2,1225.4 507.9,1225.7 508.7,1226.8 512.5,1236.9 513.5,1238.6 514.2,1239.1 515,1238.6 516,1236.7 520,1224 521,1222 521.7,1221.3 522.5,1221.7 523.5,1223.2 527.5,1234.2 528.5,1236 529.2,1236.6 530.5,1236.3 531.7,1235.5 536.2,1230.9 537.7,1229.7 541.2,1227.5 543.2,1226.9 544.2,1227.2 545.2,1228.3 548.5,1233.8 549.5,1235.2 550.5,1236 551.2,1236 552,1235.4 553,1233.9 556.7,1225.6 557.7,1224.2 558.5,1223.9 559.5,1224.3 560.7,1226.1 564.2,1233.8 565.5,1236.2 566.5,1237.3 567,1237.6 567.5,1237.6 568.5,1236.8 569.5,1235.2 574,1225 575,1223.7 575.5,1223.4 576,1223.4 577,1224.1 578,1225.8 581.5,1234.7 582.7,1237.4 583.7,1238.7 584.5,1239.1 585,1239 585.5,1238.5 586.7,1236.2 591.2,1223.6 592.2,1221.9 592.7,1221.4 593.2,1221.3 593.7,1221.6 594.2,1222.1 595.2,1224 599,1235 600,1237.5 601,1239.1 601.7,1239.6 602.2,1239.5 602.7,1239.1 603.7,1237.5 608,1225.7 609,1223.6 610,1222.5 610.5,1222.3 611,1222.5 612.2,1224 613.5,1226.5 616.7,1234.3 617.7,1236.1 618.5,1236.8 619,1237.1 619.5,1237 620.2,1236.2 621.2,1234.1 624,1227.1 624.7,1225.9 625.5,1225.4 626,1225.5 626.5,1225.9 627.5,1227.3 631.5,1235.7 632.5,1236.8 633.2,1237.1 634,1236.5 635,1234.7 639,1223.5 640,1221.8 640.7,1221.3 641.5,1221.9 642.2,1223.5 643.2,1226.7 646.5,1239.3 647.5,1241.6 648.2,1242.2 648.7,1241.9 649.2,1241.3 650.5,1238.3 654,1225 655.2,1221.1 656.2,1219.2 657,1218.8 657.5,1219.1 658,1219.8 659,1222.2 662.2,1234.4 663.5,1238.4 664.5,1240.3 665.2,1240.6 666,1240 666.7,1238.4 670.2,1227.1 671,1225.4 671.7,1224.5 672.5,1224.5 673.2,1225.3 674.2,1227 677,1232.6 677.7,1233.6 678.5,1234 679.2,1233.8 680.2,1232.7 683.7,1227.2 684.7,1226.5 685.5,1226.5 686.2,1227.3 687,1228.5 690,1234.7 690.7,1235.6 691.5,1236 692.2,1235.6 693,1234.4 696.5,1225.2 697.2,1223.9 698,1223.4 698.5,1223.5 699,1224.1 700,1226.2 704,1238.3 705,1239.9 705.7,1240.1 706.5,1239.3 707.5,1236.9 711.5,1222.7 712.5,1220.7 713.2,1220.3 713.7,1220.6 714.2,1221.3 715.2,1223.5 719.5,1237.6 720.5,1239.5 721.2,1240.1 722,1239.7 722.7,1238.3 726.5,1226 727.2,1224.3 728,1223.4 728.5,1223.4 729,1223.6 730,1224.6 733.7,1230.9 735.2,1232.7 736,1233.1 738.7,1233.7 742.5,1234 743.5,1233.5 744.5,1232.2 748,1225.6 749.2,1223.6 750.2,1222.6 751,1222.3 751.5,1222.5 752,1223.1 753,1225.2 756.2,1236.2 757.5,1239.7 758.5,1241.4 759.2,1241.6 760,1240.8 761,1238.3 765,1223.6 766,1221.4 766.7,1220.8 767.5,1221.3 768.2,1222.6 769.2,1225.1 772.2,1234.4 773.2,1236.4 774,1237.1 774.7,1236.9 775.7,1235.8 779.2,1229.3 780,1228.2 780.7,1227.6 781.5,1227.5 782.7,1227.8 788,1231.4 789.2,1231.9 790.2,1232 791.2,1231.6 792.2,1230.9 796.7,1226.6 797.7,1226 798.5,1225.9 799.5,1226.4 800.5,1227.8 803.7,1235 805,1237.3 806,1238.4 806.7,1238.6 807.7,1237.5 808.7,1235.3 812,1225.1 813,1222.4 814,1220.7 814.7,1220.3 815.2,1220.6 815.7,1221.3 816.7,1223.9 820.7,1238.7 821.7,1240.8 822.5,1241.1 823.7,1240.7 824.7,1239.8 826,1238 827,1235.9 829,1230 831,1221.3" fill="none" stroke="#129e9b" stroke-width="3.4" stroke-linejoin="round" stroke-linecap="round"/>
</g>
<g clip-path="url(#cc)">
<path d="M928.2,8.6L929.6,9.2 931.2,10.3 937.2,14.9 942.9,19.9 948.7,25.4 954.4,32 965,45.7 969.6,51.2 981.8,64.8 985.7,68.7 989.1,71.9 992.8,74.8 1001.6,80.9 1006.4,84.1 1010.3,86.4 1014,88.2 1017.4,89.6 1020.7,90.5 1023.6,90.9 1026.2,90.9 1028.7,90.7 1034,89.6 1039.5,87.5 1045.5,84.5 1051.7,80.5 1058.4,75.5 1065.5,69.6 1085.5,52.4 1091.7,47.5 1097.2,43.6 1103.7,39.7 1109.7,36.9 1115.4,35.2 1120.7,34.5 1125.8,34.6 1131.3,35.4 1136.8,36.7 1142.8,38.7 1149,41.3 1155.9,44.6 1183,59.6 1189.2,62.7 1194.8,65.3 1201,67.7 1207,69.6 1212.7,70.8 1218,71.3 1223.1,71.3 1229.3,71 1235.5,70.4 1241.9,69.5 1255.9,66.9 1284.7,60.4 1296.9,57.9 1309.8,56 1315.7,55.5 1321.3,55.2 1331.2,55.3 1342.2,55.9 1353.9,57 1388.2,60.7 1398.8,61.4 1408.4,61.8 1419.2,61.6 1442.2,60.5 1452.4,60.2 1699.8,60.2" fill="none" stroke="#aa9ca2" stroke-width="4.0" stroke-linejoin="round" stroke-linecap="round"/>
<path d="M928.2,106.4L930.2,105.1 937.2,98.8 942.7,94.2 947.5,90.6 951.7,87.9 956.2,85.5 960.5,83.8 964.7,82.7 968.7,82.2 974.5,82.5 980.7,83.4 988.2,85.2 1004,89.9 1010.7,91.6 1018,92.9 1024.5,93.4 1030.5,93.1 1037.2,92.1 1045,90.3 1061.5,85.8 1068.7,84 1076.2,82.7 1083,82.2 1087.2,82.3 1091.7,82.8 1112.5,86.8 1117.5,87.4 1122,87.6 1127,87.4 1132.7,86.7 1155.7,82.9 1160.5,82.4 1165,82.2 1175.7,82.5 1202.5,84.2 1214.7,84.6 1224,84.4 1248.5,83.2 1292.2,82.7 1322,82.8 1414,83.6 1459,82.7 1700,82.7" fill="none" stroke="#57494f" stroke-width="3.0" stroke-linejoin="round" stroke-linecap="round"/>
<path d="M928.2,216.4L932.8,216.1 937.4,215.3 943.4,213.7 948.9,211.8 951.9,210.3 954.9,208.2 958.1,205.4 961.5,202 970.5,192 975.3,185.5 979.3,179.2 989.8,160.9 997.7,149 1008,132 1012.4,125.5 1016.1,121 1019.3,118 1020.9,116.9 1022.5,116.1 1023.9,115.6 1025.5,115.4 1027.8,115.5 1030.3,116 1032.8,116.8 1035.6,118 1038.1,119.4 1040.9,121.2 1046.6,125.9 1052.9,132.1 1059.5,139.8 1066.7,148.9 1086.7,175.5 1092.9,183 1098.4,189.1 1104.8,195.1 1107.8,197.4 1110.8,199.4 1113.8,201.1 1116.6,202.3 1119.3,203.1 1122.1,203.5 1127.1,203.4 1132.7,202.4 1138.4,200.7 1144.4,198.1 1150.6,194.9 1157.5,190.6 1164.6,185.8 1184.9,171.5 1191.1,167.5 1196.6,164.3 1203,161.1 1209,158.8 1214.8,157.3 1220.1,156.7 1225.1,156.7 1230.9,157.1 1236.9,158 1243.1,159.2 1249.5,160.8 1256.4,162.8 1284,171.8 1295.7,175.2 1302.2,176.7 1308.2,177.8 1313.9,178.6 1319.2,178.9 1328.9,178.8 1340.1,178.1 1352.1,176.7 1386.6,172.1 1397.4,171.1 1407.1,170.7 1419.9,170.8 1440.4,171.5 1464.6,173 1473.8,173.3 1699.8,173.3" fill="none" stroke="#129e9b" stroke-width="4.0" stroke-linejoin="round" stroke-linecap="round"/>
<path d="M928.2,216.4L933.7,216 939.5,215.1 947.2,213.1 951,211.6 953.5,210.1 956.5,207.9 968.2,197.8 984.5,185.9 987.7,183.8 990.7,182.4 993.5,181.5 996.2,181.2 999.2,181.3 1002.7,182 1006.7,183.2 1019,187.6 1023,188.5 1026.5,188.8 1030.2,188.6 1034.2,187.7 1038.2,186.5 1048,183 1053.2,181.6 1056,181.2 1058.5,181.1 1061.2,181.3 1064.2,181.7 1070.5,183.3 1077.5,186.1 1084,189.3 1100.2,197.9 1108.5,201.6 1112.7,203 1116.5,204 1120.2,204.7 1124,204.9 1128.7,204.7 1133.7,204.2 1138.7,203.3 1144.2,202.1 1150,200.5 1156.2,198.5 1181.7,189.2 1192.7,185.7 1198.7,184.1 1204.5,182.9 1209.7,182.2 1215,181.8 1223.7,181.9 1234.2,182.5 1245.5,183.5 1278.5,187.1 1289,187.9 1298.2,188.2 1318.5,187.9 1364.5,186.4 1385,186 1565,186.1 1700,186.4" fill="none" stroke="#9a9b45" stroke-width="3.0" stroke-linejoin="round" stroke-linecap="round"/>
<path d="M928.2,322.2L929.6,320.5 931.6,317M966.1,236.2L969.6,230.3 972.4,226.6 973.7,225.3 974.9,224.6 976,224.1 977.2,224 978.6,224.2 979.9,224.8 981.3,225.7 982.7,227 985.7,230.7 989.1,236.4M1013.3,290L1015.6,293.8 1017.7,296.7 1019.7,298.9 1021.8,300.5 1023.6,301.2 1025.7,301.4 1028,300.9 1030.5,299.8 1032.6,298.4 1034.9,296.5 1039.7,291.3 1044.6,285.1 1056.3,268.7 1059.5,264.7 1062.5,261.3 1065.7,258.4 1068.7,256.3 1071.5,255.1 1074.2,254.7 1076.5,254.8 1079.3,255.3 1082.1,256 1084.8,257.1 1091.3,260.2 1105.3,268.7 1111.5,272 1114.7,273.3 1117.9,274.3 1120.9,274.9 1123.7,275.2 1128.1,275 1132.9,274.4 1138.6,273.3 1156.4,269.2 1162.1,268.4 1167.2,268.1 1175.2,268.4 1193.4,270 1201.7,270.2 1419.9,270.1 1599.3,269.8 1611.8,269.6 1639.8,268.8 1652.2,268.7 1662.6,268.9 1673.6,269.4 1699.8,271.3" fill="none" stroke="#4b5b97" stroke-width="4.0" stroke-linejoin="round" stroke-linecap="round"/>
<path d="M931.6,317h0M932.8,314.9h0M933.9,312.7h0M935.1,310.4h0M936.2,308.1h0M937.4,305.7h0M938.5,303.3h0M939.7,300.9h0M940.8,298.4h0M942,295.9h0M943.1,293.3h0M944.3,290.7h0M945.4,288h0M946.6,285.3h0M947.7,282.4h0M948.9,279.4h0M950,276.2h0M951.2,272.8h0M952.3,269.4h0M953.5,266h0M954.6,262.5h0M955.8,259.2h0M956.9,255.9h0M958.1,252.8h0M959.2,250h0M960.4,247.3h0M961.5,244.9h0M962.7,242.7h0M963.8,240.5h0M965,238.3h0M966.1,236.2h0M989.1,236.4h0M990.3,238.6h0M991.4,240.9h0M992.6,243.3h0M993.7,245.8h0M994.9,248.4h0M996,251h0M997.2,253.7h0M998.3,256.5h0M999.5,259.3h0M1000.6,262h0M1001.8,264.8h0M1002.9,267.6h0M1004.1,270.4h0M1005.2,273.1h0M1006.4,275.8h0M1007.5,278.4h0M1008.7,280.9h0M1009.8,283.3h0M1011,285.7h0M1012.1,287.9h0M1013.3,290h0" fill="none" stroke="#4b5b97" stroke-width="2.7" stroke-linecap="round"/>
<path d="M928.2,321.8L930,318.9 935.7,306.3 940,297.9 943.7,291.6 947.7,286.2 957.5,274.5 961,270.7 964.2,267.7 967.5,265.2 970.5,263.4 973.5,262.2 976.2,261.7 978.7,261.9 981.5,262.7 984.2,264.2 987,266.2 990,268.9 993.5,272.6 1007,289 1010.2,292.6 1013,295.3 1016.2,298.1 1019.2,300 1022.2,301.1 1025,301.5 1027.5,301.3 1030.2,300.7 1033,299.7 1036,298.2 1039.2,296.1 1042.7,293.6 1057.2,281.8 1063.5,277.4 1067,275.4 1070.2,274 1073.2,273.2 1076.2,272.9 1080.5,273.1 1085.5,274.1 1091.2,275.8 1103.5,280.3 1109,282.1 1114.5,283.3 1119.7,283.8 1128.7,283.4 1152,280.6 1157.5,280.2 1162.7,280 1201.7,280.1 1301,280.9 1373,281 1622,280.5 1700,279.7" fill="none" stroke="#8c3553" stroke-width="3.0" stroke-linejoin="round" stroke-linecap="round"/>
<path d="M928.2,431.8L936.2,431.4 945.7,430.2 949.6,429.3 953.3,427.6 958.8,424.1 969.6,416 972.8,413.2 980.4,406 984.1,403 994.2,396.3 997.2,394.6 999.7,393.4 1003.2,392.5 1006.6,392.4 1011.2,392.7 1021.6,394.1 1026.4,394.3 1028.2,394.2 1029.9,393.8 1033.3,392.2 1035.8,390.5 1038.4,388.3 1041.1,385.4 1044.1,382 1049.6,374.7 1063,355.7 1066.7,351 1070.1,347.1 1073.6,343.7 1077,341.2 1080.2,339.7 1083.4,339 1085.5,339.1 1087.6,339.4 1089.9,340 1092.4,341 1097.7,343.7 1108.7,350.6 1113.3,353.2 1118.4,355.3 1120.7,355.8 1122.8,356.1 1125.1,356.1 1127.6,355.9 1132.9,354.6 1138,352.8 1150.4,347.5 1156.6,345.5 1159.6,345 1162.6,344.8 1165.3,344.9 1168.1,345.4 1171.1,346.3 1174.1,347.5 1177.3,349.1 1180.5,351.1 1187.6,356.1 1202.6,368.1 1209,372.8 1215.7,376.9 1218.7,378.4 1221.7,379.5 1226.3,380.6 1232.9,381.1 1238.7,381.1 1253.6,380.4 1258.2,380.6 1263.3,381.2 1268.8,382.2 1274.8,383.7 1295,389.7 1302.4,391.6 1309.8,393.1 1316.2,393.9 1323.1,393.9 1330.7,393.2 1337.8,391.9 1354.8,388.5 1363.4,387.2 1373.9,386.5 1401.1,385.3 1412.3,384.6 1422.5,383.4 1447.1,379.8 1454,379.1 1460.2,378.7 1512.4,378.7 1699.8,380" fill="none" stroke="#aa9ca2" stroke-width="4.0" stroke-linejoin="round" stroke-linecap="round"/>
<path d="M928.2,431.8L934.7,431.5 942,430.8 947.5,429.9 951,428.8 954,427.3 957.5,425.3 970.7,416.6 978,411.5 981.2,409.4 985.2,407.5 992.5,405.2 998.5,403.8 1003.5,403.2 1008.5,403.2 1023,403.7 1028,403.4 1030.7,402.8 1033.7,401.9 1047.2,396.8 1050.7,395.9 1054,395.6 1060.5,395.7 1075.7,397.3 1082.5,397.7 1087.5,397.4 1099,395.9 1104.2,395.5 1201.2,395.5 1206.7,395.9 1219.5,397.6 1225.2,398 1260.7,398.1 1269,398.4 1279.7,399.5 1306.7,403.1 1314.5,403.8 1321.5,404 1327,403.9 1333.2,403.4 1355.7,400.9 1365,400.1 1406.7,398.5 1442,397.7 1462.7,397.5 1593.7,397.5 1597.5,397.6 1604,398.3 1607.5,398.5 1700,398.5" fill="none" stroke="#57494f" stroke-width="3.0" stroke-linejoin="round" stroke-linecap="round"/>
<path d="M928.2,439.4L930,441.2 935.3,447.8 939.7,452.9 943.6,457.1 947.3,460.6 951.4,464.2 955.6,467.3 959.5,469.8 963.4,471.8 967.1,473.3 970.7,474.3 974.4,474.9 977.9,474.9 980.9,474.6 984.3,473.8 997,469.5 1002.5,468.1 1005.5,467.9 1008.5,468 1011.7,468.4 1014.9,469.3 1018.4,470.5 1022,472.3 1025.9,474.4 1030.1,477.1 1037.7,482.5 1056.1,496.9 1061.1,500.4 1065.7,503.3 1070.6,505.9 1074.9,507.7 1079.3,508.9 1083.4,509.5 1087.4,509.6 1092.6,509.3 1114,507 1123.5,506.5 1133.1,506.9 1150.6,508.9 1157.5,509.4 1164.2,509.6 1169.9,509.1 1177.3,507.6 1185.6,505.1 1194.1,501.9 1211.3,494.5 1218.7,491.6 1226.3,489 1233.2,487.2 1238.5,486.2 1243.5,485.8 1248.1,485.9 1261.5,486.6 1265.8,486.5 1270.4,486.1 1281,484.3 1306.3,478.7 1313.2,477.7 1319.4,477.2 1325.4,477.2 1332.1,477.8 1354.4,481.4 1362.7,482.3 1373.5,482.8 1405.4,483.4 1418.1,483.8 1429.8,484.8 1457.2,487.8 1471,488.6 1480.9,488.6 1499.5,487.6 1507.3,487.4 1517,487.5 1540.2,488.5 1550.8,488.7 1558.4,488.5 1575.9,487.6 1583.7,487.4 1699.8,487.4" fill="none" stroke="#129e9b" stroke-width="4.0" stroke-linejoin="round" stroke-linecap="round"/>
<path d="M928.2,539.8L930,538.8 939.5,531.8 946,527.7 958.2,521 962.5,519.2 966.2,518 973.5,516.9 979.7,516.5 985.7,516.9 1000.2,518.4 1007.5,518.5 1014.2,517.7 1029.5,515 1036,514.3 1040.5,514.4 1045.7,514.8 1065.7,517.5 1074.2,518.1 1161.5,518.2 1167.7,518.1 1174.2,517.7 1203,514.9 1209.7,514.5 1216,514.3 1236.7,514.5 1283.7,515.3 1303,515.4 1333.5,515.1 1402.5,513.9 1433.2,513.6 1700,513.6" fill="none" stroke="#9a9b45" stroke-width="3.0" stroke-linejoin="round" stroke-linecap="round"/>
<path d="M953.5,558.5L956.3,554 958.8,550.9 961.3,548.6 963.8,547.3 965,547.1 966.1,547.1 968,547.8 969.8,549.4 971.9,552.5M998.3,629.3L1000.2,632.4 1002,634.7 1003.6,635.8 1004.6,636.1 1005.5,636.2 1007.3,635.5 1009.2,634.1 1011.2,631.6 1013.3,628.3M1036.3,573.1L1038.8,568.9 1041.4,566 1042.5,565.2 1043.7,564.6 1044.8,564.4 1046.2,564.5 1047.6,565 1048.9,565.8 1051.7,568.5 1054.7,572.6 1058.1,578.4M1070.8,603.5L1073.1,607.5 1075.4,611 1077.5,613.6 1079.5,615.6 1081.4,616.9 1083.2,617.4 1085.1,617.5 1087.1,616.9 1089,616 1091,614.6 1093.1,612.9 1095.4,610.6 1099.5,605.7 1109.7,592.7 1114.7,587.2 1117.3,585.1 1119.6,583.7 1121.9,582.8 1124.2,582.5 1126.2,582.7 1128.5,583.3 1131.1,584.2 1133.6,585.6 1138.4,588.7 1149.5,597 1154.5,600.1 1156.8,601.2 1158.9,601.9 1160.7,602.3 1162.8,602.4 1166.7,602.2 1171.1,601.3 1176.1,599.8 1187.2,595.7 1192,594.2 1197.1,593 1201.7,592.6 1205.3,592.7 1209.5,593.1 1229.5,596.2 1234.3,596.7 1238.7,596.9 1247.7,596.7 1270.9,595.6 1281.5,595.4 1325.4,596 1699.8,595.7" fill="none" stroke="#4b5b97" stroke-width="4.0" stroke-linejoin="round" stroke-linecap="round"/>
<path d="M928.2,643.3h0M929.4,639.6h0M930.5,634.8h0M931.6,629.6h0M932.8,624.3h0M933.9,619.3h0M935.1,614.3h0M936.2,609.5h0M937.4,604.9h0M938.5,600.5h0M939.7,596.2h0M940.8,592.1h0M942,588.2h0M943.1,584.4h0M944.3,580.8h0M945.4,577.4h0M946.6,574.2h0M947.7,571.1h0M948.9,568.2h0M950,565.5h0M951.2,563h0M952.3,560.6h0M953.5,558.5h0M971.9,552.5h0M973,554.6h0M974.2,557.1h0M975.3,559.8h0M976.5,562.8h0M977.6,566h0M978.8,569.4h0M979.9,572.9h0M981.1,576.6h0M982.2,580.4h0M983.4,584.3h0M984.5,588.2h0M985.7,592.2h0M986.8,596.1h0M988,600h0M989.1,603.9h0M990.3,607.7h0M991.4,611.3h0M992.6,614.8h0M993.7,618.2h0M994.9,621.3h0M996,624.2h0M997.2,626.9h0M998.3,629.3h0M1013.3,628.3h0M1014.4,626.1h0M1015.6,623.8h0M1016.7,621.3h0M1017.9,618.7h0M1019,615.9h0M1020.2,613h0M1021.3,610h0M1022.5,607h0M1023.6,603.9h0M1024.8,600.8h0M1025.9,597.7h0M1027.1,594.7h0M1028.2,591.6h0M1029.4,588.6h0M1030.5,585.7h0M1031.7,582.9h0M1032.8,580.2h0M1034,577.6h0M1035.1,575.3h0M1036.3,573.1h0M1058.1,578.4h0M1059.3,580.6h0M1060.4,582.8h0M1061.6,585.1h0M1062.7,587.4h0M1063.9,589.8h0M1065,592.1h0M1066.2,594.5h0M1067.3,596.8h0M1068.5,599.1h0M1069.6,601.3h0M1070.8,603.5h0" fill="none" stroke="#4b5b97" stroke-width="2.7" stroke-linecap="round"/>
<path d="M928.2,644L929.7,640.3 935,622.9 939.2,610.2 943.5,599.3 947.7,590.1 950,585.9 952.2,582.3 954.5,579.2 956.5,576.9 958.7,574.8 961,573.2 963.2,572.2 965.2,571.8 967.5,572.1 969.7,573.4 972,575.8 974.2,579 976.7,583.6 979.5,589.4 990.5,616 995.2,626.1 997.7,630.3 1000.2,633.6 1001.5,634.7 1002.7,635.6 1003.7,636 1005,636.3 1007,635.9 1009,634.8 1011.2,632.8 1013.5,630 1016,626.3 1018.7,621.5 1030,599 1035,590.2 1037.7,586.4 1040.2,583.8 1042.7,582.1 1045,581.6 1047,581.8 1049,582.6 1051,583.9 1053.2,585.8 1055.7,588.5 1058.5,591.9 1069.5,607.4 1074.2,613.2 1076.7,615.7 1079.2,617.6 1081.7,618.7 1084,619.1 1086.2,618.8 1088.7,618.1 1091.2,616.8 1094,615 1099,610.7 1110.2,599.9 1113,597.5 1115.5,595.7 1117.7,594.4 1120,593.4 1122,592.9 1124,592.7 1128,593.1 1132.2,594.4 1137.2,596.6 1148.2,602.6 1153,604.9 1158,606.6 1160.2,607.1 1162.7,607.3 1166.5,607.1 1171,606.5 1176.2,605.4 1192,601.5 1197,600.7 1201.7,600.4 1211,600.8 1231,602.7 1239,603 1322.2,602.3 1700,602.3" fill="none" stroke="#8c3553" stroke-width="3.0" stroke-linejoin="round" stroke-linecap="round"/>
</g>
<g clip-path="url(#cd)">
<path d="M958.3,724.6L962.4,718 966.3,713.3 968.4,711.4 970.5,709.9 972.6,708.9 974.4,708.3 976,708.2 977.6,708.4 979,709 980.6,710.1 982,711.5 983.6,713.5 987,719.2M1011.2,776.4L1013.3,780.1 1015.3,783.1 1017.4,785.4 1019.2,786.8 1021.1,787.6 1023.2,787.6 1025.2,787.1 1027.5,785.8 1029.6,784.2 1031.7,782.1 1036.3,776.4 1040.6,769.9 1051.7,752.1 1054.9,747.5 1057.7,743.9 1060.6,740.7 1063.6,738.4 1066.4,737 1068.9,736.6 1071.5,736.8 1074.2,737.6 1077.2,738.8 1080.2,740.5 1085.9,744.6 1098.8,755.1 1102,757.4 1104.8,759.1 1107.3,760.4 1109.9,761.3 1112.2,761.8 1114.5,762 1119.3,761.8 1124.6,760.9 1131,759.3 1144.4,755.3 1150.3,753.7 1156.6,752.5 1162.1,752.1 1169.9,752.5 1189.9,755 1194.7,755.4 1199.3,755.5 1211.3,755.3 1241.7,754.3 1255.7,754.1 1323.1,754.8 1690.8,754.8" fill="none" stroke="#aa9ca2" stroke-width="4.0" stroke-linejoin="round" stroke-linecap="round"/>
<path d="M930.7,804.9h0M931.9,801.9h0M933,797.9h0M934.1,793.6h0M935.3,789.2h0M936.4,784.9h0M937.6,780.7h0M938.7,776.6h0M939.9,772.7h0M941,768.8h0M942.2,765h0M943.3,761.4h0M944.5,757.9h0M945.6,754.5h0M946.8,751.2h0M947.9,748h0M949.1,744.9h0M950.2,741.9h0M951.4,739.1h0M952.5,736.4h0M953.7,733.8h0M954.8,731.3h0M956,728.9h0M957.1,726.7h0M958.3,724.6h0M987,719.2h0M988.2,721.4h0M989.3,723.8h0M990.5,726.3h0M991.6,728.9h0M992.8,731.6h0M993.9,734.5h0M995.1,737.3h0M996.2,740.3h0M997.4,743.2h0M998.5,746.2h0M999.7,749.3h0M1000.8,752.3h0M1002,755.2h0M1003.1,758.2h0M1004.3,761.1h0M1005.4,763.9h0M1006.6,766.6h0M1007.7,769.3h0M1008.9,771.8h0M1010,774.2h0M1011.2,776.4h0" fill="none" stroke="#aa9ca2" stroke-width="2.7" stroke-linecap="round"/>
<path d="M930.7,806.1L932.5,803.5 939,791.2 944.5,781.8 949.7,774.1 955,767.5 957.7,764.6 960.5,762 963.2,759.8 966,757.9 968.7,756.4 971.2,755.4 974,754.7 976.5,754.4 979,754.5 981.5,755.2 984,756.4 986.7,758.2 989.5,760.5 992.7,763.7 1005.5,778.1 1011,783.6 1014,785.9 1016.7,787.6 1019.5,788.6 1022,788.9 1024.2,788.7 1026.7,788.1 1029.2,787.1 1032,785.6 1034.7,783.7 1038,781.1 1051.5,768.9 1057.2,764.3 1060.2,762.5 1063.2,761 1066,760.2 1068.7,759.9 1073.2,760.1 1078.5,761.2 1084.5,763.1 1097.5,768.1 1103.2,770 1109.2,771.4 1114.5,771.9 1119.2,771.7 1124.7,771.3 1150.5,767.5 1156.7,766.9 1162.2,766.7 1171.5,766.9 1191.7,767.9 1200,768 1483.2,767.9 1692,767.5" fill="none" stroke="#57494f" stroke-width="3.0" stroke-linejoin="round" stroke-linecap="round"/>
<path d="M958.3,831.3L962.4,824.7 966.3,819.9 968.4,818 970.5,816.5 972.6,815.5 974.4,814.9 976,814.8 977.6,815 979,815.6 980.6,816.7 982,818.1 983.6,820.1 987,825.7M1011.2,882.7L1013.3,886.3 1015.3,889.3 1017.4,891.6 1019.2,893 1021.1,893.8 1023.2,893.8 1025.2,893.3 1027.5,892 1029.6,890.4 1031.7,888.3 1036.3,882.6 1040.6,876.1 1051.7,858.3 1054.9,853.7 1057.7,850.1 1060.6,846.9 1063.6,844.6 1066.4,843.2 1068.9,842.8 1071.5,843 1074.2,843.8 1077.2,845.1 1080.2,846.9 1085.9,851.2 1098.8,862.1 1102,864.5 1104.8,866.3 1107.3,867.6 1109.9,868.6 1112.2,869.1 1114.5,869.3 1119.1,869 1124.1,868 1130.1,866.2 1143.2,861.2 1148.7,859.4 1154.7,858 1160,857.5 1163.9,857.7 1168.5,858.1 1187.4,861.1 1195,861.6 1690.8,861.5" fill="none" stroke="#129e9b" stroke-width="4.0" stroke-linejoin="round" stroke-linecap="round"/>
<path d="M930.7,912.2h0M931.9,909.2h0M933,905.2h0M934.1,900.8h0M935.3,896.4h0M936.4,892.1h0M937.6,887.9h0M938.7,883.8h0M939.9,879.8h0M941,875.9h0M942.2,872.1h0M943.3,868.5h0M944.5,864.9h0M945.6,861.5h0M946.8,858.1h0M947.9,854.9h0M949.1,851.8h0M950.2,848.8h0M951.4,846h0M952.5,843.2h0M953.7,840.6h0M954.8,838.1h0M956,835.7h0M957.1,833.5h0M958.3,831.3h0M987,825.7h0M988.2,827.9h0M989.3,830.3h0M990.5,832.8h0M991.6,835.4h0M992.8,838.1h0M993.9,840.9h0M995.1,843.8h0M996.2,846.7h0M997.4,849.7h0M998.5,852.7h0M999.7,855.7h0M1000.8,858.6h0M1002,861.6h0M1003.1,864.5h0M1004.3,867.4h0M1005.4,870.2h0M1006.6,872.9h0M1007.7,875.6h0M1008.9,878.1h0M1010,880.5h0M1011.2,882.7h0" fill="none" stroke="#129e9b" stroke-width="2.7" stroke-linecap="round"/>
<path d="M930.7,913.4L932.5,910.8 939,898.3 944.5,888.9 949.7,881.1 955,874.4 957.7,871.4 960.5,868.8 963.2,866.6 966,864.7 968.7,863.2 971.2,862.2 974,861.4 976.5,861.1 979,861.2 981.5,861.9 984,863 986.7,864.8 989.5,867.1 992.7,870.3 1005.5,884.5 1011,889.9 1014,892.2 1016.7,893.8 1019.5,894.8 1022,895.1 1024.2,894.9 1026.7,894.3 1029.2,893.3 1032,891.8 1034.7,890 1038,887.5 1051.5,875.6 1057.2,871.1 1060.2,869.3 1063.2,867.9 1066,867.1 1068.7,866.8 1073.2,867.1 1078.5,868.2 1084.5,870.1 1097.5,875.3 1103.2,877.3 1109.2,878.7 1114.5,879.2 1118.7,879 1123.2,878.5 1128.7,877.5 1145.2,874.1 1150.7,873.4 1155.5,873.1 1164,873.4 1183,874.8 1190.7,875 1692,874.7" fill="none" stroke="#9a9b45" stroke-width="3.0" stroke-linejoin="round" stroke-linecap="round"/>
<path d="M957.1,988.1L960.6,994 964,999.2 967.5,1003.7 970.9,1007.5 974.4,1010.6 977.6,1012.8 981.1,1014.4 984.3,1015.3 987,1015.4 989.3,1014.8 991.6,1013.6 994.2,1011.6 996.7,1008.9 999.5,1005.2 1002.2,1001 1005.4,995.5M1023.8,959.6L1027.3,953.7 1030.5,948.9 1033.5,945.2 1036.3,942.5 1039,940.7 1041.6,939.9 1044.3,939.9 1047.3,940.7 1050.1,942 1052.8,943.9 1055.8,946.3 1059,949.5 1065,956.2 1079.3,973.9 1083,978 1086.4,981.4 1089.9,984.2 1093.3,986.3 1096.5,987.6 1099.7,988 1102.5,987.9 1105.5,987.3 1108.5,986.4 1111.7,985.2 1115.2,983.5 1119.1,981.3 1134.5,971.5 1141.4,967.7 1145.3,965.9 1148.7,964.8 1152,964 1155.2,963.7 1160.7,964 1167.1,964.8 1174.5,966.4 1189.7,970.4 1196.3,971.9 1203.5,973.1 1209.7,973.5 1217.3,973.2 1236.4,971.4 1245.1,971 1501.1,971.1 1690.8,971.4" fill="none" stroke="#4b5b97" stroke-width="4.0" stroke-linejoin="round" stroke-linecap="round"/>
<path d="M930.7,923.4h0M931.9,925.7h0M933,928.8h0M934.1,932.2h0M935.3,935.6h0M936.4,939h0M937.6,942.3h0M938.7,945.6h0M939.9,948.8h0M941,951.9h0M942.2,954.9h0M943.3,957.9h0M944.5,960.8h0M945.6,963.7h0M946.8,966.4h0M947.9,969.1h0M949.1,971.8h0M950.2,974.3h0M951.4,976.8h0M952.5,979.2h0M953.7,981.6h0M954.8,983.8h0M956,986h0M957.1,988.1h0M1005.4,995.5h0M1006.6,993.4h0M1007.7,991.2h0M1008.9,989h0M1010,986.7h0M1011.2,984.4h0M1012.3,982.1h0M1013.5,979.8h0M1014.6,977.5h0M1015.8,975.2h0M1016.9,972.9h0M1018.1,970.6h0M1019.2,968.3h0M1020.4,966h0M1021.5,963.8h0M1022.7,961.7h0M1023.8,959.6h0" fill="none" stroke="#4b5b97" stroke-width="2.7" stroke-linecap="round"/>
<path d="M930.7,1018.5L932.2,1016.6 935.7,1010.8 938.2,1007 940.7,1003.8 943,1001.3 945.5,999 948,997.4 950.5,996.3 953,995.9 954.5,996 955.7,996.4 958.5,998 961.7,1001.1 968.5,1009.1 971.5,1012.2 973.2,1013.7 974.7,1014.6 976.2,1015.1 977.5,1015.3 978.7,1015.2 980.2,1014.6 981.7,1013.7 983.5,1012.3 986.5,1009.2 993.2,1001.2 996.5,998.1 999.2,996.4 1000.5,996 1001.7,995.9 1004.2,996.2 1007,997.2 1015.7,1002.3 1018.5,1003.6 1021,1004.4 1023.2,1004.7 1026,1004.3 1029,1003.3 1038.2,998.2 1041.2,996.8 1044,996 1046.5,995.8 1051.2,996.2 1062.2,998.2 1066.7,998.6 1072.2,998.1 1085,996 1091,995.7 1436.7,995.8 1692,996.3" fill="none" stroke="#8c3553" stroke-width="3.0" stroke-linejoin="round" stroke-linecap="round"/>
<path d="M930.7,1028.1L931.9,1029.7M942.2,1050.1L947.5,1059.1 952.5,1066.6 957.6,1073.1 962.7,1078.5 967.7,1082.8 972.6,1085.7 975.1,1086.9 977.6,1087.7 980.1,1088.2 982.4,1088.4 985.2,1088.2 988,1087.2 991,1085.4 993.9,1083 997.2,1079.7 1000.8,1075.3 1015.3,1055.4 1018.8,1051.1 1021.8,1047.7 1025.2,1044.4 1028.4,1042.1 1031.4,1040.7 1034.4,1040.2 1037,1040.4 1039.7,1041 1042.5,1042.1 1045.5,1043.7 1048.7,1045.8 1052.4,1048.6 1066.9,1061.1 1073.1,1065.8 1076.5,1067.9 1079.7,1069.4 1082.7,1070.3 1085.7,1070.6 1091,1070.3 1096.8,1069 1103.7,1066.7 1118.1,1060.7 1124.4,1058.4 1131,1056.7 1134,1056.3 1137,1056.1 1141.4,1056.3 1146.4,1056.8 1169.9,1060.9 1175.6,1061.6 1180.7,1061.8 1191.1,1061.6 1217.5,1060.3 1229.7,1060 1690.8,1060.2" fill="none" stroke="#aa9ca2" stroke-width="4.0" stroke-linejoin="round" stroke-linecap="round"/>
<path d="M931.9,1029.7h0M933,1031.9h0M934.1,1034.3h0M935.3,1036.7h0M936.4,1039.1h0M937.6,1041.4h0M938.7,1043.6h0M939.9,1045.8h0M941,1048h0M942.2,1050.1h0" fill="none" stroke="#aa9ca2" stroke-width="2.7" stroke-linecap="round"/>
<path d="M930.7,1093.2L932.2,1094.2 939.5,1100.5 945.5,1105.2 951.5,1109.3 957.5,1112.6 963.7,1115.4 970,1117.5 976.2,1118.8 982.2,1119.3 985.2,1119.2 988,1118.7 991,1117.9 994,1116.8 1000.7,1113.3 1015.5,1104.1 1021.7,1100.7 1025.2,1099.2 1028.5,1098.1 1031.5,1097.5 1034.5,1097.2 1039.7,1097.6 1045.5,1098.7 1052.2,1100.6 1066.7,1105.7 1073,1107.7 1079.7,1109.2 1085.7,1109.7 1090.7,1109.5 1096.5,1108.9 1103,1107.7 1122.7,1103.7 1129,1102.9 1134.7,1102.6 1143.5,1103 1162.2,1104.9 1170,1105.2 1692,1104.9" fill="none" stroke="#57494f" stroke-width="3.0" stroke-linejoin="round" stroke-linecap="round"/>
<path d="M930.7,1136.6L931.9,1138.1 933,1140.2M939.9,1153.7L945.4,1163.2 950.9,1171.5 956.5,1178.6 962,1184.5 964.7,1186.9 967.5,1189.1 970.3,1190.9 972.8,1192.3 975.5,1193.5 978.3,1194.4 981.1,1195 983.6,1195.2 986.4,1195 989.1,1194 992.1,1192.3 995.1,1189.8 998.3,1186.5 1002,1182 1016.5,1162.1 1019.9,1157.7 1022.9,1154.3 1026.4,1151 1029.6,1148.7 1032.6,1147.3 1035.6,1146.8 1038.1,1147 1040.6,1147.6 1043.4,1148.7 1046.4,1150.3 1049.6,1152.4 1053.1,1155.1 1067.1,1167.4 1073.3,1172.2 1076.5,1174.2 1079.7,1175.7 1082.7,1176.7 1085.7,1177 1090.8,1176.7 1096.3,1175.5 1102.7,1173.4 1116.8,1167.7 1122.7,1165.6 1129,1164 1134.7,1163.4 1138.8,1163.5 1143.4,1164 1166,1167.6 1171.3,1168.2 1176.3,1168.4 1190.8,1168.2 1227.6,1166.9 1244.6,1166.6 1501.8,1166.8 1690.8,1167.5" fill="none" stroke="#129e9b" stroke-width="4.0" stroke-linejoin="round" stroke-linecap="round"/>
<path d="M933,1140.2h0M934.1,1142.5h0M935.3,1144.9h0M936.4,1147.1h0M937.6,1149.4h0M938.7,1151.5h0M939.9,1153.7h0" fill="none" stroke="#129e9b" stroke-width="2.7" stroke-linecap="round"/>
<path d="M930.7,1199.4L932.2,1200.4 939.5,1206.8 945.5,1211.5 951.5,1215.5 957.5,1218.9 963.7,1221.7 970,1223.7 976.2,1225 982.2,1225.5 985.2,1225.3 988,1224.9 991,1224.1 994,1222.9 1000.7,1219.3 1015.5,1209.8 1021.7,1206.2 1025.2,1204.7 1028.5,1203.5 1031.5,1202.9 1034.5,1202.6 1039.5,1203 1045.2,1204.1 1052,1206.3 1066,1211.7 1072.2,1213.8 1078.7,1215.3 1081.7,1215.7 1084.7,1215.9 1089.7,1215.7 1095.5,1215.1 1102,1214.2 1122.5,1210.5 1129,1209.8 1134.7,1209.5 1143.5,1209.8 1166,1212 1176.5,1212.5 1472.7,1212.4 1692,1211.8" fill="none" stroke="#9a9b45" stroke-width="3.0" stroke-linejoin="round" stroke-linecap="round"/>
<path d="M930.7,1278.3L932.3,1276.8 939.4,1268.1 945.6,1261.4 951.9,1255.7 957.8,1251 964.3,1247 970.5,1244.2 973.7,1243.1 976.9,1242.3 980.1,1241.8 983.1,1241.6 986.1,1241.7 988.9,1242.2 991.9,1243.3 994.9,1244.8 998.1,1246.8 1001.8,1249.5 1016.5,1262.1 1022.9,1266.9 1026.4,1268.9 1029.6,1270.4 1032.6,1271.2 1035.6,1271.5 1038.1,1271.4 1040.6,1271.1 1043.4,1270.4 1046.4,1269.4 1053.1,1266.4 1067.1,1258.9 1073.3,1255.9 1076.5,1254.7 1079.7,1253.7 1082.7,1253.2 1085.7,1252.9 1090.3,1253.2 1095.4,1254 1101.1,1255.4 1114,1259.2 1119.5,1260.6 1125.3,1261.6 1130.6,1262 1135.9,1261.9 1142.1,1261.5 1171.3,1258.2 1178.4,1257.7 1184.8,1257.5 1195.9,1257.7 1227.4,1258.6 1306.1,1259 1485.7,1259.5 1690.8,1259.7" fill="none" stroke="#4b5b97" stroke-width="4.0" stroke-linejoin="round" stroke-linecap="round"/>
<path d="M930.7,1300.2L943,1297.1 948.5,1295.8 954.5,1295 960,1294.7 1007,1294.8 1013.2,1295.4 1028,1297.7 1035,1298.1 1044.5,1297.6 1065.2,1295.5 1074.2,1295.1 1429.7,1295.2 1692,1295.8" fill="none" stroke="#8c3553" stroke-width="3.0" stroke-linejoin="round" stroke-linecap="round"/>
</g>
<rect x="58.4" y="3.5" width="772" height="322.7" fill="none" stroke="#3a3a3a" stroke-width="1.7"/>
<rect x="58.4" y="326.2" width="772" height="323" fill="none" stroke="#3a3a3a" stroke-width="1.7"/>
<path d="M58.4 319.2h7M830.4 319.2h-7M58.4 304.2h3.5M830.4 304.2h-3.5M58.4 289.2h3.5M830.4 289.2h-3.5M58.4 274.2h3.5M830.4 274.2h-3.5M58.4 259.3h7M830.4 259.3h-7M58.4 244.3h3.5M830.4 244.3h-3.5M58.4 229.3h3.5M830.4 229.3h-3.5M58.4 214.3h3.5M830.4 214.3h-3.5M58.4 199.3h7M830.4 199.3h-7M58.4 184.3h3.5M830.4 184.3h-3.5M58.4 169.3h3.5M830.4 169.3h-3.5M58.4 154.4h3.5M830.4 154.4h-3.5M58.4 139.4h7M830.4 139.4h-7M58.4 124.4h3.5M830.4 124.4h-3.5M58.4 109.4h3.5M830.4 109.4h-3.5M58.4 94.4h3.5M830.4 94.4h-3.5M58.4 79.4h7M830.4 79.4h-7M58.4 64.5h3.5M830.4 64.5h-3.5M58.4 49.5h3.5M830.4 49.5h-3.5M58.4 34.5h3.5M830.4 34.5h-3.5M58.4 19.5h7M830.4 19.5h-7M58.4 4.5h3.5M830.4 4.5h-3.5" fill="none" stroke="#3a3a3a" stroke-width="1.7"/>
<path d="M58.4 642.2h7M830.4 642.2h-7M58.4 627.2h3.5M830.4 627.2h-3.5M58.4 612.2h3.5M830.4 612.2h-3.5M58.4 597.2h3.5M830.4 597.2h-3.5M58.4 582.2h7M830.4 582.2h-7M58.4 567.2h3.5M830.4 567.2h-3.5M58.4 552.2h3.5M830.4 552.2h-3.5M58.4 537.2h3.5M830.4 537.2h-3.5M58.4 522.2h7M830.4 522.2h-7M58.4 507.2h3.5M830.4 507.2h-3.5M58.4 492.2h3.5M830.4 492.2h-3.5M58.4 477.2h3.5M830.4 477.2h-3.5M58.4 462.2h7M830.4 462.2h-7M58.4 447.2h3.5M830.4 447.2h-3.5M58.4 432.2h3.5M830.4 432.2h-3.5M58.4 417.2h3.5M830.4 417.2h-3.5M58.4 402.2h7M830.4 402.2h-7M58.4 387.2h3.5M830.4 387.2h-3.5M58.4 372.2h3.5M830.4 372.2h-3.5M58.4 357.2h3.5M830.4 357.2h-3.5M58.4 342.2h7M830.4 342.2h-7M58.4 327.2h3.5M830.4 327.2h-3.5" fill="none" stroke="#3a3a3a" stroke-width="1.7"/>
<path d="M74 3.5v5.5M100.5 3.5v3.2M127.1 3.5v3.2M153.7 3.5v3.2M180.2 3.5v3.2M206.8 3.5v5.5M233.3 3.5v3.2M259.9 3.5v3.2M286.4 3.5v3.2M313 3.5v3.2M339.5 3.5v5.5M366.1 3.5v3.2M392.6 3.5v3.2M419.2 3.5v3.2M445.7 3.5v3.2M472.2 3.5v5.5M498.8 3.5v3.2M525.4 3.5v3.2M551.9 3.5v3.2M578.5 3.5v3.2M605 3.5v5.5M631.6 3.5v3.2M658.1 3.5v3.2M684.6 3.5v3.2M711.2 3.5v3.2M737.8 3.5v5.5M764.3 3.5v3.2M790.9 3.5v3.2M817.4 3.5v3.2" fill="none" stroke="#3a3a3a" stroke-width="1.7"/>
<path d="M74 320.7v11M100.5 323v6.4M127.1 323v6.4M153.7 323v6.4M180.2 323v6.4M206.8 320.7v11M233.3 323v6.4M259.9 323v6.4M286.4 323v6.4M313 323v6.4M339.5 320.7v11M366.1 323v6.4M392.6 323v6.4M419.2 323v6.4M445.7 323v6.4M472.2 320.7v11M498.8 323v6.4M525.4 323v6.4M551.9 323v6.4M578.5 323v6.4M605 320.7v11M631.6 323v6.4M658.1 323v6.4M684.6 323v6.4M711.2 323v6.4M737.8 320.7v11M764.3 323v6.4M790.9 323v6.4M817.4 323v6.4" fill="none" stroke="#3a3a3a" stroke-width="1.7"/>
<path d="M74 643.7v5.5M100.5 646v3.2M127.1 646v3.2M153.7 646v3.2M180.2 646v3.2M206.8 643.7v5.5M233.3 646v3.2M259.9 646v3.2M286.4 646v3.2M313 646v3.2M339.5 643.7v5.5M366.1 646v3.2M392.6 646v3.2M419.2 646v3.2M445.7 646v3.2M472.2 643.7v5.5M498.8 646v3.2M525.4 646v3.2M551.9 646v3.2M578.5 646v3.2M605 643.7v5.5M631.6 646v3.2M658.1 646v3.2M684.6 646v3.2M711.2 646v3.2M737.8 643.7v5.5M764.3 646v3.2M790.9 646v3.2M817.4 646v3.2" fill="none" stroke="#3a3a3a" stroke-width="1.7"/>
<rect x="56.5" y="707.1" width="778.2" height="316.9" fill="none" stroke="#3a3a3a" stroke-width="1.7"/>
<rect x="56.5" y="1024" width="778.2" height="317" fill="none" stroke="#3a3a3a" stroke-width="1.7"/>
<path d="M56.5 1016.8h7M834.7 1016.8h-7M56.5 1002.1h3.5M834.7 1002.1h-3.5M56.5 987.4h3.5M834.7 987.4h-3.5M56.5 972.7h3.5M834.7 972.7h-3.5M56.5 958h7M834.7 958h-7M56.5 943.2h3.5M834.7 943.2h-3.5M56.5 928.5h3.5M834.7 928.5h-3.5M56.5 913.8h3.5M834.7 913.8h-3.5M56.5 899.1h7M834.7 899.1h-7M56.5 884.4h3.5M834.7 884.4h-3.5M56.5 869.7h3.5M834.7 869.7h-3.5M56.5 855h3.5M834.7 855h-3.5M56.5 840.3h7M834.7 840.3h-7M56.5 825.6h3.5M834.7 825.6h-3.5M56.5 810.9h3.5M834.7 810.9h-3.5M56.5 796.1h3.5M834.7 796.1h-3.5M56.5 781.4h7M834.7 781.4h-7M56.5 766.7h3.5M834.7 766.7h-3.5M56.5 752h3.5M834.7 752h-3.5M56.5 737.3h3.5M834.7 737.3h-3.5M56.5 722.6h7M834.7 722.6h-7" fill="none" stroke="#3a3a3a" stroke-width="1.7"/>
<path d="M56.5 1320.8h3.5M834.7 1320.8h-3.5M56.5 1301h3.5M834.7 1301h-3.5M56.5 1281.2h3.5M834.7 1281.2h-3.5M56.5 1261.5h7M834.7 1261.5h-7M56.5 1241.8h3.5M834.7 1241.8h-3.5M56.5 1222h3.5M834.7 1222h-3.5M56.5 1202.2h3.5M834.7 1202.2h-3.5M56.5 1182.5h7M834.7 1182.5h-7M56.5 1162.8h3.5M834.7 1162.8h-3.5M56.5 1143h3.5M834.7 1143h-3.5M56.5 1123.2h3.5M834.7 1123.2h-3.5M56.5 1103.5h7M834.7 1103.5h-7M56.5 1083.8h3.5M834.7 1083.8h-3.5M56.5 1064h3.5M834.7 1064h-3.5M56.5 1044.2h3.5M834.7 1044.2h-3.5" fill="none" stroke="#3a3a3a" stroke-width="1.7"/>
<path d="M72.6 707.1v5.5M99.2 707.1v3.2M125.9 707.1v3.2M152.5 707.1v3.2M179.2 707.1v3.2M205.8 707.1v5.5M232.5 707.1v3.2M259.1 707.1v3.2M285.8 707.1v3.2M312.4 707.1v3.2M339.1 707.1v5.5M365.8 707.1v3.2M392.4 707.1v3.2M419 707.1v3.2M445.7 707.1v3.2M472.4 707.1v5.5M499 707.1v3.2M525.6 707.1v3.2M552.3 707.1v3.2M578.9 707.1v3.2M605.6 707.1v5.5M632.2 707.1v3.2M658.9 707.1v3.2M685.5 707.1v3.2M712.2 707.1v3.2M738.9 707.1v5.5M765.5 707.1v3.2M792.1 707.1v3.2M818.8 707.1v3.2" fill="none" stroke="#3a3a3a" stroke-width="1.7"/>
<path d="M72.6 1018.5v5.5M99.2 1020.8v3.2M125.9 1020.8v3.2M152.5 1020.8v3.2M179.2 1020.8v3.2M205.8 1018.5v5.5M232.5 1020.8v3.2M259.1 1020.8v3.2M285.8 1020.8v3.2M312.4 1020.8v3.2M339.1 1018.5v5.5M365.8 1020.8v3.2M392.4 1020.8v3.2M419 1020.8v3.2M445.7 1020.8v3.2M472.4 1018.5v5.5M499 1020.8v3.2M525.6 1020.8v3.2M552.3 1020.8v3.2M578.9 1020.8v3.2M605.6 1018.5v5.5M632.2 1020.8v3.2M658.9 1020.8v3.2M685.5 1020.8v3.2M712.2 1020.8v3.2M738.9 1018.5v5.5M765.5 1020.8v3.2M792.1 1020.8v3.2M818.8 1020.8v3.2" fill="none" stroke="#3a3a3a" stroke-width="1.7"/>
<path d="M84.5 1024v3.5M112.3 1024v3.5M140.1 1024v3.5M167.9 1024v3.5M195.7 1024v6M223.5 1024v3.5M251.3 1024v3.5M279.1 1024v3.5M306.9 1024v3.5M334.7 1024v6M362.5 1024v3.5M390.3 1024v3.5M418.1 1024v3.5M445.9 1024v3.5M473.7 1024v6M501.5 1024v3.5M529.3 1024v3.5M557.1 1024v3.5M584.9 1024v3.5M612.7 1024v6M640.5 1024v3.5M668.3 1024v3.5M696.1 1024v3.5M723.9 1024v3.5M751.7 1024v6M779.5 1024v3.5M807.3 1024v3.5" fill="none" stroke="#3a3a3a" stroke-width="1.7"/>
<path d="M84.5 1337.5v3.5M112.3 1337.5v3.5M140.1 1337.5v3.5M167.9 1337.5v3.5M195.7 1335v6M223.5 1337.5v3.5M251.3 1337.5v3.5M279.1 1337.5v3.5M306.9 1337.5v3.5M334.7 1335v6M362.5 1337.5v3.5M390.3 1337.5v3.5M418.1 1337.5v3.5M445.9 1337.5v3.5M473.7 1335v6M501.5 1337.5v3.5M529.3 1337.5v3.5M557.1 1337.5v3.5M584.9 1337.5v3.5M612.7 1335v6M640.5 1337.5v3.5M668.3 1337.5v3.5M696.1 1337.5v3.5M723.9 1337.5v3.5M751.7 1335v6M779.5 1337.5v3.5M807.3 1337.5v3.5" fill="none" stroke="#3a3a3a" stroke-width="1.7"/>
<rect x="928" y="3.8" width="773.5" height="645.5" fill="none" stroke="#3a3a3a" stroke-width="1.7"/>
<path d="M928 108.2h7M1701.5 108.2h-7M928 103.2h4M1701.5 103.2h-4M928 98.2h4M1701.5 98.2h-4M928 93.2h4M1701.5 93.2h-4M928 88.2h7M1701.5 88.2h-7M928 83.3h4M1701.5 83.3h-4M928 78.3h4M1701.5 78.3h-4M928 73.3h4M1701.5 73.3h-4M928 68.3h7M1701.5 68.3h-7M928 63.3h4M1701.5 63.3h-4M928 58.3h4M1701.5 58.3h-4M928 53.3h4M1701.5 53.3h-4M928 48.3h7M1701.5 48.3h-7M928 43.4h4M1701.5 43.4h-4M928 38.4h4M1701.5 38.4h-4M928 33.4h4M1701.5 33.4h-4M928 28.4h7M1701.5 28.4h-7M928 23.4h4M1701.5 23.4h-4M928 18.4h4M1701.5 18.4h-4M928 13.4h4M1701.5 13.4h-4M928 8.5h7M1701.5 8.5h-7" fill="none" stroke="#3a3a3a" stroke-width="1.7"/>
<line x1="928" y1="110.5" x2="1701.5" y2="110.5" stroke="#3a3a3a" stroke-width="1.6"/>
<path d="M928 216.3h7M1701.5 216.3h-7M928 209.5h4M1701.5 209.5h-4M928 202.7h4M1701.5 202.7h-4M928 195.9h4M1701.5 195.9h-4M928 189.2h7M1701.5 189.2h-7M928 182.4h4M1701.5 182.4h-4M928 175.6h4M1701.5 175.6h-4M928 168.8h4M1701.5 168.8h-4M928 162h7M1701.5 162h-7M928 155.2h4M1701.5 155.2h-4M928 148.5h4M1701.5 148.5h-4M928 141.7h4M1701.5 141.7h-4M928 134.9h7M1701.5 134.9h-7M928 128.1h4M1701.5 128.1h-4M928 121.3h4M1701.5 121.3h-4M928 114.5h4M1701.5 114.5h-4" fill="none" stroke="#3a3a3a" stroke-width="1.7"/>
<line x1="928" y1="218.3" x2="1701.5" y2="218.3" stroke="#3a3a3a" stroke-width="1.6"/>
<path d="M928 323.4h7M1701.5 323.4h-7M928 317h4M1701.5 317h-4M928 310.6h4M1701.5 310.6h-4M928 304.3h4M1701.5 304.3h-4M928 297.9h7M1701.5 297.9h-7M928 291.5h4M1701.5 291.5h-4M928 285.1h4M1701.5 285.1h-4M928 278.8h4M1701.5 278.8h-4M928 272.4h7M1701.5 272.4h-7M928 266h4M1701.5 266h-4M928 259.6h4M1701.5 259.6h-4M928 253.3h4M1701.5 253.3h-4M928 246.9h7M1701.5 246.9h-7M928 240.5h4M1701.5 240.5h-4M928 234.1h4M1701.5 234.1h-4M928 227.8h4M1701.5 227.8h-4M928 221.4h7M1701.5 221.4h-7" fill="none" stroke="#3a3a3a" stroke-width="1.7"/>
<line x1="928" y1="326.2" x2="1701.5" y2="326.2" stroke="#3a3a3a" stroke-width="1.6"/>
<path d="M928 432.3h7M1701.5 432.3h-7M928 425.1h4M1701.5 425.1h-4M928 417.8h4M1701.5 417.8h-4M928 410.6h4M1701.5 410.6h-4M928 403.3h7M1701.5 403.3h-7M928 396.1h4M1701.5 396.1h-4M928 388.8h4M1701.5 388.8h-4M928 381.6h4M1701.5 381.6h-4M928 374.3h7M1701.5 374.3h-7M928 367.1h4M1701.5 367.1h-4M928 359.8h4M1701.5 359.8h-4M928 352.6h4M1701.5 352.6h-4M928 345.3h7M1701.5 345.3h-7M928 338.1h4M1701.5 338.1h-4M928 330.8h4M1701.5 330.8h-4" fill="none" stroke="#3a3a3a" stroke-width="1.7"/>
<line x1="928" y1="434.3" x2="1701.5" y2="434.3" stroke="#3a3a3a" stroke-width="1.6"/>
<path d="M928 539.5h7M1701.5 539.5h-7M928 534.5h4M1701.5 534.5h-4M928 529.5h4M1701.5 529.5h-4M928 524.5h4M1701.5 524.5h-4M928 519.5h7M1701.5 519.5h-7M928 514.5h4M1701.5 514.5h-4M928 509.5h4M1701.5 509.5h-4M928 504.5h4M1701.5 504.5h-4M928 499.5h7M1701.5 499.5h-7M928 494.5h4M1701.5 494.5h-4M928 489.5h4M1701.5 489.5h-4M928 484.5h4M1701.5 484.5h-4M928 479.5h7M1701.5 479.5h-7M928 474.5h4M1701.5 474.5h-4M928 469.5h4M1701.5 469.5h-4M928 464.5h4M1701.5 464.5h-4M928 459.5h7M1701.5 459.5h-7M928 454.5h4M1701.5 454.5h-4M928 449.5h4M1701.5 449.5h-4M928 444.5h4M1701.5 444.5h-4M928 439.5h7M1701.5 439.5h-7" fill="none" stroke="#3a3a3a" stroke-width="1.7"/>
<line x1="928" y1="542" x2="1701.5" y2="542" stroke="#3a3a3a" stroke-width="1.6"/>
<path d="M928 647.7h7M1701.5 647.7h-7M928 643.7h4M1701.5 643.7h-4M928 639.7h4M1701.5 639.7h-4M928 635.7h4M1701.5 635.7h-4M928 631.7h4M1701.5 631.7h-4M928 627.7h5.5M1701.5 627.7h-5.5M928 623.7h4M1701.5 623.7h-4M928 619.7h4M1701.5 619.7h-4M928 615.7h4M1701.5 615.7h-4M928 611.7h4M1701.5 611.7h-4M928 607.7h7M1701.5 607.7h-7M928 603.7h4M1701.5 603.7h-4M928 599.7h4M1701.5 599.7h-4M928 595.7h4M1701.5 595.7h-4M928 591.7h4M1701.5 591.7h-4M928 587.7h5.5M1701.5 587.7h-5.5M928 583.7h4M1701.5 583.7h-4M928 579.7h4M1701.5 579.7h-4M928 575.7h4M1701.5 575.7h-4M928 571.7h4M1701.5 571.7h-4M928 567.7h7M1701.5 567.7h-7M928 563.7h4M1701.5 563.7h-4M928 559.7h4M1701.5 559.7h-4M928 555.7h4M1701.5 555.7h-4M928 551.7h4M1701.5 551.7h-4M928 547.7h5.5M1701.5 547.7h-5.5M928 543.7h4M1701.5 543.7h-4" fill="none" stroke="#3a3a3a" stroke-width="1.7"/>
<path d="M966.7 3.8v3.8M1005.4 3.8v3.8M1044 3.8v3.8M1082.7 3.8v3.8M1121.4 3.8v6.5M1160 3.8v3.8M1198.7 3.8v3.8M1237.4 3.8v3.8M1276.1 3.8v3.8M1314.8 3.8v6.5M1353.4 3.8v3.8M1392.1 3.8v3.8M1430.8 3.8v3.8M1469.5 3.8v3.8M1508.1 3.8v6.5M1546.8 3.8v3.8M1585.5 3.8v3.8M1624.2 3.8v3.8M1662.8 3.8v3.8" fill="none" stroke="#3a3a3a" stroke-width="1.7"/>
<path d="M966.7 106.7v7.6M1005.4 106.7v7.6M1044 106.7v7.6M1082.7 106.7v7.6M1121.4 104v13M1160 106.7v7.6M1198.7 106.7v7.6M1237.4 106.7v7.6M1276.1 106.7v7.6M1314.8 104v13M1353.4 106.7v7.6M1392.1 106.7v7.6M1430.8 106.7v7.6M1469.5 106.7v7.6M1508.1 104v13M1546.8 106.7v7.6M1585.5 106.7v7.6M1624.2 106.7v7.6M1662.8 106.7v7.6" fill="none" stroke="#3a3a3a" stroke-width="1.7"/>
<path d="M966.7 214.5v7.6M1005.4 214.5v7.6M1044 214.5v7.6M1082.7 214.5v7.6M1121.4 211.8v13M1160 214.5v7.6M1198.7 214.5v7.6M1237.4 214.5v7.6M1276.1 214.5v7.6M1314.8 211.8v13M1353.4 214.5v7.6M1392.1 214.5v7.6M1430.8 214.5v7.6M1469.5 214.5v7.6M1508.1 211.8v13M1546.8 214.5v7.6M1585.5 214.5v7.6M1624.2 214.5v7.6M1662.8 214.5v7.6" fill="none" stroke="#3a3a3a" stroke-width="1.7"/>
<path d="M966.7 322.4v7.6M1005.4 322.4v7.6M1044 322.4v7.6M1082.7 322.4v7.6M1121.4 319.7v13M1160 322.4v7.6M1198.7 322.4v7.6M1237.4 322.4v7.6M1276.1 322.4v7.6M1314.8 319.7v13M1353.4 322.4v7.6M1392.1 322.4v7.6M1430.8 322.4v7.6M1469.5 322.4v7.6M1508.1 319.7v13M1546.8 322.4v7.6M1585.5 322.4v7.6M1624.2 322.4v7.6M1662.8 322.4v7.6" fill="none" stroke="#3a3a3a" stroke-width="1.7"/>
<path d="M966.7 430.5v7.6M1005.4 430.5v7.6M1044 430.5v7.6M1082.7 430.5v7.6M1121.4 427.8v13M1160 430.5v7.6M1198.7 430.5v7.6M1237.4 430.5v7.6M1276.1 430.5v7.6M1314.8 427.8v13M1353.4 430.5v7.6M1392.1 430.5v7.6M1430.8 430.5v7.6M1469.5 430.5v7.6M1508.1 427.8v13M1546.8 430.5v7.6M1585.5 430.5v7.6M1624.2 430.5v7.6M1662.8 430.5v7.6" fill="none" stroke="#3a3a3a" stroke-width="1.7"/>
<path d="M966.7 538.2v7.6M1005.4 538.2v7.6M1044 538.2v7.6M1082.7 538.2v7.6M1121.4 535.5v13M1160 538.2v7.6M1198.7 538.2v7.6M1237.4 538.2v7.6M1276.1 538.2v7.6M1314.8 535.5v13M1353.4 538.2v7.6M1392.1 538.2v7.6M1430.8 538.2v7.6M1469.5 538.2v7.6M1508.1 535.5v13M1546.8 538.2v7.6M1585.5 538.2v7.6M1624.2 538.2v7.6M1662.8 538.2v7.6" fill="none" stroke="#3a3a3a" stroke-width="1.7"/>
<path d="M966.7 645.5v3.8M1005.4 645.5v3.8M1044 645.5v3.8M1082.7 645.5v3.8M1121.4 642.8v6.5M1160 645.5v3.8M1198.7 645.5v3.8M1237.4 645.5v3.8M1276.1 645.5v3.8M1314.8 642.8v6.5M1353.4 645.5v3.8M1392.1 645.5v3.8M1430.8 645.5v3.8M1469.5 645.5v3.8M1508.1 642.8v6.5M1546.8 645.5v3.8M1585.5 645.5v3.8M1624.2 645.5v3.8M1662.8 645.5v3.8" fill="none" stroke="#3a3a3a" stroke-width="1.7"/>
<rect x="929.8" y="703.6" width="764.2" height="639.6" fill="none" stroke="#3a3a3a" stroke-width="1.7"/>
<path d="M929.8 808.3h7M1694 808.3h-7M929.8 802.9h4M1694 802.9h-4M929.8 797.5h4M1694 797.5h-4M929.8 792.1h4M1694 792.1h-4M929.8 786.7h7M1694 786.7h-7M929.8 781.3h4M1694 781.3h-4M929.8 775.9h4M1694 775.9h-4M929.8 770.5h4M1694 770.5h-4M929.8 765.1h7M1694 765.1h-7M929.8 759.7h4M1694 759.7h-4M929.8 754.3h4M1694 754.3h-4M929.8 748.9h4M1694 748.9h-4M929.8 743.5h7M1694 743.5h-7M929.8 738.1h4M1694 738.1h-4M929.8 732.7h4M1694 732.7h-4M929.8 727.3h4M1694 727.3h-4M929.8 721.9h7M1694 721.9h-7M929.8 716.5h4M1694 716.5h-4M929.8 711.1h4M1694 711.1h-4M929.8 705.7h4M1694 705.7h-4" fill="none" stroke="#3a3a3a" stroke-width="1.7"/>
<line x1="929.8" y1="809.3" x2="1694" y2="809.3" stroke="#3a3a3a" stroke-width="1.6"/>
<path d="M929.8 914.3h7M1694 914.3h-7M929.8 909h4M1694 909h-4M929.8 903.8h4M1694 903.8h-4M929.8 898.5h4M1694 898.5h-4M929.8 893.3h7M1694 893.3h-7M929.8 888h4M1694 888h-4M929.8 882.8h4M1694 882.8h-4M929.8 877.5h4M1694 877.5h-4M929.8 872.3h7M1694 872.3h-7M929.8 867h4M1694 867h-4M929.8 861.8h4M1694 861.8h-4M929.8 856.5h4M1694 856.5h-4M929.8 851.3h7M1694 851.3h-7M929.8 846h4M1694 846h-4M929.8 840.8h4M1694 840.8h-4M929.8 835.5h4M1694 835.5h-4M929.8 830.3h7M1694 830.3h-7M929.8 825h4M1694 825h-4M929.8 819.8h4M1694 819.8h-4M929.8 814.5h4M1694 814.5h-4" fill="none" stroke="#3a3a3a" stroke-width="1.7"/>
<line x1="929.8" y1="916.8" x2="1694" y2="916.8" stroke="#3a3a3a" stroke-width="1.6"/>
<path d="M929.8 1017.3h4M1694 1017.3h-4M929.8 1012.3h4M1694 1012.3h-4M929.8 1007.3h4M1694 1007.3h-4M929.8 1002.3h7M1694 1002.3h-7M929.8 997.3h4M1694 997.3h-4M929.8 992.3h4M1694 992.3h-4M929.8 987.3h4M1694 987.3h-4M929.8 982.3h7M1694 982.3h-7M929.8 977.3h4M1694 977.3h-4M929.8 972.3h4M1694 972.3h-4M929.8 967.3h4M1694 967.3h-4M929.8 962.3h7M1694 962.3h-7M929.8 957.3h4M1694 957.3h-4M929.8 952.3h4M1694 952.3h-4M929.8 947.3h4M1694 947.3h-4M929.8 942.3h7M1694 942.3h-7M929.8 937.3h4M1694 937.3h-4M929.8 932.3h4M1694 932.3h-4M929.8 927.3h4M1694 927.3h-4M929.8 922.3h7M1694 922.3h-7" fill="none" stroke="#3a3a3a" stroke-width="1.7"/>
<line x1="929.8" y1="1022.9" x2="1694" y2="1022.9" stroke="#3a3a3a" stroke-width="1.6"/>
<path d="M929.8 1128.7h4M1694 1128.7h-4M929.8 1125.8h4M1694 1125.8h-4M929.8 1123h4M1694 1123h-4M929.8 1120.1h7M1694 1120.1h-7M929.8 1117.2h4M1694 1117.2h-4M929.8 1114.3h4M1694 1114.3h-4M929.8 1111.5h4M1694 1111.5h-4M929.8 1108.6h4M1694 1108.6h-4M929.8 1105.7h7M1694 1105.7h-7M929.8 1102.8h4M1694 1102.8h-4M929.8 1100h4M1694 1100h-4M929.8 1097.1h4M1694 1097.1h-4M929.8 1094.2h4M1694 1094.2h-4M929.8 1091.3h7M1694 1091.3h-7M929.8 1088.5h4M1694 1088.5h-4M929.8 1085.6h4M1694 1085.6h-4M929.8 1082.7h4M1694 1082.7h-4M929.8 1079.8h4M1694 1079.8h-4M929.8 1077h7M1694 1077h-7M929.8 1074.1h4M1694 1074.1h-4M929.8 1071.2h4M1694 1071.2h-4M929.8 1068.3h4M1694 1068.3h-4M929.8 1065.5h4M1694 1065.5h-4M929.8 1062.6h7M1694 1062.6h-7M929.8 1059.7h4M1694 1059.7h-4M929.8 1056.8h4M1694 1056.8h-4M929.8 1054h4M1694 1054h-4M929.8 1051.1h4M1694 1051.1h-4M929.8 1048.2h7M1694 1048.2h-7M929.8 1045.3h4M1694 1045.3h-4M929.8 1042.5h4M1694 1042.5h-4M929.8 1039.6h4M1694 1039.6h-4M929.8 1036.7h4M1694 1036.7h-4M929.8 1033.8h7M1694 1033.8h-7M929.8 1031h4M1694 1031h-4M929.8 1028.1h4M1694 1028.1h-4M929.8 1025.2h4M1694 1025.2h-4" fill="none" stroke="#3a3a3a" stroke-width="1.7"/>
<line x1="929.8" y1="1130.5" x2="1694" y2="1130.5" stroke="#3a3a3a" stroke-width="1.6"/>
<path d="M929.8 1234.7h4M1694 1234.7h-4M929.8 1231.8h4M1694 1231.8h-4M929.8 1228.8h4M1694 1228.8h-4M929.8 1225.9h7M1694 1225.9h-7M929.8 1223h4M1694 1223h-4M929.8 1220h4M1694 1220h-4M929.8 1217.1h4M1694 1217.1h-4M929.8 1214.1h4M1694 1214.1h-4M929.8 1211.2h7M1694 1211.2h-7M929.8 1208.3h4M1694 1208.3h-4M929.8 1205.3h4M1694 1205.3h-4M929.8 1202.4h4M1694 1202.4h-4M929.8 1199.4h4M1694 1199.4h-4M929.8 1196.5h7M1694 1196.5h-7M929.8 1193.6h4M1694 1193.6h-4M929.8 1190.6h4M1694 1190.6h-4M929.8 1187.7h4M1694 1187.7h-4M929.8 1184.7h4M1694 1184.7h-4M929.8 1181.8h7M1694 1181.8h-7M929.8 1178.9h4M1694 1178.9h-4M929.8 1175.9h4M1694 1175.9h-4M929.8 1173h4M1694 1173h-4M929.8 1170h4M1694 1170h-4M929.8 1167.1h7M1694 1167.1h-7M929.8 1164.2h4M1694 1164.2h-4M929.8 1161.2h4M1694 1161.2h-4M929.8 1158.3h4M1694 1158.3h-4M929.8 1155.3h4M1694 1155.3h-4M929.8 1152.4h7M1694 1152.4h-7M929.8 1149.5h4M1694 1149.5h-4M929.8 1146.5h4M1694 1146.5h-4M929.8 1143.6h4M1694 1143.6h-4M929.8 1140.6h4M1694 1140.6h-4M929.8 1137.7h7M1694 1137.7h-7M929.8 1134.8h4M1694 1134.8h-4M929.8 1131.8h4M1694 1131.8h-4" fill="none" stroke="#3a3a3a" stroke-width="1.7"/>
<line x1="929.8" y1="1237" x2="1694" y2="1237" stroke="#3a3a3a" stroke-width="1.6"/>
<path d="M929.8 1341.8h7M1694 1341.8h-7M929.8 1337.2h4M1694 1337.2h-4M929.8 1332.5h4M1694 1332.5h-4M929.8 1327.9h4M1694 1327.9h-4M929.8 1323.3h7M1694 1323.3h-7M929.8 1318.7h4M1694 1318.7h-4M929.8 1314h4M1694 1314h-4M929.8 1309.4h4M1694 1309.4h-4M929.8 1304.8h7M1694 1304.8h-7M929.8 1300.2h4M1694 1300.2h-4M929.8 1295.5h4M1694 1295.5h-4M929.8 1290.9h4M1694 1290.9h-4M929.8 1286.3h7M1694 1286.3h-7M929.8 1281.7h4M1694 1281.7h-4M929.8 1277h4M1694 1277h-4M929.8 1272.4h4M1694 1272.4h-4M929.8 1267.8h7M1694 1267.8h-7M929.8 1263.2h4M1694 1263.2h-4M929.8 1258.5h4M1694 1258.5h-4M929.8 1253.9h4M1694 1253.9h-4M929.8 1249.3h7M1694 1249.3h-7M929.8 1244.7h4M1694 1244.7h-4M929.8 1240h4M1694 1240h-4" fill="none" stroke="#3a3a3a" stroke-width="1.7"/>
<path d="M968 703.6v3.8M1006.2 703.6v3.8M1044.4 703.6v3.8M1082.6 703.6v3.8M1120.8 703.6v6.5M1159.1 703.6v3.8M1197.3 703.6v3.8M1235.5 703.6v3.8M1273.7 703.6v3.8M1311.9 703.6v6.5M1350.1 703.6v3.8M1388.3 703.6v3.8M1426.5 703.6v3.8M1464.7 703.6v3.8M1502.9 703.6v6.5M1541.2 703.6v3.8M1579.4 703.6v3.8M1617.6 703.6v3.8M1655.8 703.6v3.8" fill="none" stroke="#3a3a3a" stroke-width="1.7"/>
<path d="M968 805.5v7.6M1006.2 805.5v7.6M1044.4 805.5v7.6M1082.6 805.5v7.6M1120.8 802.8v13M1159.1 805.5v7.6M1197.3 805.5v7.6M1235.5 805.5v7.6M1273.7 805.5v7.6M1311.9 802.8v13M1350.1 805.5v7.6M1388.3 805.5v7.6M1426.5 805.5v7.6M1464.7 805.5v7.6M1502.9 802.8v13M1541.2 805.5v7.6M1579.4 805.5v7.6M1617.6 805.5v7.6M1655.8 805.5v7.6" fill="none" stroke="#3a3a3a" stroke-width="1.7"/>
<path d="M968 913v7.6M1006.2 913v7.6M1044.4 913v7.6M1082.6 913v7.6M1120.8 910.3v13M1159.1 913v7.6M1197.3 913v7.6M1235.5 913v7.6M1273.7 913v7.6M1311.9 910.3v13M1350.1 913v7.6M1388.3 913v7.6M1426.5 913v7.6M1464.7 913v7.6M1502.9 910.3v13M1541.2 913v7.6M1579.4 913v7.6M1617.6 913v7.6M1655.8 913v7.6" fill="none" stroke="#3a3a3a" stroke-width="1.7"/>
<path d="M968 1019.1v7.6M1006.2 1019.1v7.6M1044.4 1019.1v7.6M1082.6 1019.1v7.6M1120.8 1016.4v13M1159.1 1019.1v7.6M1197.3 1019.1v7.6M1235.5 1019.1v7.6M1273.7 1019.1v7.6M1311.9 1016.4v13M1350.1 1019.1v7.6M1388.3 1019.1v7.6M1426.5 1019.1v7.6M1464.7 1019.1v7.6M1502.9 1016.4v13M1541.2 1019.1v7.6M1579.4 1019.1v7.6M1617.6 1019.1v7.6M1655.8 1019.1v7.6" fill="none" stroke="#3a3a3a" stroke-width="1.7"/>
<path d="M968 1126.7v7.6M1006.2 1126.7v7.6M1044.4 1126.7v7.6M1082.6 1126.7v7.6M1120.8 1124v13M1159.1 1126.7v7.6M1197.3 1126.7v7.6M1235.5 1126.7v7.6M1273.7 1126.7v7.6M1311.9 1124v13M1350.1 1126.7v7.6M1388.3 1126.7v7.6M1426.5 1126.7v7.6M1464.7 1126.7v7.6M1502.9 1124v13M1541.2 1126.7v7.6M1579.4 1126.7v7.6M1617.6 1126.7v7.6M1655.8 1126.7v7.6" fill="none" stroke="#3a3a3a" stroke-width="1.7"/>
<path d="M968 1233.2v7.6M1006.2 1233.2v7.6M1044.4 1233.2v7.6M1082.6 1233.2v7.6M1120.8 1230.5v13M1159.1 1233.2v7.6M1197.3 1233.2v7.6M1235.5 1233.2v7.6M1273.7 1233.2v7.6M1311.9 1230.5v13M1350.1 1233.2v7.6M1388.3 1233.2v7.6M1426.5 1233.2v7.6M1464.7 1233.2v7.6M1502.9 1230.5v13M1541.2 1233.2v7.6M1579.4 1233.2v7.6M1617.6 1233.2v7.6M1655.8 1233.2v7.6" fill="none" stroke="#3a3a3a" stroke-width="1.7"/>
<path d="M968 1339.4v3.8M1006.2 1339.4v3.8M1044.4 1339.4v3.8M1082.6 1339.4v3.8M1120.8 1336.7v6.5M1159.1 1339.4v3.8M1197.3 1339.4v3.8M1235.5 1339.4v3.8M1273.7 1339.4v3.8M1311.9 1336.7v6.5M1350.1 1339.4v3.8M1388.3 1339.4v3.8M1426.5 1339.4v3.8M1464.7 1339.4v3.8M1502.9 1336.7v6.5M1541.2 1339.4v3.8M1579.4 1339.4v3.8M1617.6 1339.4v3.8M1655.8 1339.4v3.8" fill="none" stroke="#3a3a3a" stroke-width="1.7"/>
<text x="43.4" y="329.8" font-size="30" text-anchor="end" font-family="'Liberation Sans', Arial, sans-serif" fill="#111">0.0</text>
<text x="43.4" y="652.9" font-size="30" text-anchor="end" font-family="'Liberation Sans', Arial, sans-serif" fill="#111">0.0</text>
<text x="43.4" y="1027.5" font-size="30" text-anchor="end" font-family="'Liberation Sans', Arial, sans-serif" fill="#111">0.0</text>
<text x="43.4" y="269.9" font-size="30" text-anchor="end" font-family="'Liberation Sans', Arial, sans-serif" fill="#111">0.2</text>
<text x="43.4" y="592.9" font-size="30" text-anchor="end" font-family="'Liberation Sans', Arial, sans-serif" fill="#111">0.2</text>
<text x="43.4" y="968.6" font-size="30" text-anchor="end" font-family="'Liberation Sans', Arial, sans-serif" fill="#111">0.2</text>
<text x="43.4" y="210" font-size="30" text-anchor="end" font-family="'Liberation Sans', Arial, sans-serif" fill="#111">0.4</text>
<text x="43.4" y="532.9" font-size="30" text-anchor="end" font-family="'Liberation Sans', Arial, sans-serif" fill="#111">0.4</text>
<text x="43.4" y="909.8" font-size="30" text-anchor="end" font-family="'Liberation Sans', Arial, sans-serif" fill="#111">0.4</text>
<text x="43.4" y="150" font-size="30" text-anchor="end" font-family="'Liberation Sans', Arial, sans-serif" fill="#111">0.6</text>
<text x="43.4" y="472.9" font-size="30" text-anchor="end" font-family="'Liberation Sans', Arial, sans-serif" fill="#111">0.6</text>
<text x="43.4" y="850.9" font-size="30" text-anchor="end" font-family="'Liberation Sans', Arial, sans-serif" fill="#111">0.6</text>
<text x="43.4" y="90.1" font-size="30" text-anchor="end" font-family="'Liberation Sans', Arial, sans-serif" fill="#111">0.8</text>
<text x="43.4" y="412.9" font-size="30" text-anchor="end" font-family="'Liberation Sans', Arial, sans-serif" fill="#111">0.8</text>
<text x="43.4" y="792.1" font-size="30" text-anchor="end" font-family="'Liberation Sans', Arial, sans-serif" fill="#111">0.8</text>
<text x="43.4" y="30.1" font-size="30" text-anchor="end" font-family="'Liberation Sans', Arial, sans-serif" fill="#111">1.0</text>
<text x="43.4" y="352.9" font-size="30" text-anchor="end" font-family="'Liberation Sans', Arial, sans-serif" fill="#111">1.0</text>
<text x="43.4" y="733.2" font-size="30" text-anchor="end" font-family="'Liberation Sans', Arial, sans-serif" fill="#111">1.0</text>
<text x="43.4" y="1351.2" font-size="30" text-anchor="end" font-family="'Liberation Sans', Arial, sans-serif" fill="#111">0.0</text>
<text x="43.4" y="1272.2" font-size="30" text-anchor="end" font-family="'Liberation Sans', Arial, sans-serif" fill="#111">0.2</text>
<text x="43.4" y="1193.2" font-size="30" text-anchor="end" font-family="'Liberation Sans', Arial, sans-serif" fill="#111">0.4</text>
<text x="43.4" y="1114.2" font-size="30" text-anchor="end" font-family="'Liberation Sans', Arial, sans-serif" fill="#111">0.6</text>
<text x="918.2" y="120.3" font-size="27" text-anchor="end" font-family="'Liberation Sans', Arial, sans-serif" fill="#111">0.0</text>
<text x="918.2" y="77.9" font-size="27" text-anchor="end" font-family="'Liberation Sans', Arial, sans-serif" fill="#111">0.4</text>
<text x="918.2" y="38" font-size="27" text-anchor="end" font-family="'Liberation Sans', Arial, sans-serif" fill="#111">0.8</text>
<text x="918.2" y="228.4" font-size="27" text-anchor="end" font-family="'Liberation Sans', Arial, sans-serif" fill="#111">0.0</text>
<text x="918.2" y="198.7" font-size="27" text-anchor="end" font-family="'Liberation Sans', Arial, sans-serif" fill="#111">0.2</text>
<text x="918.2" y="171.6" font-size="27" text-anchor="end" font-family="'Liberation Sans', Arial, sans-serif" fill="#111">0.4</text>
<text x="918.2" y="144.5" font-size="27" text-anchor="end" font-family="'Liberation Sans', Arial, sans-serif" fill="#111">0.6</text>
<text x="918.2" y="335.5" font-size="27" text-anchor="end" font-family="'Liberation Sans', Arial, sans-serif" fill="#111">0.0</text>
<text x="918.2" y="307.5" font-size="27" text-anchor="end" font-family="'Liberation Sans', Arial, sans-serif" fill="#111">0.1</text>
<text x="918.2" y="282" font-size="27" text-anchor="end" font-family="'Liberation Sans', Arial, sans-serif" fill="#111">0.2</text>
<text x="918.2" y="256.5" font-size="27" text-anchor="end" font-family="'Liberation Sans', Arial, sans-serif" fill="#111">0.3</text>
<text x="918.2" y="444.4" font-size="27" text-anchor="end" font-family="'Liberation Sans', Arial, sans-serif" fill="#111">0.0</text>
<text x="918.2" y="412.9" font-size="27" text-anchor="end" font-family="'Liberation Sans', Arial, sans-serif" fill="#111">0.2</text>
<text x="918.2" y="383.9" font-size="27" text-anchor="end" font-family="'Liberation Sans', Arial, sans-serif" fill="#111">0.4</text>
<text x="918.2" y="354.9" font-size="27" text-anchor="end" font-family="'Liberation Sans', Arial, sans-serif" fill="#111">0.6</text>
<text x="918.2" y="551.6" font-size="27" text-anchor="end" font-family="'Liberation Sans', Arial, sans-serif" fill="#111">0.0</text>
<text x="918.2" y="509.1" font-size="27" text-anchor="end" font-family="'Liberation Sans', Arial, sans-serif" fill="#111">0.4</text>
<text x="918.2" y="469.1" font-size="27" text-anchor="end" font-family="'Liberation Sans', Arial, sans-serif" fill="#111">0.8</text>
<text x="918.2" y="659.8" font-size="27" text-anchor="end" font-family="'Liberation Sans', Arial, sans-serif" fill="#111">0.0</text>
<text x="918.2" y="617.3" font-size="27" text-anchor="end" font-family="'Liberation Sans', Arial, sans-serif" fill="#111">0.1</text>
<text x="918.2" y="577.3" font-size="27" text-anchor="end" font-family="'Liberation Sans', Arial, sans-serif" fill="#111">0.2</text>
<text x="918.2" y="819.9" font-size="27" text-anchor="end" font-family="'Liberation Sans', Arial, sans-serif" fill="#111">0.0</text>
<text x="918.2" y="774.7" font-size="27" text-anchor="end" font-family="'Liberation Sans', Arial, sans-serif" fill="#111">0.2</text>
<text x="918.2" y="736" font-size="27" text-anchor="end" font-family="'Liberation Sans', Arial, sans-serif" fill="#111">0.4</text>
<text x="918.2" y="925.9" font-size="27" text-anchor="end" font-family="'Liberation Sans', Arial, sans-serif" fill="#111">0.0</text>
<text x="918.2" y="881.9" font-size="27" text-anchor="end" font-family="'Liberation Sans', Arial, sans-serif" fill="#111">0.2</text>
<text x="918.2" y="839.9" font-size="27" text-anchor="end" font-family="'Liberation Sans', Arial, sans-serif" fill="#111">0.4</text>
<text x="918.2" y="1033.9" font-size="27" text-anchor="end" font-family="'Liberation Sans', Arial, sans-serif" fill="#111">0.0</text>
<text x="918.2" y="991.9" font-size="27" text-anchor="end" font-family="'Liberation Sans', Arial, sans-serif" fill="#111">0.4</text>
<text x="918.2" y="951.9" font-size="27" text-anchor="end" font-family="'Liberation Sans', Arial, sans-serif" fill="#111">0.8</text>
<text x="918.2" y="1115.3" font-size="27" text-anchor="end" font-family="'Liberation Sans', Arial, sans-serif" fill="#111">0.2</text>
<text x="918.2" y="1057.8" font-size="27" text-anchor="end" font-family="'Liberation Sans', Arial, sans-serif" fill="#111">0.3</text>
<text x="918.2" y="1220.8" font-size="27" text-anchor="end" font-family="'Liberation Sans', Arial, sans-serif" fill="#111">0.2</text>
<text x="918.2" y="1162" font-size="27" text-anchor="end" font-family="'Liberation Sans', Arial, sans-serif" fill="#111">0.3</text>
<text x="918.2" y="1353.4" font-size="27" text-anchor="end" font-family="'Liberation Sans', Arial, sans-serif" fill="#111">0.0</text>
<text x="918.2" y="1314.4" font-size="27" text-anchor="end" font-family="'Liberation Sans', Arial, sans-serif" fill="#111">0.2</text>
<text x="918.2" y="1277.4" font-size="27" text-anchor="end" font-family="'Liberation Sans', Arial, sans-serif" fill="#111">0.4</text>
<text x="59.1" y="1383" font-size="33.5" text-anchor="middle" font-family="'Liberation Sans', Arial, sans-serif" fill="#111">0</text>
<text x="196.9" y="1383" font-size="33.5" text-anchor="middle" font-family="'Liberation Sans', Arial, sans-serif" fill="#111">250</text>
<text x="334.8" y="1383" font-size="33.5" text-anchor="middle" font-family="'Liberation Sans', Arial, sans-serif" fill="#111">500</text>
<text x="472.6" y="1383" font-size="33.5" text-anchor="middle" font-family="'Liberation Sans', Arial, sans-serif" fill="#111">750</text>
<text x="610.4" y="1383" font-size="33.5" text-anchor="middle" font-family="'Liberation Sans', Arial, sans-serif" fill="#111">1000</text>
<text x="748.2" y="1383" font-size="33.5" text-anchor="middle" font-family="'Liberation Sans', Arial, sans-serif" fill="#111">1250</text>
<text x="936.3" y="1384.5" font-size="33.5" text-anchor="middle" font-family="'Liberation Sans', Arial, sans-serif" fill="#111">0</text>
<text x="1124.7" y="1384.5" font-size="33.5" text-anchor="middle" font-family="'Liberation Sans', Arial, sans-serif" fill="#111">50</text>
<text x="1313.1" y="1384.5" font-size="33.5" text-anchor="middle" font-family="'Liberation Sans', Arial, sans-serif" fill="#111">100</text>
<text x="1501.5" y="1384.5" font-size="33.5" text-anchor="middle" font-family="'Liberation Sans', Arial, sans-serif" fill="#111">150</text>
<text x="1689.9" y="1384.5" font-size="33.5" text-anchor="middle" font-family="'Liberation Sans', Arial, sans-serif" fill="#111">200</text>
<text x="539.2" y="55" font-size="38.0" text-anchor="middle" font-family="'Liberation Serif', 'DejaVu Serif', serif" fill="#111">|</text>
<text x="553.4" y="55" font-size="38.0" text-anchor="middle" font-family="'Liberation Serif', 'DejaVu Serif', serif" font-style="italic" fill="#111">ϕ</text>
<text x="581.4" y="60.6" font-size="28.0" text-anchor="middle" font-family="'Liberation Serif', 'DejaVu Serif', serif" font-style="italic" fill="#111">M</text>
<text x="606" y="58.2" font-size="41.0" text-anchor="middle" font-family="'DejaVu Serif', serif" fill="#111" stroke="#fff" stroke-width="1.1">⟩</text>
<text x="639" y="58.7" font-size="36.0" text-anchor="middle" font-family="'Noto Serif CJK SC', 'Noto Serif CJK JP', 'Liberation Serif', serif" fill="#111">≡</text>
<text x="669" y="55" font-size="38.0" text-anchor="middle" font-family="'Liberation Serif', 'DejaVu Serif', serif" fill="#111">|</text>
<text x="684.2" y="55" font-size="38.0" text-anchor="middle" font-family="'Liberation Serif', 'DejaVu Serif', serif" fill="#111">1</text>
<text x="704.8" y="60.6" font-size="28.0" text-anchor="middle" font-family="'Liberation Serif', 'DejaVu Serif', serif" font-style="italic" fill="#111">A</text>
<text x="724" y="58.2" font-size="41.0" text-anchor="middle" font-family="'DejaVu Serif', serif" fill="#111" stroke="#fff" stroke-width="1.1">⟩</text>
<text x="540.9" y="369.3" font-size="38.0" text-anchor="middle" font-family="'Liberation Serif', 'DejaVu Serif', serif" fill="#111">|</text>
<text x="555.1" y="369.3" font-size="38.0" text-anchor="middle" font-family="'Liberation Serif', 'DejaVu Serif', serif" font-style="italic" fill="#111">ϕ</text>
<text x="583.1" y="374.9" font-size="28.0" text-anchor="middle" font-family="'Liberation Serif', 'DejaVu Serif', serif" font-style="italic" fill="#111">M</text>
<text x="607.7" y="372.5" font-size="41.0" text-anchor="middle" font-family="'DejaVu Serif', serif" fill="#111" stroke="#fff" stroke-width="1.1">⟩</text>
<text x="640.7" y="373" font-size="36.0" text-anchor="middle" font-family="'Noto Serif CJK SC', 'Noto Serif CJK JP', 'Liberation Serif', serif" fill="#111">≡</text>
<text x="670.7" y="369.3" font-size="38.0" text-anchor="middle" font-family="'Liberation Serif', 'DejaVu Serif', serif" fill="#111">|</text>
<text x="685.9" y="369.3" font-size="38.0" text-anchor="middle" font-family="'Liberation Serif', 'DejaVu Serif', serif" fill="#111">2</text>
<text x="706.5" y="374.9" font-size="28.0" text-anchor="middle" font-family="'Liberation Serif', 'DejaVu Serif', serif" font-style="italic" fill="#111">A</text>
<text x="725.7" y="372.5" font-size="41.0" text-anchor="middle" font-family="'DejaVu Serif', serif" fill="#111" stroke="#fff" stroke-width="1.1">⟩</text>
<text x="540.9" y="754.3" font-size="38.0" text-anchor="middle" font-family="'Liberation Serif', 'DejaVu Serif', serif" fill="#111">|</text>
<text x="555.1" y="754.3" font-size="38.0" text-anchor="middle" font-family="'Liberation Serif', 'DejaVu Serif', serif" font-style="italic" fill="#111">ϕ</text>
<text x="583.1" y="759.9" font-size="28.0" text-anchor="middle" font-family="'Liberation Serif', 'DejaVu Serif', serif" font-style="italic" fill="#111">M</text>
<text x="607.7" y="757.5" font-size="41.0" text-anchor="middle" font-family="'DejaVu Serif', serif" fill="#111" stroke="#fff" stroke-width="1.1">⟩</text>
<text x="640.7" y="758" font-size="36.0" text-anchor="middle" font-family="'Noto Serif CJK SC', 'Noto Serif CJK JP', 'Liberation Serif', serif" fill="#111">≡</text>
<text x="670.7" y="754.3" font-size="38.0" text-anchor="middle" font-family="'Liberation Serif', 'DejaVu Serif', serif" fill="#111">|</text>
<text x="685.9" y="754.3" font-size="38.0" text-anchor="middle" font-family="'Liberation Serif', 'DejaVu Serif', serif" fill="#111">3</text>
<text x="706.5" y="759.9" font-size="28.0" text-anchor="middle" font-family="'Liberation Serif', 'DejaVu Serif', serif" font-style="italic" fill="#111">A</text>
<text x="725.7" y="757.5" font-size="41.0" text-anchor="middle" font-family="'DejaVu Serif', serif" fill="#111" stroke="#fff" stroke-width="1.1">⟩</text>
<text x="1399.3" y="42.6" font-size="38.0" text-anchor="middle" font-family="'Liberation Serif', 'DejaVu Serif', serif" fill="#111">|</text>
<text x="1413.5" y="42.6" font-size="38.0" text-anchor="middle" font-family="'Liberation Serif', 'DejaVu Serif', serif" font-style="italic" fill="#111">ϕ</text>
<text x="1441.5" y="48.2" font-size="28.0" text-anchor="middle" font-family="'Liberation Serif', 'DejaVu Serif', serif" font-style="italic" fill="#111">M</text>
<text x="1466.1" y="45.8" font-size="41.0" text-anchor="middle" font-family="'DejaVu Serif', serif" fill="#111" stroke="#fff" stroke-width="1.1">⟩</text>
<text x="1499.1" y="46.3" font-size="36.0" text-anchor="middle" font-family="'Noto Serif CJK SC', 'Noto Serif CJK JP', 'Liberation Serif', serif" fill="#111">≡</text>
<text x="1529.1" y="42.6" font-size="38.0" text-anchor="middle" font-family="'Liberation Serif', 'DejaVu Serif', serif" fill="#111">|</text>
<text x="1544.3" y="42.6" font-size="38.0" text-anchor="middle" font-family="'Liberation Serif', 'DejaVu Serif', serif" fill="#111">1</text>
<text x="1564.9" y="48.2" font-size="28.0" text-anchor="middle" font-family="'Liberation Serif', 'DejaVu Serif', serif" font-style="italic" fill="#111">A</text>
<text x="1584.1" y="45.8" font-size="41.0" text-anchor="middle" font-family="'DejaVu Serif', serif" fill="#111" stroke="#fff" stroke-width="1.1">⟩</text>
<text x="1381.8" y="367" font-size="38.0" text-anchor="middle" font-family="'Liberation Serif', 'DejaVu Serif', serif" fill="#111">|</text>
<text x="1396" y="367" font-size="38.0" text-anchor="middle" font-family="'Liberation Serif', 'DejaVu Serif', serif" font-style="italic" fill="#111">ϕ</text>
<text x="1424" y="372.6" font-size="28.0" text-anchor="middle" font-family="'Liberation Serif', 'DejaVu Serif', serif" font-style="italic" fill="#111">M</text>
<text x="1448.6" y="370.2" font-size="41.0" text-anchor="middle" font-family="'DejaVu Serif', serif" fill="#111" stroke="#fff" stroke-width="1.1">⟩</text>
<text x="1481.6" y="370.7" font-size="36.0" text-anchor="middle" font-family="'Noto Serif CJK SC', 'Noto Serif CJK JP', 'Liberation Serif', serif" fill="#111">≡</text>
<text x="1511.6" y="367" font-size="38.0" text-anchor="middle" font-family="'Liberation Serif', 'DejaVu Serif', serif" fill="#111">|</text>
<text x="1526.8" y="367" font-size="38.0" text-anchor="middle" font-family="'Liberation Serif', 'DejaVu Serif', serif" fill="#111">2</text>
<text x="1547.4" y="372.6" font-size="28.0" text-anchor="middle" font-family="'Liberation Serif', 'DejaVu Serif', serif" font-style="italic" fill="#111">A</text>
<text x="1566.6" y="370.2" font-size="41.0" text-anchor="middle" font-family="'DejaVu Serif', serif" fill="#111" stroke="#fff" stroke-width="1.1">⟩</text>
<text x="1388.7" y="739.6" font-size="38.0" text-anchor="middle" font-family="'Liberation Serif', 'DejaVu Serif', serif" fill="#111">|</text>
<text x="1402.9" y="739.6" font-size="38.0" text-anchor="middle" font-family="'Liberation Serif', 'DejaVu Serif', serif" font-style="italic" fill="#111">ϕ</text>
<text x="1430.9" y="745.2" font-size="28.0" text-anchor="middle" font-family="'Liberation Serif', 'DejaVu Serif', serif" font-style="italic" fill="#111">M</text>
<text x="1455.5" y="742.8" font-size="41.0" text-anchor="middle" font-family="'DejaVu Serif', serif" fill="#111" stroke="#fff" stroke-width="1.1">⟩</text>
<text x="1488.5" y="743.3" font-size="36.0" text-anchor="middle" font-family="'Noto Serif CJK SC', 'Noto Serif CJK JP', 'Liberation Serif', serif" fill="#111">≡</text>
<text x="1518.5" y="739.6" font-size="38.0" text-anchor="middle" font-family="'Liberation Serif', 'DejaVu Serif', serif" fill="#111">|</text>
<text x="1533.7" y="739.6" font-size="38.0" text-anchor="middle" font-family="'Liberation Serif', 'DejaVu Serif', serif" fill="#111">3</text>
<text x="1554.3" y="745.2" font-size="28.0" text-anchor="middle" font-family="'Liberation Serif', 'DejaVu Serif', serif" font-style="italic" fill="#111">A</text>
<text x="1573.5" y="742.8" font-size="41.0" text-anchor="middle" font-family="'DejaVu Serif', serif" fill="#111" stroke="#fff" stroke-width="1.1">⟩</text>
<text x="289.5" y="1090" font-size="38.0" text-anchor="middle" font-family="'Liberation Serif', 'DejaVu Serif', serif" fill="#111">|</text>
<text x="303.3" y="1090" font-size="38.0" text-anchor="middle" font-family="'Liberation Serif', 'DejaVu Serif', serif" font-style="italic" fill="#111">ϕ</text>
<text x="331.3" y="1095.6" font-size="28.0" text-anchor="middle" font-family="'Liberation Serif', 'DejaVu Serif', serif" font-style="italic" fill="#111">M</text>
<text x="355.6" y="1093.2" font-size="41.0" text-anchor="middle" font-family="'DejaVu Serif', serif" fill="#111" stroke="#fff" stroke-width="1.1">⟩</text>
<text x="388.6" y="1093.7" font-size="36.0" text-anchor="middle" font-family="'Noto Serif CJK SC', 'Noto Serif CJK JP', 'Liberation Serif', serif" fill="#111">≡</text>
<text x="437.6" y="1075.3" font-size="26.0" text-anchor="middle" font-family="'Liberation Serif', 'DejaVu Serif', serif" fill="#111">1</text>
<text x="427.4" y="1109" font-size="30.0" text-anchor="middle" font-family="'Liberation Serif', 'DejaVu Serif', serif" fill="#111">√</text>
<text x="450.4" y="1107.6" font-size="27.0" text-anchor="middle" font-family="'Liberation Serif', 'DejaVu Serif', serif" fill="#111">3</text>
<text x="475.7" y="1090" font-size="38.0" text-anchor="middle" font-family="'Liberation Serif', 'DejaVu Serif', serif" fill="#111">(</text>
<text x="488.5" y="1090" font-size="38.0" text-anchor="middle" font-family="'Liberation Serif', 'DejaVu Serif', serif" fill="#111">|</text>
<text x="502.4" y="1090" font-size="38.0" text-anchor="middle" font-family="'Liberation Serif', 'DejaVu Serif', serif" fill="#111">1</text>
<text x="522.1" y="1095.6" font-size="28.0" text-anchor="middle" font-family="'Liberation Serif', 'DejaVu Serif', serif" font-style="italic" fill="#111">A</text>
<text x="541.3" y="1093.2" font-size="41.0" text-anchor="middle" font-family="'DejaVu Serif', serif" fill="#111" stroke="#fff" stroke-width="1.1">⟩</text>
<text x="573.1" y="1098" font-size="47.0" text-anchor="middle" font-family="'Noto Serif CJK SC', 'Noto Serif CJK JP', 'Liberation Serif', serif" fill="#111">+</text>
<text x="601.7" y="1090" font-size="38.0" text-anchor="middle" font-family="'Liberation Serif', 'DejaVu Serif', serif" fill="#111">|</text>
<text x="615.7" y="1090" font-size="38.0" text-anchor="middle" font-family="'Liberation Serif', 'DejaVu Serif', serif" fill="#111">2</text>
<text x="636.6" y="1095.6" font-size="28.0" text-anchor="middle" font-family="'Liberation Serif', 'DejaVu Serif', serif" font-style="italic" fill="#111">A</text>
<text x="655.2" y="1093.2" font-size="41.0" text-anchor="middle" font-family="'DejaVu Serif', serif" fill="#111" stroke="#fff" stroke-width="1.1">⟩</text>
<text x="686.9" y="1098" font-size="47.0" text-anchor="middle" font-family="'Noto Serif CJK SC', 'Noto Serif CJK JP', 'Liberation Serif', serif" fill="#111">+</text>
<text x="715.3" y="1090" font-size="38.0" text-anchor="middle" font-family="'Liberation Serif', 'DejaVu Serif', serif" fill="#111">|</text>
<text x="729.2" y="1090" font-size="38.0" text-anchor="middle" font-family="'Liberation Serif', 'DejaVu Serif', serif" fill="#111">3</text>
<text x="749.7" y="1095.6" font-size="28.0" text-anchor="middle" font-family="'Liberation Serif', 'DejaVu Serif', serif" font-style="italic" fill="#111">A</text>
<text x="768.7" y="1093.2" font-size="41.0" text-anchor="middle" font-family="'DejaVu Serif', serif" fill="#111" stroke="#fff" stroke-width="1.1">⟩</text>
<text x="783.7" y="1090" font-size="38.0" text-anchor="middle" font-family="'Liberation Serif', 'DejaVu Serif', serif" fill="#111">)</text>
<line x1="418.4" y1="1080.6" x2="456.4" y2="1080.6" stroke="#111" stroke-width="1.6"/>
<line x1="434.7" y1="1083.7" x2="456.4" y2="1083.7" stroke="#111" stroke-width="1.4"/>
<text x="1244.8" y="1089.5" font-size="32.38" text-anchor="middle" font-family="'Liberation Serif', 'DejaVu Serif', serif" fill="#111">|</text>
<text x="1256.5" y="1089.5" font-size="32.38" text-anchor="middle" font-family="'Liberation Serif', 'DejaVu Serif', serif" font-style="italic" fill="#111">ϕ</text>
<text x="1280.4" y="1094.3" font-size="23.86" text-anchor="middle" font-family="'Liberation Serif', 'DejaVu Serif', serif" font-style="italic" fill="#111">M</text>
<text x="1301.1" y="1092.2" font-size="34.94" text-anchor="middle" font-family="'DejaVu Serif', serif" fill="#111" stroke="#fff" stroke-width="0.94">⟩</text>
<text x="1329.2" y="1092.7" font-size="30.68" text-anchor="middle" font-family="'Noto Serif CJK SC', 'Noto Serif CJK JP', 'Liberation Serif', serif" fill="#111">≡</text>
<text x="1371" y="1077" font-size="22.15" text-anchor="middle" font-family="'Liberation Serif', 'DejaVu Serif', serif" fill="#111">1</text>
<text x="1362.3" y="1105.7" font-size="25.56" text-anchor="middle" font-family="'Liberation Serif', 'DejaVu Serif', serif" fill="#111">√</text>
<text x="1381.9" y="1104.5" font-size="23.0" text-anchor="middle" font-family="'Liberation Serif', 'DejaVu Serif', serif" fill="#111">3</text>
<text x="1403.4" y="1089.5" font-size="32.38" text-anchor="middle" font-family="'Liberation Serif', 'DejaVu Serif', serif" fill="#111">(</text>
<text x="1414.3" y="1089.5" font-size="32.38" text-anchor="middle" font-family="'Liberation Serif', 'DejaVu Serif', serif" fill="#111">|</text>
<text x="1426.2" y="1089.5" font-size="32.38" text-anchor="middle" font-family="'Liberation Serif', 'DejaVu Serif', serif" fill="#111">1</text>
<text x="1443" y="1094.3" font-size="23.86" text-anchor="middle" font-family="'Liberation Serif', 'DejaVu Serif', serif" font-style="italic" fill="#111">A</text>
<text x="1459.3" y="1092.2" font-size="34.94" text-anchor="middle" font-family="'DejaVu Serif', serif" fill="#111" stroke="#fff" stroke-width="0.94">⟩</text>
<text x="1486.4" y="1096.3" font-size="40.05" text-anchor="middle" font-family="'Noto Serif CJK SC', 'Noto Serif CJK JP', 'Liberation Serif', serif" fill="#111">+</text>
<text x="1510.8" y="1089.5" font-size="32.38" text-anchor="middle" font-family="'Liberation Serif', 'DejaVu Serif', serif" fill="#111">|</text>
<text x="1522.7" y="1089.5" font-size="32.38" text-anchor="middle" font-family="'Liberation Serif', 'DejaVu Serif', serif" fill="#111">2</text>
<text x="1540.5" y="1094.3" font-size="23.86" text-anchor="middle" font-family="'Liberation Serif', 'DejaVu Serif', serif" font-style="italic" fill="#111">A</text>
<text x="1556.4" y="1092.2" font-size="34.94" text-anchor="middle" font-family="'DejaVu Serif', serif" fill="#111" stroke="#fff" stroke-width="0.94">⟩</text>
<text x="1583.4" y="1096.3" font-size="40.05" text-anchor="middle" font-family="'Noto Serif CJK SC', 'Noto Serif CJK JP', 'Liberation Serif', serif" fill="#111">+</text>
<text x="1607.6" y="1089.5" font-size="32.38" text-anchor="middle" font-family="'Liberation Serif', 'DejaVu Serif', serif" fill="#111">|</text>
<text x="1619.4" y="1089.5" font-size="32.38" text-anchor="middle" font-family="'Liberation Serif', 'DejaVu Serif', serif" fill="#111">3</text>
<text x="1636.9" y="1094.3" font-size="23.86" text-anchor="middle" font-family="'Liberation Serif', 'DejaVu Serif', serif" font-style="italic" fill="#111">A</text>
<text x="1653.1" y="1092.2" font-size="34.94" text-anchor="middle" font-family="'DejaVu Serif', serif" fill="#111" stroke="#fff" stroke-width="0.94">⟩</text>
<text x="1665.8" y="1089.5" font-size="32.38" text-anchor="middle" font-family="'Liberation Serif', 'DejaVu Serif', serif" fill="#111">)</text>
<line x1="1354.6" y1="1081.5" x2="1387" y2="1081.5" stroke="#111" stroke-width="1.36"/>
<line x1="1368.5" y1="1084.1" x2="1387" y2="1084.1" stroke="#111" stroke-width="1.19"/>
<text x="760" y="55.3" font-size="42.5" text-anchor="start" font-family="'Liberation Sans', Arial, sans-serif" fill="#111">(a)</text>
<text x="755.8" y="753.1" font-size="42.5" text-anchor="start" font-family="'Liberation Sans', Arial, sans-serif" fill="#111">(b)</text>
<text x="1622.3" y="43" font-size="42.5" text-anchor="start" font-family="'Liberation Sans', Arial, sans-serif" fill="#111">(c)</text>
<text x="1612.8" y="740.5" font-size="42.5" text-anchor="start" font-family="'Liberation Sans', Arial, sans-serif" fill="#111">(d)</text>
<text x="403.4" y="1435" font-size="41" text-anchor="start" font-family="'Liberation Serif', 'DejaVu Serif', serif" font-style="italic" fill="#111">t</text>
<text x="427.2" y="1435" font-size="41" text-anchor="start" font-family="'Liberation Serif', 'DejaVu Serif', serif" fill="#111">(ns)</text>
<text x="1325.2" y="1427.4" font-size="41" text-anchor="start" font-family="'Liberation Serif', 'DejaVu Serif', serif" font-style="italic" fill="#111">t</text>
<text x="1348.1" y="1427.4" font-size="41" text-anchor="start" font-family="'Liberation Serif', 'DejaVu Serif', serif" fill="#111">(ns)</text>
<circle cx="160.4" cy="46" r="5.2" fill="#bdb5b8"/>
<text x="181" y="53.1" font-family="'Liberation Sans', Arial, sans-serif" font-size="23.8" fill="#222"><tspan font-style="italic">P</tspan><tspan font-size="17.8" dy="4.8">1</tspan></text>
<circle cx="160.4" cy="87.6" r="5.2" fill="#129e9b"/>
<text x="181" y="94.7" font-family="'Liberation Sans', Arial, sans-serif" font-size="23.8" fill="#222"><tspan font-style="italic">P</tspan><tspan font-size="17.8" dy="4.8">2</tspan></text>
<circle cx="160.4" cy="128.9" r="5.2" fill="#4b5b97"/>
<text x="181" y="136" font-family="'Liberation Sans', Arial, sans-serif" font-size="23.8" fill="#222"><tspan font-style="italic">P</tspan><tspan font-size="17.8" dy="4.8">3</tspan></text>
<circle cx="160.2" cy="754.2" r="5.2" fill="#bdb5b8"/>
<text x="181.3" y="761.3" font-family="'Liberation Sans', Arial, sans-serif" font-size="23.8" fill="#222"><tspan font-style="italic">P</tspan><tspan font-size="17.8" dy="4.8">1</tspan></text>
<circle cx="160.2" cy="795.7" r="5.2" fill="#129e9b"/>
<text x="181.3" y="802.8" font-family="'Liberation Sans', Arial, sans-serif" font-size="23.8" fill="#222"><tspan font-style="italic">P</tspan><tspan font-size="17.8" dy="4.8">2</tspan></text>
<circle cx="160.2" cy="836.4" r="5.2" fill="#4b5b97"/>
<text x="181.3" y="843.5" font-family="'Liberation Sans', Arial, sans-serif" font-size="23.8" fill="#222"><tspan font-style="italic">P</tspan><tspan font-size="17.8" dy="4.8">3</tspan></text>
<circle cx="1732.7" cy="557.7" r="8.2" fill="#c9c0c4"/>
<text x="1759" y="567" font-family="'Liberation Sans', Arial, sans-serif" font-size="25" fill="#3c3c3c"><tspan font-style="italic">P</tspan><tspan font-size="22.5" dy="8.6">1</tspan></text>
<circle cx="1732.7" cy="616.4" r="8.2" fill="#5f5257"/>
<text x="1759" y="625.6" font-family="'Liberation Sans', Arial, sans-serif" font-size="24" fill="#3c3c3c">(ΔA<tspan font-size="23" dy="8.5">11</tspan><tspan dy="-8.5">)</tspan><tspan font-size="23" dy="-10.5">2</tspan></text>
<circle cx="1732.7" cy="696" r="8.2" fill="#17a3a1"/>
<text x="1759" y="705.3" font-family="'Liberation Sans', Arial, sans-serif" font-size="25" fill="#3c3c3c"><tspan font-style="italic">P</tspan><tspan font-size="22.5" dy="8.6">2</tspan></text>
<circle cx="1732.7" cy="753.6" r="8.2" fill="#a1a040"/>
<text x="1759" y="762.8" font-family="'Liberation Sans', Arial, sans-serif" font-size="24" fill="#3c3c3c">(ΔA<tspan font-size="23" dy="8.5">22</tspan><tspan dy="-8.5">)</tspan><tspan font-size="23" dy="-10.5">2</tspan></text>
<circle cx="1732.7" cy="833.6" r="8.2" fill="#5466a4"/>
<text x="1759" y="842.9" font-family="'Liberation Sans', Arial, sans-serif" font-size="25" fill="#3c3c3c"><tspan font-style="italic">P</tspan><tspan font-size="22.5" dy="8.6">3</tspan></text>
<circle cx="1732.7" cy="891.5" r="8.2" fill="#a13a58"/>
<text x="1759" y="900.7" font-family="'Liberation Sans', Arial, sans-serif" font-size="24" fill="#3c3c3c">(ΔA<tspan font-size="23" dy="8.5">33</tspan><tspan dy="-8.5">)</tspan><tspan font-size="23" dy="-10.5">2</tspan></text></svg>
</body></html>
